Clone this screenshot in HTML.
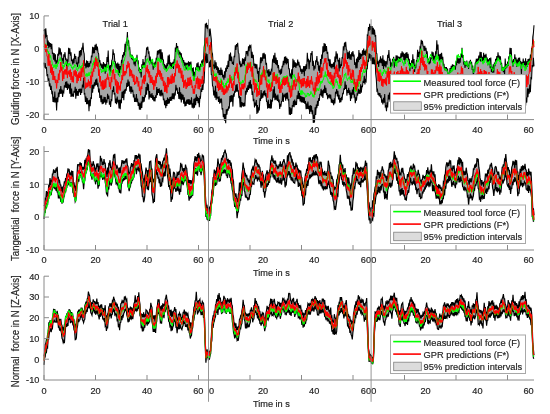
<!DOCTYPE html>
<html><head><meta charset="utf-8"><title>GPR force predictions</title>
<style>html,body{margin:0;padding:0;background:#fff;width:550px;height:414px;overflow:hidden} svg{display:block}</style>
</head><body>
<svg width="550" height="414" viewBox="0 0 550 414">
<style>.t{font-family:'Liberation Sans', Arial, sans-serif;font-size:9.2px;fill:#262626;stroke:#262626;stroke-width:0.18px} .t2{font-family:'Liberation Sans', Arial, sans-serif;font-size:9.2px;fill:#1a1a1a;stroke:#1a1a1a;stroke-width:0.18px} .yl{font-size:9.55px} .lg{font-size:9.3px}</style>
<rect width="550" height="414" fill="#fff"/>
<polygon points="44.0,29.9 44.6,30.6 45.2,31.3 45.8,31.9 46.4,34.0 47.0,37.8 47.6,41.7 48.2,44.2 48.8,43.9 49.4,44.0 50.0,44.2 50.6,44.7 51.2,46.0 51.8,49.0 52.4,51.9 53.0,54.9 53.6,56.1 54.2,56.7 54.8,57.5 55.4,58.1 56.0,61.5 56.6,63.1 57.2,60.2 57.8,57.2 58.4,54.1 59.0,52.5 59.6,52.2 60.2,51.8 60.8,52.3 61.4,55.3 62.0,58.6 62.6,61.8 63.2,61.9 63.8,58.3 64.4,54.4 65.0,54.3 65.6,57.5 66.2,60.9 66.8,63.6 67.4,61.5 68.0,57.8 68.6,53.6 69.2,52.6 69.8,52.1 70.4,53.1 71.0,55.2 71.6,58.4 72.2,61.8 72.8,63.0 73.4,61.9 74.0,59.6 74.6,57.0 75.2,56.5 75.8,59.6 76.4,63.0 77.0,66.7 77.6,64.0 78.2,60.5 78.8,56.8 79.4,53.4 80.0,53.7 80.6,54.0 81.2,54.0 81.8,50.9 82.4,48.1 83.0,45.5 83.6,49.5 84.2,56.3 84.8,62.7 85.4,67.3 86.0,65.3 86.6,64.1 87.2,63.4 87.8,63.6 88.4,64.4 89.0,64.8 89.6,64.9 90.2,64.8 90.8,62.2 91.4,59.2 92.0,55.4 92.6,52.8 93.2,51.5 93.8,50.5 94.4,49.5 95.0,47.8 95.6,46.3 96.2,46.7 96.8,47.3 97.4,48.1 98.0,51.1 98.6,55.2 99.2,58.7 99.8,61.3 100.4,63.4 101.0,65.7 101.6,66.3 102.2,66.5 102.8,66.3 103.4,65.8 104.0,65.2 104.6,65.0 105.2,65.1 105.8,65.7 106.4,64.6 107.0,60.9 107.6,59.6 108.2,59.2 108.8,63.9 109.4,67.7 110.0,69.8 110.6,68.1 111.2,65.8 111.8,61.7 112.4,57.2 113.0,52.3 113.6,52.1 114.2,55.3 114.8,59.2 115.4,63.7 116.0,66.2 116.6,66.6 117.2,66.2 117.8,66.3 118.4,67.6 119.0,68.9 119.6,69.9 120.2,69.0 120.8,65.9 121.4,62.8 122.0,59.9 122.6,57.3 123.2,55.8 123.8,54.8 124.4,53.1 125.0,51.1 125.6,48.5 126.2,43.8 126.8,38.6 127.4,35.5 128.0,38.4 128.6,42.2 129.2,47.2 129.8,52.0 130.4,55.3 131.0,56.0 131.6,56.2 132.2,56.6 132.8,57.7 133.4,59.9 134.0,62.2 134.6,64.5 135.2,64.5 135.8,61.8 136.4,59.0 137.0,58.5 137.6,61.3 138.2,64.3 138.8,67.6 139.4,70.3 140.0,71.1 140.6,71.3 141.2,70.0 141.8,67.3 142.4,65.1 143.0,65.0 143.6,64.3 144.2,63.8 144.8,63.4 145.4,59.2 146.0,54.4 146.6,49.5 147.2,47.0 147.8,49.2 148.4,51.6 149.0,54.3 149.6,57.9 150.2,60.0 150.8,61.2 151.4,61.8 152.0,62.2 152.6,63.8 153.2,66.2 153.8,66.1 154.4,65.8 155.0,64.3 155.6,62.1 156.2,59.9 156.8,57.1 157.4,54.1 158.0,53.0 158.6,52.2 159.2,51.8 159.8,51.5 160.4,52.2 161.0,52.6 161.6,53.2 162.2,54.5 162.8,58.1 163.4,61.5 164.0,63.7 164.6,65.5 165.2,66.8 165.8,67.4 166.4,66.6 166.9,65.6 167.5,64.0 168.1,63.3 168.7,62.8 169.3,62.6 169.9,62.6 170.5,63.8 171.1,65.2 171.7,66.4 172.3,64.1 172.9,63.4 173.5,62.9 174.1,62.2 174.7,59.1 175.3,54.7 175.9,49.6 176.5,47.2 177.1,46.2 177.7,49.0 178.3,51.6 178.9,53.7 179.5,54.1 180.1,54.5 180.7,55.3 181.3,56.4 181.9,57.4 182.5,59.0 183.1,60.6 183.7,62.3 184.3,64.1 184.9,66.1 185.5,66.3 186.1,66.3 186.7,66.5 187.3,65.1 187.9,64.6 188.5,64.0 189.1,63.4 189.7,63.7 190.3,63.8 190.9,64.1 191.5,67.5 192.1,70.5 192.7,73.0 193.3,75.5 193.9,76.9 194.5,75.1 195.1,72.4 195.7,69.6 196.3,66.8 196.9,66.2 197.5,66.3 198.1,66.7 198.7,67.2 199.3,68.3 199.9,67.4 200.5,65.6 201.1,63.4 201.7,62.1 202.3,62.3 202.9,62.4 203.5,60.5 204.1,54.7 204.7,42.5 205.3,26.1 205.9,24.0 206.5,24.6 207.1,25.9 207.7,27.7 208.3,30.1 208.9,32.5 209.5,32.3 210.1,31.5 210.7,30.5 211.3,40.7 211.9,49.5 212.5,55.8 213.1,62.6 213.7,67.7 214.3,67.6 214.9,67.0 215.5,66.7 216.1,66.3 216.7,67.4 217.3,68.4 217.9,69.4 218.5,70.9 219.1,72.7 219.7,72.9 220.3,72.3 220.9,71.4 221.5,71.0 222.1,73.2 222.7,75.9 223.3,77.8 223.9,78.3 224.5,76.7 225.1,74.3 225.7,71.4 226.3,69.4 226.9,67.4 227.5,65.7 228.1,64.5 228.7,63.4 229.3,61.1 229.9,58.7 230.5,57.1 231.1,57.9 231.7,59.6 232.3,62.8 232.9,64.5 233.5,61.1 234.1,57.7 234.7,53.4 235.3,48.8 235.9,47.2 236.5,45.7 237.1,44.0 237.7,46.6 238.3,51.2 238.9,56.0 239.5,61.1 240.1,65.6 240.7,65.8 241.3,65.8 241.9,62.8 242.5,61.7 243.1,61.9 243.7,62.2 244.3,61.7 244.9,61.2 245.5,56.9 246.1,53.7 246.7,52.6 247.3,53.6 247.9,54.7 248.5,52.4 249.1,49.8 249.7,47.9 250.3,45.7 250.9,47.9 251.5,50.1 252.1,53.4 252.7,56.5 253.3,59.8 253.9,63.5 254.5,67.0 255.1,66.7 255.7,66.0 256.3,65.2 256.9,67.6 257.5,69.9 258.1,72.4 258.7,73.2 259.3,69.7 259.9,65.5 260.5,61.4 261.1,60.7 261.7,59.9 262.3,58.7 262.9,57.2 263.5,56.1 264.1,55.9 264.7,56.2 265.3,57.4 265.9,61.7 266.5,66.0 267.1,70.3 267.7,72.7 268.3,72.2 268.9,71.7 269.5,73.7 270.1,74.4 270.7,73.5 271.3,71.2 271.9,67.2 272.5,63.5 273.1,59.9 273.7,58.5 274.3,59.0 274.9,61.3 275.5,61.5 276.1,61.1 276.7,61.8 277.3,62.7 277.9,64.3 278.5,67.9 279.1,70.0 279.7,72.5 280.3,73.4 280.9,72.6 281.5,70.0 282.1,67.1 282.7,64.1 283.3,62.8 283.9,61.5 284.5,60.7 285.1,60.8 285.7,61.4 286.3,60.8 286.9,59.8 287.5,59.6 288.1,63.0 288.7,67.0 289.3,71.1 289.9,73.2 290.5,75.4 291.1,75.7 291.7,74.5 292.3,70.7 292.9,66.7 293.5,63.8 294.1,63.2 294.7,63.7 295.3,64.3 295.9,64.7 296.5,64.8 297.1,63.8 297.7,62.7 298.3,61.9 298.9,63.6 299.5,65.2 300.1,67.1 300.7,70.4 301.3,70.8 301.9,71.5 302.5,71.5 303.1,70.2 303.7,69.2 304.3,68.1 304.9,67.3 305.5,67.4 306.1,66.3 306.7,63.9 307.3,61.4 307.9,59.4 308.5,60.7 309.1,61.5 309.7,62.1 310.3,59.1 310.9,56.0 311.5,53.4 312.1,54.5 312.7,59.4 313.3,64.0 313.9,67.2 314.5,69.2 315.1,66.5 315.7,63.6 316.3,60.8 316.9,59.5 317.5,62.1 318.1,64.8 318.7,67.4 319.3,69.1 319.9,65.1 320.5,61.1 321.1,58.2 321.7,57.2 322.3,55.6 322.9,54.0 323.5,50.3 324.1,45.9 324.7,45.2 325.3,45.3 325.9,47.2 326.5,48.8 327.1,52.2 327.7,55.9 328.3,59.0 328.9,61.6 329.5,62.5 330.1,62.9 330.7,64.1 331.3,65.7 331.9,65.8 332.5,65.8 333.1,65.8 333.7,64.6 334.3,62.4 334.9,59.4 335.5,56.2 336.1,53.8 336.7,55.2 337.3,57.5 337.9,60.1 338.5,63.1 339.1,64.4 339.7,65.1 340.3,65.6 340.9,65.9 341.5,63.9 342.1,59.6 342.7,55.5 343.3,51.2 343.9,47.8 344.5,45.8 345.1,43.5 345.7,43.7 346.3,47.7 346.9,53.1 347.5,55.3 348.1,56.3 348.7,55.0 349.3,54.1 349.9,55.1 350.5,56.1 351.1,57.4 351.7,56.0 352.3,54.5 352.9,52.6 353.5,53.8 354.1,57.5 354.7,61.3 355.3,65.3 355.9,65.2 356.5,63.8 357.1,62.1 357.7,60.1 358.3,59.2 358.9,57.9 359.5,56.8 360.1,55.6 360.7,55.9 361.3,56.2 361.9,55.0 362.5,53.5 363.1,52.3 363.7,51.4 364.3,52.7 364.9,54.3 365.5,54.0 366.1,51.8 366.7,49.1 367.3,37.3 367.9,33.2 368.5,30.8 369.1,28.3 369.7,27.5 370.3,28.3 370.9,29.4 371.5,31.1 372.1,32.6 372.7,32.1 373.3,31.5 373.9,31.6 374.5,32.1 375.1,32.3 375.7,39.8 376.3,50.4 376.9,58.4 377.5,62.7 378.1,63.5 378.7,63.2 379.3,62.5 379.9,60.7 380.5,59.9 381.1,60.7 381.7,61.7 382.3,62.0 382.9,62.0 383.5,61.8 384.1,61.8 384.7,62.5 385.3,63.3 385.9,64.2 386.5,63.7 387.1,61.0 387.7,57.9 388.3,55.9 388.9,56.1 389.5,57.9 390.1,61.7 390.7,64.3 391.3,65.0 391.9,64.1 392.5,61.5 393.1,59.0 393.7,58.7 394.3,59.7 394.9,60.7 395.5,61.2 396.1,59.0 396.7,57.6 397.3,57.5 397.9,57.5 398.5,58.6 399.1,59.5 399.7,58.8 400.3,58.2 400.9,56.7 401.5,54.8 402.1,54.2 402.7,54.2 403.3,55.7 403.9,56.4 404.5,56.2 405.1,56.4 405.7,56.8 406.3,55.2 406.9,55.3 407.5,55.0 408.1,55.8 408.7,58.7 409.3,61.2 409.9,64.0 410.5,64.6 411.1,64.4 411.6,62.8 412.2,61.2 412.8,59.6 413.4,61.0 414.0,63.8 414.6,66.9 415.2,67.2 415.8,66.4 416.4,62.7 417.0,58.8 417.6,55.9 418.2,55.3 418.8,55.1 419.4,54.4 420.0,50.3 420.6,46.2 421.2,43.2 421.8,41.9 422.4,42.9 423.0,44.2 423.6,47.7 424.2,48.0 424.8,48.4 425.4,48.9 426.0,50.0 426.6,51.7 427.2,55.5 427.8,59.4 428.4,61.7 429.0,62.5 429.6,62.0 430.2,61.1 430.8,58.6 431.4,56.5 432.0,55.3 432.6,56.0 433.2,57.5 433.8,58.6 434.4,58.5 435.0,55.8 435.6,53.2 436.2,51.0 436.8,49.0 437.4,48.2 438.0,49.3 438.6,52.8 439.2,56.0 439.8,57.7 440.4,57.0 441.0,56.1 441.6,55.0 442.2,56.9 442.8,59.8 443.4,63.0 444.0,66.1 444.6,67.3 445.2,68.2 445.8,69.0 446.4,68.9 447.0,68.8 447.6,71.1 448.2,73.0 448.8,74.1 449.4,73.0 450.0,71.6 450.6,70.0 451.2,68.9 451.8,67.6 452.4,66.7 453.0,66.6 453.6,66.7 454.2,67.0 454.8,67.5 455.4,66.2 456.0,64.3 456.6,61.9 457.2,59.5 457.8,59.9 458.4,60.4 459.0,61.5 459.6,62.8 460.2,60.9 460.8,57.6 461.4,54.1 462.0,51.1 462.6,54.8 463.2,58.7 463.8,62.4 464.4,64.6 465.0,64.4 465.6,64.2 466.2,63.2 466.8,62.7 467.4,65.2 468.0,67.7 468.6,66.9 469.2,64.7 469.8,62.7 470.4,61.3 471.0,62.3 471.6,64.3 472.2,66.7 472.8,69.3 473.4,71.8 474.0,72.7 474.6,68.7 475.2,64.7 475.8,61.1 476.4,60.7 477.0,60.5 477.6,59.8 478.2,59.4 478.8,59.2 479.4,57.1 480.0,55.5 480.6,54.5 481.2,55.4 481.8,58.0 482.4,59.7 483.0,60.2 483.6,58.8 484.2,57.6 484.8,56.6 485.4,55.8 486.0,55.2 486.6,58.3 487.2,61.2 487.8,62.3 488.4,61.3 489.0,60.6 489.6,60.3 490.2,62.8 490.8,65.0 491.4,67.0 492.0,68.7 492.6,70.4 493.2,70.2 493.8,69.1 494.4,65.9 495.0,62.6 495.6,61.4 496.2,59.9 496.8,58.3 497.4,57.1 498.0,55.7 498.6,56.6 499.2,57.6 499.8,58.4 500.4,59.1 501.0,62.0 501.6,64.8 502.2,67.2 502.8,68.9 503.4,70.1 504.0,69.2 504.6,68.1 505.2,66.8 505.8,65.6 506.4,65.5 507.0,65.0 507.6,64.0 508.2,62.2 508.8,58.4 509.4,54.7 510.0,51.2 510.6,51.3 511.2,53.8 511.8,58.2 512.4,62.7 513.0,62.8 513.6,61.8 514.2,60.2 514.8,57.9 515.4,59.7 516.0,61.5 516.6,62.9 517.2,63.6 517.8,62.2 518.4,61.6 519.0,61.0 519.6,61.0 520.2,63.1 520.8,65.4 521.4,66.7 522.0,65.7 522.6,63.6 523.2,61.7 523.8,62.3 524.4,62.7 525.0,63.4 525.6,65.6 526.2,65.7 526.8,65.0 527.4,63.6 528.0,62.3 528.6,61.0 529.2,60.0 529.8,59.0 530.4,58.0 531.0,56.0 531.6,51.0 532.2,45.9 532.8,38.3 533.4,29.9 534.0,27.6 534.0,59.6 533.4,59.4 532.8,63.4 532.2,68.7 531.6,75.8 531.0,83.0 530.4,86.0 529.8,88.0 529.2,89.9 528.6,91.9 528.0,94.4 527.4,96.6 526.8,99.1 526.2,100.9 525.6,102.1 525.0,101.1 524.4,99.6 523.8,98.2 523.2,96.7 522.6,97.6 522.0,98.8 521.4,99.7 520.8,98.4 520.2,96.1 519.6,93.9 519.0,93.8 518.4,94.5 517.8,95.0 517.2,96.4 516.6,95.7 516.0,94.3 515.4,92.5 514.8,90.6 514.2,93.0 513.6,94.8 513.0,96.3 512.4,96.6 511.8,92.6 511.2,88.6 510.6,86.5 510.0,86.9 509.4,89.9 508.8,93.2 508.2,96.5 507.6,97.9 507.0,98.4 506.4,98.5 505.8,98.3 505.2,99.4 504.6,100.7 504.0,101.9 503.4,102.8 502.8,101.6 502.2,99.8 501.6,97.7 501.0,95.4 500.4,92.9 499.8,92.7 499.2,92.3 498.6,91.8 498.0,91.4 497.4,92.3 496.8,93.1 496.2,94.2 495.6,95.3 495.0,96.0 494.4,98.8 493.8,101.7 493.2,102.9 492.6,103.0 492.0,101.3 491.4,99.5 490.8,97.5 490.2,95.4 489.6,93.1 489.0,93.8 488.4,95.0 487.8,96.4 487.2,95.7 486.6,93.2 486.0,90.6 485.4,91.1 484.8,92.0 484.2,93.0 483.6,94.2 483.0,95.6 482.4,95.0 481.8,93.4 481.2,90.8 480.6,89.9 480.0,90.9 479.4,92.6 478.8,94.7 478.2,94.9 477.6,94.9 477.0,94.9 476.4,94.5 475.8,94.3 475.2,97.3 474.6,100.6 474.0,104.0 473.4,103.2 472.8,101.0 472.2,98.7 471.6,96.5 471.0,94.7 470.4,94.0 469.8,95.5 469.2,97.6 468.6,99.8 468.0,100.6 467.4,98.1 466.8,95.6 466.2,96.1 465.6,97.3 465.0,98.0 464.4,98.7 463.8,97.0 463.2,93.7 462.6,90.3 462.0,87.0 461.4,89.4 460.8,92.2 460.2,94.9 459.6,96.1 459.0,94.2 458.4,92.5 457.8,91.5 457.2,91.1 456.6,93.6 456.0,96.0 455.4,97.9 454.8,99.2 454.2,98.7 453.6,98.4 453.0,98.4 452.4,98.5 451.8,99.4 451.2,100.6 450.6,101.7 450.0,103.2 449.4,104.6 448.8,105.7 448.2,104.5 447.6,102.7 447.0,100.3 446.4,100.4 445.8,100.6 445.2,100.4 444.6,100.1 444.0,99.6 443.4,97.1 442.8,94.6 442.2,92.3 441.6,90.7 441.0,92.0 440.4,93.2 439.8,94.1 439.2,92.6 438.6,89.6 438.0,86.4 437.4,85.1 436.8,85.7 436.2,87.5 435.6,89.5 435.0,92.0 434.4,94.5 433.8,94.0 433.2,91.2 432.6,88.0 432.0,85.7 431.4,85.2 430.8,85.8 430.2,86.6 429.6,88.2 429.0,89.7 428.4,89.8 427.8,88.5 427.2,85.8 426.6,83.1 426.0,82.7 425.4,82.8 424.8,83.0 424.2,83.4 423.6,83.8 423.0,81.0 422.4,79.3 421.8,77.7 421.2,78.5 420.6,80.9 420.0,84.7 419.4,88.3 418.8,88.6 418.2,88.5 417.6,87.5 417.0,88.5 416.4,90.5 415.8,92.3 415.2,93.6 414.6,94.5 414.0,92.8 413.4,91.2 412.8,89.8 412.2,90.9 411.6,91.9 411.1,93.0 410.5,93.4 409.9,93.3 409.3,90.9 408.7,88.9 408.1,87.1 407.5,87.7 406.9,89.4 406.3,90.7 405.7,91.9 405.1,90.7 404.5,89.5 403.9,88.8 403.3,88.4 402.7,88.1 402.1,89.4 401.5,91.1 400.9,92.6 400.3,92.2 399.7,91.0 399.1,89.8 398.5,88.8 397.9,89.0 397.3,90.1 396.7,91.4 396.1,93.0 395.5,94.6 394.9,93.5 394.3,91.9 393.7,90.3 393.1,90.0 392.5,91.9 391.9,93.8 391.3,95.8 390.7,97.7 390.1,97.5 389.5,96.2 388.9,96.4 388.3,97.8 387.7,101.4 387.1,106.1 386.5,109.0 385.9,107.8 385.3,105.1 384.7,102.5 384.1,100.8 383.5,100.8 382.9,101.1 382.3,101.2 381.7,100.2 381.1,97.6 380.5,95.2 379.9,94.5 379.3,95.0 378.7,94.5 378.1,93.6 377.5,91.6 376.9,87.3 376.3,81.2 375.7,70.8 375.1,63.1 374.5,62.2 373.9,61.0 373.3,60.4 372.7,60.6 372.1,60.7 371.5,58.9 370.9,57.0 370.3,56.1 369.7,55.7 369.1,56.8 368.5,59.5 367.9,62.0 367.3,65.8 366.7,75.3 366.1,78.5 365.5,81.6 364.9,82.6 364.3,81.5 363.7,80.7 363.1,82.2 362.5,84.6 361.9,87.7 361.3,90.5 360.7,91.8 360.1,91.7 359.5,91.9 358.9,92.0 358.3,92.3 357.7,93.1 357.1,95.9 356.5,98.3 355.9,100.5 355.3,101.3 354.7,98.0 354.1,94.9 353.5,92.0 352.9,91.6 352.3,94.2 351.7,96.6 351.1,98.7 350.5,97.3 349.9,94.4 349.3,91.6 348.7,90.6 348.1,91.4 347.5,92.2 346.9,91.8 346.3,88.2 345.7,85.2 345.1,85.1 344.5,87.3 343.9,89.4 343.3,92.1 342.7,94.6 342.1,96.9 341.5,99.4 340.9,100.4 340.3,100.1 339.7,99.6 339.1,98.9 338.5,97.8 337.9,95.7 337.3,94.0 336.7,92.6 336.1,91.9 335.5,94.4 334.9,97.6 334.3,100.5 333.7,102.5 333.1,102.7 332.5,101.8 331.9,100.8 331.3,100.0 330.7,98.3 330.1,97.1 329.5,96.6 328.9,96.1 328.3,96.1 327.7,95.7 327.1,94.7 326.5,93.4 325.9,91.6 325.3,89.7 324.7,89.5 324.1,89.7 323.5,92.3 322.9,94.2 322.3,93.9 321.7,93.7 321.1,92.7 320.5,93.6 319.9,95.7 319.3,97.9 318.7,100.6 318.1,102.5 317.5,104.2 316.9,105.9 316.3,108.0 315.7,111.5 315.1,115.2 314.5,118.7 313.9,118.5 313.3,117.2 312.7,114.3 312.1,111.4 311.5,108.5 310.9,109.4 310.3,110.8 309.7,112.1 309.1,110.0 308.5,107.6 307.9,104.8 307.3,105.3 306.7,105.5 306.1,105.4 305.5,103.9 304.9,101.3 304.3,100.4 303.7,99.9 303.1,99.3 302.5,99.0 301.9,99.7 301.3,100.0 300.7,100.7 300.1,98.4 299.5,96.8 298.9,95.4 298.3,93.9 297.7,95.8 297.1,98.7 296.5,101.6 295.9,103.4 295.3,103.0 294.7,102.4 294.1,102.0 293.5,102.3 292.9,104.3 292.3,107.3 291.7,110.2 291.1,111.1 290.5,110.9 289.9,108.7 289.3,106.7 288.7,102.6 288.1,98.6 287.5,95.1 286.9,95.4 286.3,96.4 285.7,97.2 285.1,96.6 284.5,95.8 283.9,95.7 283.3,96.1 282.7,96.7 282.1,99.8 281.5,102.7 280.9,105.3 280.3,106.1 279.7,105.2 279.1,102.7 278.5,100.6 277.9,97.9 277.3,97.1 276.7,97.1 276.1,96.9 275.5,97.4 274.9,97.3 274.3,95.0 273.7,94.5 273.1,95.8 272.5,99.4 271.9,102.9 271.3,106.0 270.7,107.4 270.1,107.3 269.5,106.1 268.9,104.2 268.3,104.6 267.7,105.1 267.1,103.3 266.5,99.8 265.9,96.3 265.3,92.9 264.7,92.6 264.1,93.2 263.5,94.3 262.9,95.2 262.3,95.6 261.7,95.9 261.1,95.6 260.5,97.2 259.9,102.1 259.3,107.3 258.7,111.3 258.1,110.5 257.5,108.0 256.9,105.6 256.3,103.2 255.7,103.9 255.1,104.5 254.5,104.6 253.9,101.2 253.3,97.5 252.7,94.2 252.1,91.1 251.5,87.7 250.9,85.5 250.3,83.2 249.7,84.6 249.1,85.6 248.5,87.2 247.9,88.9 247.3,89.6 246.7,90.4 246.1,93.3 245.5,97.6 244.9,102.8 244.3,104.1 243.7,105.4 243.1,104.3 242.5,103.2 241.9,103.4 241.3,105.8 240.7,105.7 240.1,105.5 239.5,100.8 238.9,96.4 238.3,92.4 237.7,88.8 237.1,86.9 236.5,87.8 235.9,88.6 235.3,89.4 234.7,92.3 234.1,94.9 233.5,96.4 232.9,98.0 232.3,98.2 231.7,97.8 231.1,98.9 230.5,101.0 229.9,103.2 229.3,105.6 228.7,108.1 228.1,109.3 227.5,110.6 226.9,112.4 226.3,114.5 225.7,116.7 225.1,117.8 224.5,117.7 223.9,116.9 223.3,114.1 222.7,110.3 222.1,106.0 221.5,102.2 220.9,101.0 220.3,101.4 219.7,102.3 219.1,102.3 218.5,100.6 217.9,98.8 217.3,97.2 216.7,95.6 216.1,93.9 215.5,93.9 214.9,93.8 214.3,94.0 213.7,93.7 213.1,89.1 212.5,83.4 211.9,78.1 211.3,70.9 210.7,62.5 210.1,63.5 209.5,64.3 208.9,64.5 208.3,62.1 207.7,59.6 207.1,57.6 206.5,56.1 205.9,55.2 205.3,57.1 204.7,70.3 204.1,80.1 203.5,84.4 202.9,86.5 202.3,87.8 201.7,89.2 201.1,91.8 200.5,95.5 199.9,98.7 199.3,101.2 198.7,101.1 198.1,100.4 197.5,100.0 196.9,99.6 196.3,99.7 195.7,101.5 195.1,103.2 194.5,104.9 193.9,106.8 193.3,107.0 192.7,106.1 192.1,105.3 191.5,103.6 190.9,101.0 190.3,101.4 189.7,102.1 189.1,102.2 188.5,102.2 187.9,102.2 187.3,102.1 186.7,103.2 186.1,103.4 185.5,103.8 184.9,103.9 184.3,102.2 183.7,100.4 183.1,98.6 182.5,97.0 181.9,95.6 181.3,95.4 180.7,95.2 180.1,95.3 179.5,95.6 178.9,95.7 178.3,94.1 177.7,91.9 177.1,89.4 176.5,88.5 175.9,89.0 175.3,92.4 174.7,95.4 174.1,97.0 173.5,96.5 172.9,96.2 172.3,96.0 171.7,97.5 171.1,98.0 170.5,98.4 169.9,99.1 169.3,99.9 168.7,100.1 168.1,100.6 167.5,101.3 166.9,102.9 166.4,103.9 165.8,104.6 165.2,104.0 164.6,102.7 164.0,100.9 163.4,98.9 162.8,96.4 162.2,93.8 161.6,93.4 161.0,93.0 160.4,92.6 159.8,91.9 159.2,91.9 158.6,91.4 158.0,91.3 157.4,91.4 156.8,93.6 156.2,95.5 155.6,96.8 155.0,98.2 154.4,98.8 153.8,98.3 153.2,97.8 152.6,96.3 152.0,95.6 151.4,96.2 150.8,96.4 150.2,96.1 149.6,94.9 149.0,92.2 148.4,90.5 147.8,89.0 147.2,87.7 146.6,88.7 146.0,91.8 145.4,94.8 144.8,97.9 144.2,98.3 143.6,98.8 143.0,99.5 142.4,99.6 141.8,101.8 141.2,104.5 140.6,106.3 140.0,107.0 139.4,107.1 138.8,105.3 138.2,102.9 137.6,100.7 137.0,98.7 136.4,98.1 135.8,99.0 135.2,99.9 134.6,98.7 134.0,96.3 133.4,93.9 132.8,91.7 132.2,90.5 131.6,90.1 131.0,89.8 130.4,90.0 129.8,88.5 129.2,85.5 128.6,82.4 128.0,82.6 127.4,83.9 126.8,86.4 126.2,89.2 125.6,91.7 125.0,92.4 124.4,92.5 123.8,92.4 123.2,92.7 122.6,94.2 122.0,96.9 121.4,99.8 120.8,103.0 120.2,106.1 119.6,107.1 119.0,105.5 118.4,103.3 117.8,101.2 117.2,100.4 116.6,100.9 116.0,100.6 115.4,98.2 114.8,94.5 114.2,91.6 113.6,89.3 113.0,89.7 112.4,93.7 111.8,97.4 111.2,100.7 110.6,103.0 110.0,104.7 109.4,102.5 108.8,99.3 108.2,95.5 107.6,96.9 107.0,98.7 106.4,101.1 105.8,100.9 105.2,100.2 104.6,100.0 104.0,100.3 103.4,100.8 102.8,101.4 102.2,101.7 101.6,101.5 101.0,100.0 100.4,96.7 99.8,93.8 99.2,91.3 98.6,88.6 98.0,85.5 97.4,83.3 96.8,82.3 96.2,81.7 95.6,81.3 95.0,82.8 94.4,84.4 93.8,85.3 93.2,86.7 92.6,88.8 92.0,92.3 91.4,97.0 90.8,100.1 90.2,102.7 89.6,102.8 89.0,102.7 88.4,102.3 87.8,101.5 87.2,101.3 86.6,100.2 86.0,99.5 85.4,99.8 84.8,95.9 84.2,91.3 83.6,86.2 83.0,83.8 82.4,86.5 81.8,89.3 81.2,92.5 80.6,91.8 80.0,90.7 79.4,89.6 78.8,91.6 78.2,92.5 77.6,93.3 77.0,93.4 76.4,91.6 75.8,90.0 75.2,88.8 74.6,90.1 74.0,92.8 73.4,95.1 72.8,96.3 72.2,95.2 71.6,91.8 71.0,88.6 70.4,86.5 69.8,85.5 69.2,85.9 68.6,86.2 68.0,86.6 67.4,86.5 66.8,84.8 66.2,84.4 65.6,84.4 65.0,84.7 64.4,87.0 63.8,90.7 63.2,94.2 62.6,93.9 62.0,92.3 61.4,90.6 60.8,89.2 60.2,90.2 59.6,92.2 59.0,93.9 58.4,96.3 57.8,98.4 57.2,100.4 56.6,102.6 56.0,101.6 55.4,99.4 54.8,100.0 54.2,100.0 53.6,99.4 53.0,98.2 52.4,95.3 51.8,91.8 51.2,88.2 50.6,86.2 50.0,84.5 49.4,82.7 48.8,80.9 48.2,79.5 47.6,76.9 47.0,72.9 46.4,69.0 45.8,66.7 45.2,65.9 44.6,64.8 44.0,63.9" fill="#a6a6a6"/>
<polyline points="44.0,31.2 44.6,29.1 45.2,38.5 45.8,28.3 46.4,36.2 47.0,35.8 47.6,45.6 48.2,40.6 48.8,47.9 49.4,42.3 50.0,46.8 50.6,43.2 51.2,49.2 51.8,43.8 52.4,53.3 53.0,53.2 53.6,59.8 54.2,53.0 54.8,61.4 55.4,54.4 56.0,64.2 56.6,60.4 57.2,63.0 57.8,53.9 58.4,55.8 59.0,47.2 59.6,54.5 60.2,48.4 60.8,53.7 61.4,52.3 62.0,60.0 62.6,59.1 63.2,63.8 63.8,54.4 64.4,55.9 65.0,52.2 65.6,59.2 66.2,59.0 66.8,70.4 67.4,60.1 68.0,60.7 68.6,47.8 69.2,53.9 69.8,48.3 70.4,55.7 71.0,52.3 71.6,61.1 72.2,59.6 72.8,64.5 73.4,58.5 74.0,63.3 74.6,53.8 75.2,59.0 75.8,56.1 76.4,64.3 77.0,62.7 77.6,66.8 78.2,56.7 78.8,63.5 79.4,50.8 80.0,57.2 80.6,50.0 81.2,55.4 81.8,47.6 82.4,49.5 83.0,42.8 83.6,51.7 84.2,53.8 84.8,66.0 85.4,64.6 86.0,68.3 86.6,60.4 87.2,67.1 87.8,61.0 88.4,67.4 89.0,63.1 89.6,66.6 90.2,60.8 90.8,63.5 91.4,55.5 92.0,57.3 92.6,46.9 93.2,53.4 93.8,47.3 94.4,53.2 95.0,44.9 95.6,50.0 96.2,43.7 96.8,50.5 97.4,46.6 98.0,52.4 98.6,53.7 99.2,62.3 99.8,60.0 100.4,64.8 101.0,64.2 101.6,67.7 102.2,64.4 102.8,69.2 103.4,62.0 104.0,68.9 104.6,63.6 105.2,73.7 105.8,64.1 106.4,67.8 107.0,57.1 107.6,61.9 108.2,50.5 108.8,66.0 109.4,66.0 110.0,73.4 110.6,65.1 111.2,67.8 111.8,60.3 112.4,59.2 113.0,49.4 113.6,54.9 114.2,53.3 114.8,61.5 115.4,61.6 116.0,67.6 116.6,63.6 117.2,68.9 117.8,62.6 118.4,75.2 119.0,63.8 119.6,73.3 120.2,66.1 120.8,69.7 121.4,61.0 122.0,62.0 122.6,54.8 123.2,57.4 123.8,52.0 124.4,55.4 125.0,43.9 125.6,52.0 126.2,42.3 126.8,42.6 127.4,32.1 128.0,45.7 128.6,40.3 129.2,49.1 129.8,48.3 130.4,56.6 131.0,54.5 131.6,59.1 132.2,54.8 132.8,60.3 133.4,57.2 134.0,64.5 134.6,61.1 135.2,66.3 135.8,58.5 136.4,61.4 137.0,54.8 137.6,63.0 138.2,60.3 138.8,69.7 139.4,68.5 140.0,73.2 140.6,69.1 141.2,77.5 141.8,64.2 142.4,68.5 143.0,59.0 143.6,66.3 144.2,62.2 144.8,67.2 145.4,56.3 146.0,56.2 146.6,47.5 147.2,49.8 147.8,46.7 148.4,52.9 149.0,52.2 149.6,60.7 150.2,56.6 150.8,62.9 151.4,60.0 152.0,64.5 152.6,61.7 153.2,69.7 153.8,63.4 154.4,67.6 155.0,61.7 155.6,64.7 156.2,57.9 156.8,60.0 157.4,50.7 158.0,54.8 158.6,50.2 159.2,53.5 159.8,49.4 160.4,59.7 161.0,49.3 161.6,61.5 162.2,52.2 162.8,59.5 163.4,59.8 164.0,66.3 164.6,64.0 165.2,70.0 165.8,65.3 166.4,69.2 166.9,63.3 167.5,66.3 168.1,55.5 168.7,64.1 169.3,54.5 169.9,65.8 170.5,62.2 171.1,67.0 171.7,62.8 172.3,68.0 172.9,61.8 173.5,68.9 174.1,59.4 174.7,63.0 175.3,47.6 175.9,52.0 176.5,43.1 177.1,50.3 177.7,46.0 178.3,54.4 178.9,50.2 179.5,57.5 180.1,51.7 180.7,56.6 181.3,53.2 181.9,59.7 182.5,57.6 183.1,62.7 183.7,60.0 184.3,65.6 184.9,62.2 185.5,68.7 186.1,62.9 186.7,69.4 187.3,62.8 187.9,67.3 188.5,61.4 189.1,65.6 189.7,62.2 190.3,67.3 190.9,61.5 191.5,70.1 192.1,68.0 192.7,75.4 193.3,67.2 193.9,80.7 194.5,71.9 195.1,75.3 195.7,67.4 196.3,69.9 196.9,63.4 197.5,69.8 198.1,62.3 198.7,70.8 199.3,66.2 199.9,69.9 200.5,63.7 201.1,66.7 201.7,60.5 202.3,65.7 202.9,59.3 203.5,62.3 204.1,47.4 204.7,43.9 205.3,23.7 205.9,27.5 206.5,22.7 207.1,28.8 207.7,25.1 208.3,31.3 208.9,30.2 209.5,36.3 210.1,28.6 210.7,34.2 211.3,39.4 211.9,52.2 212.5,53.9 213.1,63.9 213.7,66.3 214.3,69.1 214.9,60.2 215.5,68.2 216.1,62.4 216.7,70.0 217.3,66.3 217.9,73.1 218.5,67.5 219.1,74.9 219.7,70.1 220.3,75.2 220.9,67.6 221.5,74.9 222.1,69.9 222.7,77.5 223.3,74.9 223.9,79.7 224.5,71.4 225.1,77.6 225.7,67.9 226.3,71.6 226.9,65.4 227.5,68.9 228.1,60.8 228.7,66.9 229.3,54.2 229.9,61.0 230.5,52.5 231.1,61.2 231.7,56.6 232.3,64.0 232.9,61.9 233.5,65.0 234.1,55.7 234.7,57.3 235.3,45.3 235.9,50.0 236.5,44.0 237.1,46.6 237.7,42.8 238.3,52.4 238.9,53.9 239.5,63.3 240.1,62.2 240.7,67.2 241.3,63.9 241.9,66.5 242.5,58.4 243.1,63.9 243.7,58.8 244.3,65.5 244.9,57.2 245.5,60.8 246.1,51.0 246.7,54.1 247.3,50.9 247.9,56.3 248.5,46.4 249.1,51.2 249.7,44.7 250.3,47.1 250.9,46.0 251.5,58.0 252.1,51.9 252.7,58.3 253.3,54.9 253.9,65.7 254.5,63.5 255.1,68.2 255.7,63.7 256.3,68.7 256.9,64.2 257.5,73.7 258.1,71.1 258.7,81.9 259.3,67.4 259.9,69.2 260.5,57.4 261.1,63.1 261.7,57.3 262.3,61.2 262.9,53.3 263.5,58.7 264.1,52.8 264.7,58.6 265.3,54.2 265.9,64.8 266.5,62.8 267.1,73.1 267.7,70.2 268.3,76.8 268.9,69.0 269.5,76.4 270.1,71.5 270.7,74.8 271.3,69.7 271.9,70.5 272.5,60.2 273.1,61.4 273.7,55.2 274.3,62.9 274.9,52.9 275.5,64.2 276.1,57.5 276.7,65.2 277.3,60.1 277.9,68.1 278.5,65.1 279.1,71.8 279.7,71.0 280.3,74.6 280.9,68.9 281.5,73.8 282.1,65.7 282.7,67.2 283.3,60.8 283.9,65.1 284.5,56.7 285.1,63.2 285.7,56.4 286.3,64.5 286.9,57.8 287.5,63.3 288.1,59.1 288.7,68.8 289.3,68.8 289.9,76.5 290.5,73.6 291.1,78.8 291.7,69.2 292.3,79.3 292.9,58.8 293.5,67.6 294.1,60.4 294.7,67.0 295.3,62.4 295.9,67.9 296.5,63.3 297.1,65.8 297.7,59.6 298.3,65.5 298.9,61.9 299.5,67.2 300.1,65.6 300.7,71.7 301.3,68.9 301.9,74.0 302.5,70.2 303.1,71.8 303.7,66.0 304.3,76.1 304.9,66.0 305.5,70.7 306.1,64.3 306.7,69.1 307.3,52.8 307.9,61.6 308.5,58.9 309.1,69.2 309.7,60.3 310.3,62.1 310.9,53.1 311.5,55.1 312.1,51.1 312.7,66.0 313.3,60.8 313.9,70.5 314.5,67.0 315.1,68.6 315.7,60.3 316.3,62.1 316.9,56.1 317.5,65.0 318.1,61.6 318.7,70.8 319.3,65.5 319.9,73.0 320.5,59.1 321.1,64.2 321.7,54.6 322.3,58.8 322.9,46.3 323.5,52.5 324.1,43.1 324.7,51.6 325.3,43.7 325.9,50.9 326.5,46.1 327.1,53.8 327.7,51.8 328.3,60.2 328.9,59.6 329.5,66.1 330.1,59.4 330.7,67.4 331.3,63.8 331.9,68.5 332.5,63.9 333.1,67.0 333.7,62.3 334.3,69.2 334.9,56.6 335.5,62.3 336.1,51.4 336.7,58.6 337.3,53.6 337.9,61.5 338.5,59.8 339.1,71.4 339.7,57.7 340.3,68.1 340.9,64.3 341.5,66.0 342.1,57.1 342.7,58.5 343.3,46.3 343.9,50.5 344.5,42.5 345.1,46.6 345.7,41.8 346.3,49.5 346.9,50.3 347.5,58.9 348.1,52.4 348.7,58.4 349.3,50.9 349.9,59.4 350.5,54.2 351.1,60.0 351.7,52.2 352.3,56.5 352.9,51.1 353.5,55.9 354.1,55.4 354.7,65.0 355.3,62.3 355.9,68.5 356.5,58.5 357.1,68.2 357.7,56.8 358.3,62.1 358.9,50.1 359.5,60.0 360.1,52.7 360.7,59.0 361.3,54.0 361.9,56.4 362.5,50.3 363.1,55.5 363.7,48.5 364.3,54.8 364.9,50.9 365.5,55.8 366.1,49.5 366.7,53.5 367.3,35.0 367.9,35.2 368.5,27.0 369.1,30.9 369.7,23.9 370.3,29.8 370.9,26.0 371.5,34.5 372.1,26.0 372.7,34.5 373.3,27.8 373.9,34.8 374.5,29.6 375.1,36.0 375.7,35.8 376.3,53.4 376.9,53.6 377.5,64.2 378.1,61.4 378.7,67.0 379.3,59.7 379.9,62.8 380.5,56.4 381.1,63.1 381.7,58.5 382.3,66.0 382.9,55.2 383.5,68.9 384.1,59.8 384.7,66.1 385.3,61.1 385.9,67.4 386.5,62.3 387.1,63.4 387.7,54.7 388.3,57.8 388.9,50.1 389.5,60.8 390.1,58.6 390.7,67.1 391.3,62.5 391.9,66.2 392.5,58.8 393.1,60.5 393.7,56.8 394.3,67.8 394.9,59.2 395.5,63.7 396.1,55.3 396.7,61.0 397.3,55.5 397.9,62.8 398.5,56.5 399.1,61.4 399.7,56.7 400.3,61.9 400.9,53.2 401.5,57.5 402.1,51.4 402.7,56.7 403.3,52.6 403.9,59.9 404.5,53.8 405.1,63.8 405.7,52.9 406.3,58.3 406.9,52.0 407.5,58.2 408.1,53.9 408.7,60.8 409.3,58.9 409.9,71.3 410.5,63.0 411.1,66.3 411.6,60.3 412.2,69.0 412.8,54.2 413.4,64.4 414.0,59.1 414.6,72.0 415.2,64.7 415.8,68.1 416.4,60.6 417.0,61.0 417.6,49.7 418.2,56.9 418.8,51.8 419.4,57.7 420.0,47.2 420.6,48.2 421.2,39.7 421.8,44.1 422.4,40.8 423.0,45.9 423.6,46.4 424.2,51.0 424.8,45.9 425.4,50.7 426.0,47.8 426.6,54.1 427.2,51.3 427.8,61.3 428.4,58.5 429.0,64.3 429.6,60.7 430.2,63.3 430.8,57.0 431.4,59.1 432.0,51.5 432.6,58.6 433.2,52.3 433.8,62.3 434.4,55.7 435.0,58.5 435.6,51.2 436.2,54.6 436.8,40.2 437.4,49.7 438.0,44.6 438.6,60.7 439.2,54.3 439.8,61.0 440.4,53.8 441.0,59.1 441.6,52.9 442.2,60.0 442.8,56.9 443.4,66.2 444.0,63.8 444.6,70.2 445.2,67.0 445.8,70.4 446.4,67.2 447.0,70.2 447.6,68.6 448.2,76.1 448.8,72.9 449.4,75.8 450.0,68.1 450.6,72.6 451.2,65.7 451.8,71.2 452.4,64.4 453.0,68.0 453.6,64.9 454.2,68.3 454.8,65.5 455.4,69.8 456.0,61.3 456.6,65.3 457.2,56.0 457.8,62.9 458.4,58.4 459.0,63.9 459.6,58.2 460.2,62.6 460.8,54.4 461.4,57.5 462.0,47.8 462.6,57.8 463.2,55.0 463.8,64.7 464.4,61.0 465.0,67.9 465.6,61.6 466.2,66.3 466.8,60.5 467.4,66.5 468.0,64.9 468.6,69.0 469.2,61.4 469.8,63.9 470.4,59.8 471.0,64.2 471.6,61.9 472.2,70.0 472.8,65.5 473.4,77.2 474.0,69.2 474.6,71.7 475.2,63.1 475.8,62.7 476.4,58.7 477.0,64.2 477.6,58.6 478.2,60.6 478.8,55.6 479.4,60.4 480.0,51.9 480.6,61.5 481.2,52.0 481.8,61.2 482.4,56.9 483.0,62.4 483.6,52.9 484.2,59.7 484.8,54.8 485.4,59.5 486.0,53.7 486.6,60.5 487.2,57.6 487.8,65.1 488.4,59.3 489.0,64.3 489.6,58.0 490.2,68.2 490.8,57.5 491.4,72.1 492.0,66.8 492.6,72.8 493.2,64.2 493.8,72.8 494.4,62.6 495.0,66.3 495.6,58.8 496.2,62.4 496.8,56.0 497.4,60.8 498.0,52.2 498.6,58.1 499.2,55.6 499.8,60.2 500.4,56.3 501.0,64.9 501.6,62.8 502.2,70.9 502.8,67.1 503.4,72.3 504.0,66.9 504.6,75.5 505.2,58.6 505.8,68.6 506.4,64.2 507.0,67.5 507.6,61.5 508.2,65.9 508.8,56.3 509.4,57.9 510.0,47.8 510.6,53.9 511.2,48.1 511.8,59.8 512.4,61.3 513.0,66.7 513.6,59.0 514.2,62.2 514.8,54.4 515.4,61.1 516.0,57.6 516.6,66.6 517.2,59.6 517.8,64.2 518.4,57.9 519.0,62.3 519.6,57.5 520.2,64.4 520.8,61.0 521.4,74.0 522.0,62.1 522.6,65.2 523.2,58.6 523.8,65.0 524.4,61.4 525.0,65.4 525.6,58.4 526.2,68.4 526.8,61.2 527.4,67.0 528.0,59.0 528.6,64.4 529.2,58.5 529.8,63.8 530.4,54.5 531.0,58.0 531.6,48.5 532.2,48.9 532.8,36.8 533.4,33.0 534.0,25.3" fill="none" stroke="#000" stroke-width="1.05"/>
<polyline points="44.0,62.6 44.6,67.8 45.2,63.0 45.8,68.8 46.4,67.1 47.0,76.2 47.6,74.1 48.2,81.9 48.8,78.4 49.4,86.5 50.0,83.3 50.6,89.9 51.2,85.8 51.8,93.1 52.4,92.1 53.0,101.9 53.6,96.9 54.2,102.4 54.8,91.6 55.4,102.5 56.0,97.9 56.6,110.6 57.2,97.3 57.8,102.1 58.4,92.5 59.0,97.3 59.6,89.2 60.2,94.0 60.8,86.1 61.4,93.7 62.0,89.6 62.6,96.9 63.2,91.4 63.8,92.4 64.4,85.4 65.0,87.4 65.6,81.7 66.2,87.9 66.8,81.4 67.4,89.9 68.0,83.6 68.6,88.4 69.2,84.7 69.8,93.6 70.4,83.3 71.0,97.0 71.6,88.6 72.2,96.4 72.8,94.8 73.4,96.8 74.0,90.7 74.6,92.7 75.2,86.9 75.8,98.8 76.4,88.8 77.0,95.8 77.6,91.0 78.2,95.9 78.8,89.1 79.4,91.1 80.0,88.6 80.6,94.9 81.2,88.8 81.8,93.0 82.4,84.5 83.0,87.4 83.6,77.9 84.2,93.8 84.8,93.5 85.4,102.0 86.0,96.5 86.6,104.1 87.2,98.1 87.8,104.1 88.4,100.3 89.0,111.1 89.6,99.8 90.2,106.3 90.8,97.4 91.4,99.0 92.0,84.7 92.6,92.8 93.2,84.5 93.8,88.7 94.4,82.2 95.0,86.2 95.6,79.5 96.2,85.0 96.8,78.6 97.4,85.4 98.0,84.2 98.6,92.5 99.2,88.5 99.8,97.9 100.4,95.4 101.0,102.2 101.6,95.4 102.2,104.3 102.8,99.3 103.4,103.7 104.0,96.9 104.6,102.4 105.2,97.0 105.8,104.7 106.4,99.6 107.0,102.6 107.6,93.9 108.2,98.8 108.8,95.6 109.4,104.6 110.0,101.2 110.6,106.9 111.2,99.1 111.8,101.2 112.4,90.1 113.0,91.8 113.6,86.4 114.2,94.5 114.8,92.9 115.4,103.1 116.0,98.5 116.6,104.3 117.2,96.6 117.8,102.5 118.4,99.8 119.0,108.4 119.6,99.9 120.2,109.3 120.8,99.6 121.4,103.1 122.0,91.7 122.6,98.0 123.2,90.7 123.8,100.3 124.4,89.6 125.0,93.8 125.6,88.9 126.2,90.8 126.8,82.9 127.4,86.9 128.0,79.5 128.6,86.1 129.2,81.6 129.8,91.8 130.4,86.3 131.0,93.7 131.6,86.5 132.2,92.0 132.8,89.8 133.4,97.4 134.0,94.3 134.6,101.9 135.2,97.7 135.8,101.9 136.4,94.1 137.0,102.1 137.6,98.5 138.2,105.9 138.8,102.2 139.4,109.7 140.0,103.2 140.6,109.7 141.2,101.6 141.8,108.0 142.4,96.5 143.0,102.4 143.6,97.0 144.2,101.8 144.8,95.8 145.4,96.5 146.0,87.0 146.6,94.8 147.2,82.7 147.8,90.4 148.4,84.3 149.0,99.4 149.6,91.1 150.2,97.4 150.8,94.3 151.4,97.9 152.0,93.1 152.6,99.8 153.2,95.4 153.8,101.3 154.4,97.0 155.0,101.5 155.6,95.4 156.2,98.0 156.8,87.1 157.4,95.2 158.0,89.1 158.6,92.8 159.2,88.4 159.8,95.6 160.4,90.2 161.0,96.4 161.6,89.7 162.2,95.4 162.8,92.8 163.4,100.1 164.0,98.6 164.6,105.1 165.2,100.6 165.8,108.3 166.4,100.0 166.9,105.9 167.5,97.5 168.1,104.0 168.7,98.7 169.3,103.5 169.9,97.0 170.5,101.0 171.1,96.6 171.7,100.7 172.3,93.2 172.9,99.0 173.5,93.4 174.1,99.5 174.7,93.6 175.3,94.5 175.9,84.7 176.5,90.3 177.1,87.8 177.7,93.9 178.3,92.0 178.9,98.9 179.5,87.4 180.1,99.4 180.7,92.4 181.3,102.5 181.9,93.7 182.5,99.6 183.1,94.9 183.7,103.6 184.3,97.2 184.9,106.4 185.5,101.5 186.1,105.9 186.7,99.7 187.3,103.8 187.9,99.4 188.5,104.5 189.1,99.1 189.7,104.9 190.3,100.2 190.9,104.4 191.5,97.4 192.1,107.6 192.7,103.2 193.3,108.4 193.9,98.9 194.5,107.8 195.1,97.9 195.7,105.2 196.3,94.3 196.9,100.9 197.5,96.9 198.1,103.1 198.7,98.1 199.3,107.1 199.9,97.0 200.5,97.8 201.1,88.5 201.7,91.9 202.3,84.8 202.9,90.0 203.5,81.0 204.1,82.1 204.7,68.2 205.3,59.2 205.9,52.9 206.5,63.2 207.1,54.0 207.7,63.0 208.3,60.1 208.9,67.6 209.5,61.6 210.1,66.9 210.7,59.7 211.3,74.6 211.9,74.8 212.5,85.8 213.1,86.6 213.7,95.4 214.3,90.6 214.9,97.6 215.5,85.7 216.1,100.1 216.7,91.9 217.3,98.5 217.9,96.7 218.5,102.0 219.1,96.4 219.7,103.7 220.3,98.7 220.9,102.6 221.5,98.5 222.1,109.5 222.7,108.0 223.3,117.1 223.9,113.9 224.5,120.6 225.1,114.1 225.7,123.3 226.3,109.2 226.9,114.7 227.5,108.9 228.1,110.6 228.7,106.2 229.3,108.5 229.9,96.0 230.5,102.2 231.1,95.0 231.7,101.6 232.3,95.2 232.9,106.6 233.5,93.5 234.1,96.8 234.7,90.9 235.3,92.6 235.9,84.9 236.5,91.7 237.1,84.0 237.7,91.2 238.3,90.9 238.9,98.1 239.5,95.9 240.1,107.3 240.7,97.1 241.3,107.5 241.9,102.1 242.5,104.9 243.1,103.0 243.7,106.7 244.3,102.6 244.9,106.2 245.5,90.7 246.1,94.7 246.7,87.7 247.3,92.3 247.9,85.3 248.5,89.9 249.1,81.7 249.7,88.4 250.3,80.1 250.9,88.7 251.5,84.3 252.1,95.0 252.7,91.4 253.3,101.2 253.9,98.9 254.5,107.5 255.1,102.5 255.7,105.7 256.3,99.9 256.9,114.0 257.5,105.0 258.1,112.7 258.7,107.4 259.3,110.4 259.9,98.2 260.5,101.0 261.1,90.1 261.7,98.7 262.3,93.3 262.9,97.8 263.5,91.4 264.1,95.3 264.7,90.2 265.3,96.4 265.9,93.1 266.5,101.5 267.1,101.8 267.7,108.6 268.3,99.8 268.9,108.0 269.5,104.0 270.1,108.8 270.7,99.2 271.3,108.4 271.9,100.0 272.5,101.5 273.1,89.3 273.7,97.7 274.3,86.3 274.9,100.2 275.5,93.5 276.1,99.7 276.7,95.5 277.3,101.0 277.9,94.5 278.5,102.3 279.1,99.6 279.7,108.9 280.3,103.8 280.9,106.6 281.5,101.4 282.1,101.1 282.7,92.8 283.3,102.0 283.9,94.5 284.5,97.1 285.1,93.6 285.7,100.6 286.3,92.8 286.9,98.8 287.5,92.6 288.1,100.5 288.7,98.9 289.3,114.8 289.9,107.1 290.5,114.9 291.1,108.4 291.7,113.9 292.3,105.8 292.9,106.2 293.5,100.7 294.1,107.1 294.7,99.5 295.3,105.2 295.9,101.4 296.5,105.0 297.1,95.4 297.7,98.9 298.3,90.9 298.9,99.3 299.5,93.0 300.1,101.4 300.7,95.9 301.3,102.5 301.9,96.6 302.5,102.5 303.1,97.0 303.7,103.0 304.3,97.2 304.9,103.9 305.5,101.0 306.1,109.2 306.7,103.6 307.3,109.0 307.9,101.5 308.5,109.2 309.1,105.8 309.7,114.0 310.3,105.0 310.9,111.6 311.5,105.8 312.1,114.1 312.7,110.4 313.3,122.9 313.9,114.8 314.5,122.6 315.1,107.3 315.7,115.0 316.3,104.6 316.9,108.2 317.5,100.9 318.1,106.0 318.7,98.1 319.3,101.0 319.9,93.8 320.5,95.2 321.1,88.8 321.7,96.5 322.3,90.4 322.9,98.0 323.5,89.2 324.1,93.1 324.7,85.3 325.3,92.9 325.9,87.9 326.5,95.2 327.1,93.1 327.7,99.1 328.3,94.9 328.9,97.7 329.5,94.4 330.1,98.8 330.7,94.5 331.3,102.7 331.9,98.9 332.5,103.1 333.1,100.0 333.7,105.2 334.3,98.3 334.9,103.4 335.5,91.7 336.1,93.7 336.7,89.0 337.3,96.5 337.9,90.8 338.5,99.5 339.1,94.8 339.7,102.6 340.3,98.0 340.9,102.1 341.5,96.8 342.1,100.2 342.7,92.8 343.3,94.3 343.9,88.2 344.5,89.9 345.1,81.4 345.7,89.0 346.3,84.8 346.9,95.7 347.5,90.0 348.1,92.8 348.7,87.9 349.3,94.6 349.9,90.4 350.5,101.0 351.1,92.6 351.7,98.5 352.3,89.6 352.9,94.7 353.5,87.0 354.1,96.6 354.7,95.5 355.3,103.1 355.9,97.4 356.5,100.7 357.1,93.9 357.7,94.7 358.3,88.9 358.9,93.6 359.5,89.7 360.1,94.0 360.7,84.4 361.3,92.6 361.9,86.4 362.5,86.6 363.1,80.8 363.7,82.9 364.3,75.8 364.9,84.5 365.5,80.1 366.1,81.3 366.7,67.7 367.3,69.2 367.9,59.7 368.5,62.0 369.1,53.3 369.7,58.5 370.3,54.1 370.9,60.6 371.5,55.0 372.1,64.2 372.7,57.6 373.3,64.1 373.9,57.3 374.5,64.5 375.1,59.4 375.7,73.9 376.3,79.1 376.9,90.7 377.5,89.7 378.1,95.0 378.7,92.8 379.3,96.3 379.9,93.2 380.5,96.9 381.1,96.1 381.7,102.7 382.3,99.6 382.9,104.4 383.5,97.8 384.1,102.7 384.7,94.1 385.3,106.6 385.9,105.9 386.5,111.3 387.1,102.4 387.7,107.5 388.3,94.7 388.9,99.5 389.5,92.6 390.1,101.8 390.7,94.3 391.3,97.2 391.9,89.8 392.5,94.2 393.1,87.9 393.7,91.7 394.3,88.1 394.9,96.7 395.5,89.3 396.1,95.0 396.7,90.0 397.3,93.6 397.9,87.0 398.5,92.6 399.1,87.9 399.7,94.9 400.3,88.7 400.9,95.7 401.5,87.2 402.1,95.0 402.7,85.9 403.3,89.9 403.9,85.2 404.5,91.1 405.1,89.2 405.7,98.1 406.3,89.3 406.9,92.9 407.5,83.2 408.1,89.1 408.7,87.4 409.3,93.5 409.9,88.4 410.5,95.8 411.1,89.9 411.6,93.8 412.2,87.3 412.8,91.3 413.4,86.2 414.0,95.9 414.6,91.6 415.2,96.8 415.8,88.4 416.4,92.8 417.0,86.1 417.6,91.4 418.2,86.6 418.8,90.1 419.4,85.2 420.0,92.5 420.6,79.0 421.2,79.9 421.8,74.6 422.4,82.9 423.0,77.4 423.6,85.3 424.2,81.1 424.8,85.7 425.4,81.3 426.0,84.7 426.6,80.9 427.2,87.7 427.8,85.9 428.4,92.5 429.0,86.8 429.6,91.8 430.2,84.6 430.8,88.5 431.4,83.6 432.0,88.5 432.6,86.4 433.2,94.3 433.8,92.2 434.4,97.0 435.0,88.2 435.6,93.4 436.2,86.0 436.8,89.0 437.4,82.3 438.0,90.0 438.6,88.0 439.2,96.5 439.8,91.1 440.4,97.0 441.0,88.2 441.6,94.3 442.2,89.3 442.8,97.3 443.4,93.4 444.0,103.3 444.6,96.3 445.2,104.2 445.8,98.2 446.4,103.2 447.0,96.6 447.6,104.3 448.2,103.2 448.8,107.4 449.4,99.0 450.0,105.1 450.6,99.0 451.2,105.0 451.8,97.5 452.4,100.4 453.0,96.6 453.6,102.4 454.2,93.8 454.8,103.8 455.4,96.6 456.0,101.3 456.6,90.3 457.2,92.9 457.8,87.6 458.4,95.7 459.0,90.8 459.6,99.0 460.2,87.1 460.8,93.9 461.4,86.8 462.0,88.3 462.6,87.5 463.2,95.8 463.8,90.9 464.4,102.3 465.0,95.7 465.6,100.1 466.2,92.2 466.8,98.5 467.4,94.6 468.0,103.7 468.6,98.0 469.2,101.3 469.8,93.3 470.4,97.6 471.0,92.3 471.6,98.4 472.2,95.7 472.8,102.8 473.4,100.0 474.0,106.8 474.6,94.2 475.2,100.5 475.8,92.5 476.4,95.9 477.0,92.0 477.6,98.8 478.2,91.1 478.8,96.5 479.4,88.6 480.0,92.6 480.6,87.3 481.2,92.5 481.8,90.0 482.4,98.8 483.0,93.4 483.6,98.0 484.2,89.9 484.8,95.3 485.4,87.8 486.0,94.4 486.6,86.5 487.2,98.8 487.8,92.1 488.4,98.8 489.0,90.5 489.6,96.9 490.2,92.4 490.8,101.6 491.4,96.5 492.0,107.4 492.6,101.3 493.2,107.4 493.8,97.7 494.4,102.8 495.0,93.3 495.6,97.5 496.2,91.0 496.8,94.4 497.4,88.5 498.0,93.8 498.6,90.4 499.2,94.7 499.8,89.3 500.4,94.2 501.0,91.7 501.6,100.0 502.2,97.3 502.8,103.7 503.4,96.5 504.0,106.7 504.6,98.6 505.2,102.1 505.8,95.9 506.4,102.2 507.0,96.2 507.6,99.5 508.2,93.4 508.8,96.5 509.4,86.1 510.0,89.2 510.6,84.1 511.2,95.7 511.8,90.2 512.4,100.6 513.0,93.7 513.6,96.5 514.2,89.6 514.8,92.1 515.4,90.3 516.0,96.0 516.6,88.3 517.2,99.9 517.8,91.7 518.4,96.9 519.0,90.5 519.6,97.7 520.2,93.9 520.8,100.5 521.4,96.1 522.0,102.3 522.6,95.5 523.2,99.6 523.8,95.3 524.4,100.8 525.0,98.2 525.6,105.8 526.2,97.5 526.8,102.6 527.4,88.4 528.0,97.3 528.6,88.5 529.2,93.8 529.8,84.5 530.4,92.2 531.0,78.0 531.6,78.6 532.2,65.1 532.8,67.2 533.4,57.9 534.0,66.4" fill="none" stroke="#000" stroke-width="1.05"/>
<polyline points="44.0,47.1 44.6,44.9 45.2,48.0 45.8,43.7 46.4,47.9 47.0,46.9 47.6,51.6 48.2,51.0 48.8,54.2 49.4,53.0 50.0,57.7 50.6,55.5 51.2,59.5 51.8,60.2 52.4,64.8 53.0,64.8 53.6,67.8 54.2,64.6 54.8,67.3 55.4,64.6 56.0,69.0 56.6,64.7 57.2,66.9 57.8,62.5 58.4,63.7 59.0,59.6 59.6,60.6 60.2,57.5 60.8,60.8 61.4,60.3 62.0,65.3 62.6,65.1 63.2,69.3 63.8,65.2 64.4,66.9 65.0,62.8 65.6,64.3 66.2,61.3 66.8,64.6 67.4,64.1 68.0,66.6 68.6,63.3 69.2,65.1 69.8,63.2 70.4,65.9 71.0,64.8 71.6,68.1 72.2,67.1 72.8,69.5 73.4,66.5 74.0,67.7 74.6,64.6 75.2,65.6 75.8,64.8 76.4,69.5 77.0,69.7 77.6,71.1 78.2,67.2 78.8,68.8 79.4,64.7 80.0,67.7 80.6,66.4 81.2,69.4 81.8,65.4 82.4,66.3 83.0,62.9 83.6,67.0 84.2,67.9 84.8,74.2 85.4,74.5 86.0,76.5 86.6,73.5 87.2,76.5 87.8,73.5 88.4,75.9 89.0,72.3 89.6,75.6 90.2,72.5 90.8,73.0 91.4,68.5 92.0,67.7 92.6,63.5 93.2,65.1 93.8,60.7 94.4,62.1 95.0,58.5 95.6,59.1 96.2,56.4 96.8,59.4 97.4,58.6 98.0,62.6 98.6,62.1 99.2,66.6 99.8,65.6 100.4,70.0 101.0,69.0 101.6,72.8 102.2,70.6 102.8,71.9 103.4,69.1 104.0,71.8 104.6,66.8 105.2,70.8 105.8,67.4 106.4,72.0 107.0,65.5 107.6,68.0 108.2,64.5 108.8,70.7 109.4,70.5 110.0,75.7 110.6,71.9 111.2,72.6 111.8,66.9 112.4,66.3 113.0,60.9 113.6,64.1 114.2,62.8 114.8,67.6 115.4,68.7 116.0,72.9 116.6,69.9 117.2,71.6 117.8,70.1 118.4,73.8 119.0,73.8 119.6,77.0 120.2,73.6 120.8,72.9 121.4,67.4 122.0,66.7 122.6,63.3 123.2,64.3 123.8,60.2 124.4,60.7 125.0,56.8 125.6,56.4 126.2,48.4 126.8,44.3 127.4,37.7 128.0,43.0 128.6,45.2 129.2,51.2 129.8,52.6 130.4,57.3 131.0,54.8 131.6,57.9 132.2,55.8 132.8,58.7 133.4,56.6 134.0,61.7 134.6,58.5 135.2,61.3 135.8,57.8 136.4,59.5 137.0,57.7 137.6,63.3 138.2,64.2 138.8,69.6 139.4,69.5 140.0,72.3 140.6,70.0 141.2,71.9 141.8,67.3 142.4,67.0 143.0,65.2 143.6,67.5 144.2,65.2 144.8,68.1 145.4,63.7 146.0,63.5 146.6,59.3 147.2,60.2 147.8,58.4 148.4,62.3 149.0,61.1 149.6,64.6 150.2,62.7 150.8,63.7 151.4,59.6 152.0,61.9 152.6,58.9 153.2,65.9 153.8,63.9 154.4,67.9 155.0,65.3 155.6,67.0 156.2,63.2 156.8,63.8 157.4,58.3 158.0,61.0 158.6,57.8 159.2,61.6 159.8,58.8 160.4,62.8 161.0,59.3 161.6,62.2 162.2,61.1 162.8,65.4 163.4,65.1 164.0,69.0 164.6,68.0 165.2,70.2 165.8,68.7 166.4,72.0 166.9,68.9 167.5,70.5 168.1,67.3 168.7,68.6 169.3,65.4 169.9,67.3 170.5,66.5 171.1,69.0 171.7,67.5 172.3,67.4 172.9,64.2 173.5,66.1 174.1,63.4 174.7,64.7 175.3,59.5 175.9,56.6 176.5,49.7 177.1,48.3 177.7,48.9 178.3,53.3 178.9,53.9 179.5,56.5 180.1,55.3 180.7,59.2 181.3,57.9 181.9,62.4 182.5,61.7 183.1,66.6 183.7,66.3 184.3,70.4 184.9,69.0 185.5,70.3 186.1,65.5 186.7,67.2 187.3,64.8 187.9,70.6 188.5,67.5 189.1,69.8 189.7,67.4 190.3,70.2 190.9,64.6 191.5,71.0 192.1,71.7 192.7,76.0 193.3,76.0 193.9,80.8 194.5,77.0 195.1,76.4 195.7,70.4 196.3,69.5 196.9,67.0 197.5,70.8 198.1,67.5 198.7,71.4 199.3,70.0 199.9,71.4 200.5,67.2 201.1,66.6 201.7,62.9 202.3,66.6 202.9,64.8 203.5,66.1 204.1,61.1 204.7,54.7 205.3,40.8 205.9,42.3 206.5,39.9 207.1,43.4 207.7,42.9 208.3,47.8 208.9,46.7 209.5,49.4 210.1,46.0 210.7,47.4 211.3,51.7 211.9,60.0 212.5,63.0 213.1,73.9 213.7,71.4 214.3,76.0 214.9,74.1 215.5,77.3 216.1,73.3 216.7,78.5 217.3,77.2 217.9,81.0 218.5,80.6 219.1,84.1 219.7,81.1 220.3,82.9 220.9,78.7 221.5,80.5 222.1,80.6 222.7,84.7 223.3,82.7 223.9,88.1 224.5,85.2 225.1,86.8 225.7,83.0 226.3,84.8 226.9,81.3 227.5,82.9 228.1,78.5 228.7,82.3 229.3,78.8 229.9,79.6 230.5,77.0 231.1,78.1 231.7,76.5 232.3,80.4 232.9,78.8 233.5,79.6 234.1,74.7 234.7,72.9 235.3,67.7 235.9,69.7 236.5,65.8 237.1,66.6 237.7,67.2 238.3,72.2 238.9,73.8 239.5,80.9 240.1,81.6 240.7,84.3 241.3,82.7 241.9,83.0 242.5,80.2 243.1,82.9 243.7,80.5 244.3,80.4 244.9,76.1 245.5,73.6 246.1,64.6 246.7,67.0 247.3,64.2 247.9,66.8 248.5,62.8 249.1,64.6 249.7,62.8 250.3,63.6 250.9,62.3 251.5,68.0 252.1,68.4 252.7,72.4 253.3,73.9 253.9,78.9 254.5,79.7 255.1,81.8 255.7,79.6 256.3,81.7 256.9,81.4 257.5,85.7 258.1,85.7 258.7,89.6 259.3,84.1 259.9,81.1 260.5,74.7 261.1,78.2 261.7,72.7 262.3,74.6 262.9,70.3 263.5,71.8 264.1,68.9 264.7,71.8 265.3,70.4 265.9,75.2 266.5,75.6 267.1,81.0 267.7,80.8 268.3,82.5 268.9,79.5 269.5,83.7 270.1,83.0 270.7,87.5 271.3,82.1 271.9,81.4 272.5,76.5 273.1,75.5 273.7,72.5 274.3,75.1 274.9,74.3 275.5,78.0 276.1,75.5 276.7,77.6 277.3,73.9 277.9,79.7 278.5,78.3 279.1,82.5 279.7,82.6 280.3,85.3 280.9,81.9 281.5,82.1 282.1,78.8 282.7,79.0 283.3,76.6 283.9,78.1 284.5,76.3 285.1,78.3 285.7,76.0 286.3,78.7 286.9,75.4 287.5,77.7 288.1,77.3 288.7,82.6 289.3,82.9 289.9,86.8 290.5,86.6 291.1,88.8 291.7,84.9 292.3,79.8 292.9,75.1 293.5,76.3 294.1,74.4 294.7,77.7 295.3,77.3 295.9,82.0 296.5,79.4 297.1,82.0 297.7,79.9 298.3,82.9 298.9,82.5 299.5,90.1 300.1,90.7 300.7,94.9 301.3,90.4 301.9,94.8 302.5,90.7 303.1,93.4 303.7,92.6 304.3,94.4 304.9,93.5 305.5,97.4 306.1,95.2 306.7,96.9 307.3,92.9 307.9,94.3 308.5,93.0 309.1,96.2 309.7,94.0 310.3,94.7 310.9,91.4 311.5,93.6 312.1,93.3 312.7,96.6 313.3,94.8 313.9,97.4 314.5,93.6 315.1,94.8 315.7,89.8 316.3,91.4 316.9,87.9 317.5,90.3 318.1,88.6 318.7,90.9 319.3,88.0 319.9,87.7 320.5,81.3 321.1,83.6 321.7,81.0 322.3,82.6 322.9,79.6 323.5,79.7 324.1,75.4 324.7,76.9 325.3,71.6 325.9,77.0 326.5,74.6 327.1,78.6 327.7,78.8 328.3,82.5 328.9,82.1 329.5,83.9 330.1,81.4 330.7,84.5 331.3,82.8 331.9,85.5 332.5,85.1 333.1,88.9 333.7,86.6 334.3,87.4 334.9,83.6 335.5,82.7 336.1,78.9 336.7,82.7 337.3,81.3 337.9,85.5 338.5,85.3 339.1,88.8 339.7,84.4 340.3,88.2 340.9,84.9 341.5,86.0 342.1,82.2 342.7,82.6 343.3,79.0 343.9,78.9 344.5,74.0 345.1,75.5 345.7,72.8 346.3,78.0 346.9,78.5 347.5,80.5 348.1,78.1 348.7,78.4 349.3,76.7 349.9,79.7 350.5,79.7 351.1,82.9 351.7,81.1 352.3,82.9 352.9,78.9 353.5,83.5 354.1,83.4 354.7,90.9 355.3,89.7 355.9,92.0 356.5,86.1 357.1,89.8 357.7,85.3 358.3,86.8 358.9,82.4 359.5,83.6 360.1,80.2 360.7,80.7 361.3,77.5 361.9,77.0 362.5,73.0 363.1,72.7 363.7,69.7 364.3,73.0 364.9,71.3 365.5,72.2 366.1,66.4 366.7,63.5 367.3,48.2 367.9,47.0 368.5,42.5 369.1,44.4 369.7,41.1 370.3,44.4 370.9,42.0 371.5,46.7 372.1,45.5 372.7,47.8 373.3,45.1 373.9,47.4 374.5,47.5 375.1,51.1 375.7,54.2 376.3,63.9 376.9,65.9 377.5,71.1 378.1,70.4 378.7,71.9 379.3,69.7 379.9,71.7 380.5,69.7 381.1,73.0 381.7,73.6 382.3,75.9 382.9,71.9 383.5,73.5 384.1,69.2 384.7,71.6 385.3,70.7 385.9,73.9 386.5,71.1 387.1,72.0 387.7,67.3 388.3,68.3 388.9,66.8 389.5,69.2 390.1,67.6 390.7,70.7 391.3,67.0 391.9,66.4 392.5,61.4 393.1,61.4 393.7,58.4 394.3,61.4 394.9,61.1 395.5,65.8 396.1,61.3 396.7,66.5 397.3,60.3 397.9,62.0 398.5,58.3 399.1,60.6 399.7,59.0 400.3,61.8 400.9,58.3 401.5,60.1 402.1,59.6 402.7,63.0 403.3,62.7 403.9,65.6 404.5,61.8 405.1,63.4 405.7,60.0 406.3,59.9 406.9,58.6 407.5,61.8 408.1,60.6 408.7,65.5 409.3,64.3 409.9,68.5 410.5,65.8 411.1,67.1 411.6,62.9 412.2,66.5 412.8,63.4 413.4,66.6 414.0,66.1 414.6,69.1 415.2,66.0 415.8,66.1 416.4,62.8 417.0,62.9 417.6,59.2 418.2,62.1 418.8,59.3 419.4,59.8 420.0,54.2 420.6,52.8 421.2,48.6 421.8,51.9 422.4,51.7 423.0,56.0 423.6,55.6 424.2,58.0 424.8,55.6 425.4,57.2 426.0,54.0 426.6,57.8 427.2,58.1 427.8,62.9 428.4,59.7 429.0,61.5 429.6,56.7 430.2,56.2 430.8,54.2 431.4,57.4 432.0,56.2 432.6,61.0 433.2,59.9 433.8,63.1 434.4,60.9 435.0,63.9 435.6,57.1 436.2,60.0 436.8,54.5 437.4,59.2 438.0,56.1 438.6,61.0 439.2,60.5 439.8,64.8 440.4,60.7 441.0,62.1 441.6,59.2 442.2,63.0 442.8,63.0 443.4,67.0 444.0,67.8 444.6,69.7 445.2,68.4 445.8,70.7 446.4,69.1 447.0,71.3 447.6,71.2 448.2,75.0 448.8,73.4 449.4,74.0 450.0,71.6 450.6,72.5 451.2,68.9 451.8,71.7 452.4,67.3 453.0,70.4 453.6,66.2 454.2,69.9 454.8,66.3 455.4,65.7 456.0,60.7 456.6,60.1 457.2,54.9 457.8,57.6 458.4,54.3 459.0,57.4 459.6,56.1 460.2,57.5 460.8,53.5 461.4,53.3 462.0,48.8 462.6,54.5 463.2,55.3 463.8,61.5 464.4,61.7 465.0,64.7 465.6,62.3 466.2,65.4 466.8,61.5 467.4,66.0 468.0,66.0 468.6,67.6 469.2,63.7 469.8,64.3 470.4,61.4 471.0,63.6 471.6,64.2 472.2,68.5 472.8,68.2 473.4,72.7 474.0,72.0 474.6,71.2 475.2,65.5 475.8,64.6 476.4,62.3 477.0,64.1 477.6,61.5 478.2,63.1 478.8,60.7 479.4,60.8 480.0,58.0 480.6,58.6 481.2,57.9 481.8,61.9 482.4,61.1 483.0,64.2 483.6,60.5 484.2,62.8 484.8,57.9 485.4,60.3 486.0,57.7 486.6,62.7 487.2,61.8 487.8,65.3 488.4,61.7 489.0,63.9 489.6,60.7 490.2,66.0 490.8,64.8 491.4,69.0 492.0,67.5 492.6,71.4 493.2,69.4 493.8,70.2 494.4,63.9 495.0,65.0 495.6,61.7 496.2,63.8 496.8,60.2 497.4,61.2 498.0,57.6 498.6,60.5 499.2,59.6 499.8,62.1 500.4,59.9 501.0,64.7 501.6,64.5 502.2,70.9 502.8,67.7 503.4,70.8 504.0,67.1 504.6,69.4 505.2,66.5 505.8,68.0 506.4,65.2 507.0,66.8 507.6,63.9 508.2,65.3 508.8,59.2 509.4,59.8 510.0,54.1 510.6,57.0 511.2,55.6 511.8,62.3 512.4,63.5 513.0,65.5 513.6,62.2 514.2,63.7 514.8,59.3 515.4,62.7 516.0,62.4 516.6,65.8 517.2,63.6 517.8,66.8 518.4,62.6 519.0,66.2 519.6,61.4 520.2,65.0 520.8,64.3 521.4,68.8 522.0,64.7 522.6,65.9 523.2,63.0 523.8,67.3 524.4,65.9 525.0,71.0 525.6,68.2 526.2,69.4 526.8,65.1 527.4,66.4 528.0,62.1 528.6,63.5 529.2,60.9 529.8,62.9 530.4,59.7 531.0,60.7 531.6,53.3 532.2,51.9 532.8,44.8 533.4,45.5 534.0,41.2" fill="none" stroke="#0f0" stroke-width="1.0"/>
<polyline points="44.0,34.6 44.6,49.6 45.2,44.1 45.8,52.1 46.4,44.9 47.0,56.4 47.6,56.3 48.2,65.7 48.8,54.1 49.4,65.5 50.0,60.6 50.6,72.8 51.2,64.4 51.8,74.7 52.4,67.4 53.0,80.0 53.6,71.2 54.2,80.1 54.8,76.0 55.4,82.9 56.0,79.6 56.6,88.4 57.2,80.0 57.8,82.9 58.4,73.7 59.0,80.1 59.6,70.1 60.2,72.4 60.8,62.1 61.4,70.6 62.0,66.9 62.6,80.8 63.2,71.2 63.8,78.9 64.4,69.7 65.0,74.3 65.6,69.4 66.2,74.6 66.8,65.9 67.4,78.1 68.0,71.3 68.6,74.3 69.2,70.3 69.8,76.7 70.4,69.6 71.0,79.9 71.6,72.2 72.2,82.1 72.8,76.3 73.4,82.4 74.0,70.7 74.6,75.5 75.2,69.8 75.8,76.7 76.4,71.5 77.0,83.2 77.6,74.6 78.2,81.0 78.8,72.7 79.4,78.0 80.0,71.5 80.6,80.7 81.2,68.4 81.8,77.0 82.4,67.3 83.0,72.3 83.6,60.3 84.2,80.5 84.8,77.1 85.4,88.7 86.0,82.8 86.6,87.5 87.2,82.6 87.8,87.1 88.4,79.6 89.0,86.0 89.6,81.5 90.2,88.1 90.8,75.6 91.4,84.4 92.0,71.6 92.6,76.6 93.2,68.4 93.8,71.7 94.4,62.1 95.0,68.7 95.6,57.6 96.2,66.0 96.8,58.7 97.4,66.8 98.0,62.0 98.6,75.7 99.2,69.4 99.8,82.3 100.4,76.2 101.0,86.3 101.6,81.6 102.2,89.5 102.8,80.3 103.4,89.6 104.0,80.6 104.6,88.9 105.2,79.2 105.8,87.6 106.4,77.9 107.0,79.3 107.6,73.7 108.2,79.8 108.8,77.3 109.4,86.8 110.0,82.2 110.6,89.3 111.2,77.1 111.8,82.2 112.4,70.1 113.0,73.4 113.6,69.0 114.2,79.4 114.8,74.0 115.4,85.4 116.0,79.4 116.6,92.7 117.2,80.9 117.8,93.8 118.4,82.4 119.0,89.6 119.6,85.8 120.2,90.6 120.8,81.5 121.4,83.4 122.0,75.0 122.6,80.1 123.2,63.9 123.8,76.2 124.4,71.2 125.0,75.3 125.6,71.1 126.2,73.3 126.8,64.9 127.4,68.4 128.0,61.4 128.6,67.3 129.2,63.4 129.8,76.3 130.4,68.9 131.0,76.0 131.6,70.4 132.2,77.7 132.8,73.9 133.4,81.8 134.0,74.9 134.6,84.9 135.2,81.7 135.8,83.9 136.4,76.4 137.0,82.3 137.6,77.4 138.2,86.5 138.8,81.3 139.4,90.9 140.0,87.4 140.6,95.2 141.2,86.2 141.8,89.1 142.4,79.6 143.0,82.8 143.6,75.8 144.2,84.1 144.8,74.9 145.4,81.3 146.0,67.4 146.6,71.9 147.2,65.2 147.8,73.4 148.4,69.0 149.0,77.3 149.6,71.4 150.2,83.1 150.8,75.0 151.4,83.0 152.0,76.8 152.6,84.5 153.2,79.9 153.8,89.7 154.4,80.5 155.0,86.2 155.6,75.8 156.2,83.2 156.8,73.3 157.4,76.8 158.0,61.8 158.6,74.6 159.2,69.9 159.8,76.7 160.4,70.8 161.0,79.4 161.6,73.4 162.2,80.9 162.8,77.1 163.4,85.8 164.0,80.8 164.6,92.0 165.2,82.6 165.8,91.6 166.4,85.1 166.9,93.2 167.5,77.3 168.1,87.2 168.7,77.2 169.3,84.4 169.9,78.7 170.5,83.5 171.1,75.6 171.7,83.8 172.3,73.8 172.9,82.9 173.5,76.5 174.1,82.4 174.7,73.0 175.3,76.2 175.9,63.8 176.5,68.2 177.1,60.5 177.7,68.2 178.3,63.7 178.9,72.7 179.5,65.4 180.1,73.3 180.7,68.2 181.3,78.2 181.9,70.6 182.5,81.7 183.1,74.8 183.7,87.8 184.3,80.4 184.9,86.3 185.5,79.7 186.1,88.9 186.7,82.4 187.3,87.2 187.9,77.8 188.5,86.0 189.1,77.8 189.7,85.7 190.3,76.9 190.9,85.0 191.5,79.8 192.1,87.8 192.7,85.8 193.3,93.7 193.9,88.9 194.5,93.6 195.1,85.0 195.7,88.1 196.3,78.2 196.9,84.0 197.5,76.6 198.1,88.9 198.7,78.4 199.3,89.3 199.9,78.9 200.5,87.0 201.1,79.6 201.7,83.9 202.3,76.2 202.9,83.5 203.5,67.6 204.1,71.4 204.7,52.7 205.3,51.4 205.9,38.0 206.5,43.3 207.1,37.4 207.7,46.4 208.3,42.4 208.9,54.1 209.5,45.0 210.1,50.3 210.7,42.2 211.3,57.8 211.9,57.2 212.5,71.2 213.1,70.6 213.7,80.6 214.3,77.0 214.9,81.1 215.5,76.7 216.1,82.3 216.7,76.5 217.3,87.8 217.9,80.6 218.5,91.0 219.1,82.5 219.7,90.0 220.3,83.9 220.9,89.5 221.5,80.5 222.1,92.1 222.7,86.5 223.3,94.7 223.9,88.3 224.5,94.8 225.1,89.2 225.7,93.5 226.3,85.3 226.9,92.5 227.5,86.6 228.1,90.4 228.7,84.4 229.3,87.6 229.9,74.8 230.5,83.3 231.1,78.5 231.7,88.0 232.3,83.5 232.9,90.9 233.5,81.3 234.1,85.2 234.7,72.0 235.3,75.6 235.9,67.4 236.5,73.3 237.1,63.5 237.7,78.3 238.3,72.1 238.9,83.1 239.5,82.5 240.1,95.4 240.7,87.6 241.3,95.5 241.9,83.9 242.5,89.1 243.1,83.8 243.7,89.3 244.3,83.4 244.9,87.5 245.5,74.8 246.1,74.3 246.7,66.1 247.3,73.1 247.9,62.6 248.5,69.5 249.1,63.8 249.7,68.0 250.3,61.9 250.9,71.3 251.5,67.6 252.1,76.8 252.7,66.4 253.3,84.8 253.9,78.9 254.5,92.4 255.1,82.7 255.7,89.6 256.3,83.6 256.9,96.8 257.5,88.2 258.1,95.6 258.7,90.9 259.3,94.9 259.9,79.6 260.5,84.9 261.1,75.0 261.7,84.4 262.3,74.4 262.9,76.7 263.5,66.2 264.1,77.3 264.7,69.9 265.3,80.2 265.9,76.5 266.5,87.3 267.1,83.2 267.7,97.7 268.3,84.5 268.9,89.6 269.5,83.8 270.1,91.9 270.7,87.5 271.3,90.9 271.9,82.2 272.5,86.7 273.1,72.7 273.7,80.8 274.3,72.1 274.9,81.0 275.5,76.7 276.1,84.1 276.7,75.8 277.3,82.8 277.9,78.6 278.5,88.8 279.1,77.1 279.7,93.1 280.3,85.4 280.9,92.7 281.5,83.8 282.1,88.8 282.7,79.5 283.3,84.9 283.9,77.4 284.5,85.5 285.1,78.0 285.7,84.9 286.3,77.1 286.9,83.7 287.5,76.5 288.1,87.1 288.7,82.3 289.3,92.2 289.9,85.8 290.5,97.7 291.1,88.8 291.7,96.6 292.3,85.4 292.9,90.1 293.5,80.4 294.1,86.4 294.7,79.6 295.3,89.6 295.9,83.8 296.5,86.2 297.1,79.2 297.7,80.6 298.3,72.7 298.9,82.3 299.5,76.5 300.1,84.1 300.7,79.6 301.3,87.7 301.9,78.9 302.5,86.3 303.1,78.1 303.7,86.3 304.3,77.9 304.9,84.1 305.5,81.4 306.1,88.1 306.7,78.8 307.3,86.9 307.9,76.0 308.5,86.2 309.1,80.4 309.7,87.8 310.3,79.9 310.9,84.1 311.5,76.3 312.1,84.6 312.7,81.7 313.3,90.5 313.9,87.9 314.5,94.4 315.1,82.3 315.7,91.3 316.3,77.2 316.9,86.1 317.5,71.9 318.1,84.2 318.7,75.6 319.3,82.6 319.9,74.3 320.5,78.1 321.1,67.2 321.7,77.4 322.3,67.7 322.9,70.8 323.5,63.4 324.1,64.0 324.7,58.5 325.3,62.4 325.9,58.0 326.5,69.4 327.1,62.7 327.7,75.8 328.3,70.3 328.9,77.1 329.5,72.5 330.1,78.9 330.7,72.0 331.3,82.4 331.9,74.7 332.5,84.4 333.1,75.7 333.7,85.7 334.3,72.8 334.9,78.2 335.5,66.7 336.1,74.0 336.7,64.8 337.3,77.0 337.9,68.5 338.5,78.1 339.1,74.7 339.7,83.5 340.3,75.2 340.9,85.5 341.5,77.8 342.1,77.1 342.7,67.1 343.3,68.4 343.9,58.3 344.5,66.4 345.1,53.3 345.7,63.6 346.3,60.4 346.9,68.7 347.5,62.4 348.1,75.4 348.7,65.2 349.3,71.5 349.9,68.8 350.5,78.6 351.1,73.3 351.7,80.1 352.3,69.7 352.9,77.1 353.5,70.4 354.1,84.3 354.7,78.9 355.3,89.3 355.9,82.0 356.5,90.6 357.1,79.3 357.7,86.4 358.3,75.3 358.9,80.9 359.5,70.0 360.1,81.1 360.7,67.1 361.3,71.9 361.9,64.2 362.5,68.7 363.1,56.7 363.7,65.4 364.3,59.9 364.9,69.2 365.5,61.8 366.1,66.0 366.7,56.9 367.3,51.5 367.9,40.6 368.5,47.3 369.1,35.7 369.7,45.7 370.3,36.8 370.9,44.7 371.5,41.6 372.1,50.7 372.7,40.9 373.3,47.2 373.9,42.6 374.5,51.9 375.1,42.0 375.7,59.4 376.3,61.9 376.9,72.6 377.5,68.6 378.1,81.0 378.7,71.4 379.3,81.7 379.9,72.6 380.5,80.4 381.1,75.9 381.7,85.7 382.3,78.8 382.9,86.7 383.5,79.0 384.1,83.1 384.7,79.1 385.3,84.3 385.9,77.7 386.5,85.5 387.1,71.6 387.7,77.5 388.3,67.8 388.9,84.1 389.5,71.3 390.1,84.0 390.7,70.6 391.3,86.2 391.9,78.9 392.5,82.7 393.1,73.7 393.7,85.9 394.3,71.6 394.9,80.0 395.5,75.2 396.1,80.2 396.7,72.0 397.3,79.3 397.9,70.9 398.5,79.7 399.1,73.1 399.7,85.4 400.3,70.5 400.9,78.5 401.5,66.3 402.1,74.2 402.7,68.6 403.3,77.8 403.9,71.3 404.5,76.3 405.1,71.7 405.7,77.9 406.3,66.9 406.9,76.0 407.5,70.2 408.1,78.8 408.7,71.5 409.3,80.5 409.9,77.4 410.5,84.6 411.1,79.6 411.6,84.5 412.2,75.5 412.8,79.0 413.4,69.6 414.0,87.5 414.6,81.0 415.2,86.3 415.8,78.0 416.4,83.6 417.0,72.5 417.6,76.8 418.2,68.9 418.8,81.5 419.4,66.4 420.0,70.1 420.6,57.9 421.2,63.0 421.8,50.7 422.4,65.2 423.0,56.9 423.6,66.6 424.2,61.0 424.8,70.4 425.4,64.0 426.0,69.4 426.6,65.4 427.2,75.7 427.8,71.0 428.4,80.7 429.0,77.2 429.6,83.0 430.2,76.0 430.8,83.7 431.4,69.4 432.0,76.1 432.6,69.7 433.2,77.9 433.8,72.5 434.4,78.8 435.0,70.1 435.6,73.4 436.2,66.3 436.8,70.6 437.4,62.2 438.0,71.1 438.6,67.0 439.2,78.3 439.8,64.7 440.4,76.0 441.0,66.6 441.6,78.9 442.2,71.9 442.8,79.8 443.4,76.7 444.0,84.9 444.6,81.0 445.2,87.3 445.8,82.8 446.4,88.3 447.0,83.8 447.6,90.0 448.2,86.3 448.8,92.8 449.4,86.8 450.0,90.5 450.6,82.7 451.2,90.0 451.8,82.4 452.4,86.8 453.0,74.7 453.6,85.8 454.2,79.2 454.8,88.7 455.4,77.9 456.0,85.3 456.6,77.1 457.2,79.7 457.8,72.6 458.4,80.9 459.0,75.4 459.6,82.4 460.2,73.6 460.8,76.8 461.4,66.5 462.0,73.5 462.6,68.0 463.2,80.9 463.8,75.5 464.4,86.6 465.0,77.4 465.6,84.8 466.2,76.0 466.8,82.0 467.4,77.9 468.0,88.9 468.6,80.5 469.2,86.4 469.8,78.0 470.4,83.5 471.0,77.3 471.6,90.6 472.2,81.4 472.8,88.0 473.4,84.8 474.0,93.5 474.6,81.2 475.2,86.7 475.8,74.7 476.4,81.3 477.0,73.5 477.6,79.8 478.2,66.9 478.8,80.8 479.4,71.9 480.0,76.8 480.6,69.0 481.2,75.2 481.8,71.2 482.4,80.0 483.0,73.3 483.6,78.4 484.2,70.0 484.8,75.7 485.4,71.1 486.0,74.6 486.6,71.7 487.2,83.1 487.8,76.3 488.4,80.3 489.0,72.1 489.6,81.5 490.2,77.1 490.8,84.5 491.4,81.7 492.0,87.8 492.6,83.0 493.2,89.3 493.8,81.8 494.4,86.1 495.0,75.5 495.6,81.5 496.2,74.8 496.8,77.0 497.4,69.2 498.0,77.6 498.6,71.5 499.2,77.3 499.8,72.0 500.4,81.3 501.0,75.9 501.6,85.6 502.2,82.5 502.8,87.8 503.4,82.6 504.0,89.8 504.6,83.2 505.2,88.2 505.8,80.1 506.4,87.7 507.0,76.5 507.6,86.3 508.2,76.8 508.8,79.3 509.4,66.6 510.0,72.3 510.6,66.4 511.2,73.4 511.8,71.0 512.4,82.8 513.0,77.5 513.6,82.6 514.2,72.3 514.8,79.1 515.4,74.1 516.0,80.9 516.6,77.9 517.2,83.3 517.8,75.3 518.4,88.9 519.0,75.3 519.6,82.6 520.2,74.8 520.8,85.5 521.4,79.1 522.0,88.2 522.6,78.1 523.2,82.5 523.8,74.2 524.4,82.8 525.0,78.3 525.6,87.0 526.2,74.8 526.8,87.1 527.4,76.4 528.0,84.5 528.6,74.3 529.2,73.5 529.8,62.5 530.4,71.6 531.0,58.7 531.6,59.6 532.2,46.6 532.8,47.8 533.4,39.7 534.0,47.1" fill="none" stroke="#f00" stroke-width="1.0"/>
<polygon points="44.0,207.5 44.6,203.9 45.2,199.4 45.8,197.3 46.4,196.0 47.0,195.0 47.6,194.1 48.2,189.4 48.8,185.2 49.4,183.1 50.0,183.5 50.6,183.3 51.2,182.5 51.8,178.8 52.4,175.1 53.0,173.1 53.6,171.1 54.2,171.7 54.8,172.6 55.4,172.2 56.0,169.9 56.6,168.2 57.2,171.7 57.8,175.2 58.4,178.7 59.0,180.2 59.6,181.9 60.2,183.6 60.8,186.3 61.4,190.4 62.0,191.5 62.6,191.0 63.2,188.0 63.8,184.9 64.4,182.1 65.0,180.9 65.6,178.9 66.2,177.9 66.8,175.0 67.4,172.4 68.0,170.2 68.6,169.6 69.2,171.6 69.8,173.6 70.4,174.4 71.0,173.0 71.6,171.8 72.2,172.5 72.8,175.7 73.4,179.6 74.0,183.4 74.6,186.4 75.2,188.6 75.8,189.3 76.4,182.2 77.0,173.1 77.6,166.5 78.2,163.4 78.8,165.7 79.4,165.3 80.0,163.1 80.6,161.6 81.2,163.7 81.8,166.1 82.4,168.5 83.0,168.4 83.6,168.3 84.2,167.9 84.8,165.2 85.4,163.3 86.0,161.3 86.6,159.6 87.2,157.3 87.8,153.4 88.4,149.9 89.0,150.4 89.6,153.5 90.2,158.9 90.8,163.7 91.4,165.5 92.0,164.9 92.6,164.2 93.2,163.1 93.8,163.5 94.4,166.4 95.0,167.8 95.6,169.1 96.2,167.0 96.8,166.0 97.4,166.5 98.0,167.8 98.6,170.3 99.2,169.1 99.8,165.4 100.4,161.2 101.0,159.8 101.6,162.1 102.2,164.2 102.8,164.8 103.4,163.9 104.0,163.1 104.6,162.3 105.2,164.7 105.8,169.1 106.4,173.3 107.0,175.9 107.6,172.7 108.2,169.0 108.8,165.7 109.4,163.3 110.0,164.5 110.6,166.8 111.2,168.8 111.8,168.4 112.4,164.1 113.0,159.7 113.6,155.7 114.2,155.2 114.8,159.0 115.4,163.1 116.0,165.8 116.6,166.8 117.2,167.1 117.8,167.1 118.4,169.7 119.0,171.8 119.6,173.0 120.2,172.4 120.8,168.5 121.4,164.9 122.0,161.8 122.6,161.5 123.2,162.0 123.8,162.4 124.4,162.4 125.0,162.1 125.6,161.0 126.2,160.0 126.8,160.3 127.4,164.4 128.0,168.8 128.6,173.3 129.2,173.8 129.8,171.3 130.4,168.6 131.0,165.6 131.6,164.8 132.2,165.0 132.8,165.1 133.4,165.3 134.0,162.5 134.6,159.6 135.2,156.9 135.8,157.5 136.4,157.9 137.0,158.6 137.6,157.6 138.2,156.3 138.8,155.7 139.4,157.1 140.0,159.3 140.6,164.2 141.2,166.8 141.8,169.2 142.4,173.7 143.0,177.4 143.6,181.0 144.2,182.7 144.8,177.5 145.4,172.8 146.0,168.3 146.6,169.8 147.2,172.0 147.8,173.7 148.4,173.1 149.0,168.1 149.6,163.6 150.2,160.0 150.8,162.5 151.4,168.2 152.0,173.9 152.6,178.9 153.2,180.6 153.8,180.9 154.4,179.9 155.0,169.4 155.6,160.8 156.2,155.0 156.8,156.8 157.4,161.1 158.0,161.7 158.6,162.0 159.2,162.7 159.8,163.0 160.4,166.5 161.0,167.2 161.6,168.3 162.2,166.0 162.8,162.6 163.4,158.8 164.0,158.6 164.6,158.5 165.2,157.4 165.8,153.9 166.4,150.4 166.9,153.0 167.5,158.9 168.1,164.7 168.7,169.3 169.3,169.8 169.9,170.5 170.5,174.8 171.1,179.7 171.7,183.2 172.3,181.9 172.9,178.1 173.5,174.0 174.1,171.6 174.7,174.9 175.3,178.3 175.9,177.5 176.5,175.6 177.1,174.0 177.7,172.7 178.3,173.0 178.9,173.1 179.5,172.3 180.1,168.8 180.7,166.5 181.3,164.8 181.9,165.9 182.5,168.5 183.1,170.9 183.7,171.6 184.3,169.1 184.9,167.5 185.5,166.4 186.1,166.2 186.7,169.8 187.3,173.8 187.9,178.2 188.5,181.4 189.1,181.6 189.7,181.4 190.3,181.0 190.9,181.2 191.5,181.8 192.1,182.8 192.7,181.7 193.3,173.9 193.9,165.9 194.5,158.4 195.1,158.1 195.7,158.8 196.3,159.1 196.9,159.7 197.5,159.0 198.1,156.6 198.7,154.1 199.3,155.6 199.9,158.1 200.5,160.1 201.1,161.8 201.7,159.4 202.3,157.0 202.9,154.8 203.5,158.0 204.1,162.7 204.7,173.5 205.3,192.5 205.9,207.0 206.5,205.6 207.1,207.1 207.7,208.9 208.3,210.7 208.9,211.9 209.5,210.2 210.1,208.5 210.7,204.6 211.3,197.8 211.9,192.3 212.5,186.6 213.1,181.7 213.7,175.9 214.3,170.6 214.9,171.3 215.5,172.8 216.1,172.4 216.7,169.6 217.3,166.5 217.9,163.1 218.5,162.8 219.1,165.7 219.7,168.2 220.3,166.3 220.9,161.9 221.5,159.5 222.1,158.6 222.7,157.2 223.3,155.6 223.9,153.6 224.5,150.4 225.1,150.9 225.7,151.2 226.3,155.0 226.9,158.8 227.5,162.4 228.1,162.2 228.7,161.1 229.3,160.6 229.9,161.0 230.5,161.4 231.1,164.5 231.7,167.3 232.3,170.4 232.9,175.6 233.5,182.7 234.1,189.2 234.7,194.9 235.3,194.4 235.9,194.2 236.5,197.4 237.1,200.8 237.7,200.2 238.3,196.0 238.9,191.7 239.5,188.0 240.1,186.1 240.7,184.4 241.3,182.2 241.9,175.8 242.5,169.5 243.1,163.5 243.7,166.2 244.3,169.9 244.9,173.7 245.5,175.5 246.1,175.8 246.7,176.1 247.3,178.4 247.9,179.4 248.5,180.5 249.1,181.7 249.7,180.9 250.3,178.4 250.9,175.3 251.5,171.2 252.1,167.9 252.7,168.4 253.3,169.7 253.9,167.4 254.5,163.9 255.1,160.7 255.7,160.4 256.3,160.6 256.9,163.2 257.5,165.4 258.1,166.1 258.7,166.2 259.3,165.6 259.9,168.1 260.5,172.0 261.1,174.6 261.7,173.7 262.3,172.3 262.9,173.6 263.5,177.0 264.1,180.7 264.7,183.0 265.3,179.7 265.9,175.8 266.5,172.2 267.1,171.6 267.7,172.7 268.3,173.8 268.9,174.8 269.5,172.1 270.1,167.6 270.7,163.1 271.3,159.0 271.9,157.3 272.5,159.0 273.1,160.8 273.7,162.3 274.3,162.5 274.9,162.1 275.5,162.0 276.1,165.5 276.7,166.2 277.3,166.9 277.9,167.7 278.5,166.7 279.1,165.5 279.7,164.2 280.3,163.9 280.9,165.0 281.5,166.5 282.1,165.1 282.7,162.7 283.3,160.0 283.9,160.0 284.5,161.4 285.1,165.2 285.7,167.8 286.3,167.8 286.9,162.9 287.5,158.7 288.1,157.1 288.7,155.3 289.3,152.9 289.9,153.6 290.5,155.6 291.1,158.0 291.7,159.6 292.3,161.5 292.9,163.2 293.5,164.6 294.1,168.1 294.7,167.4 295.3,166.1 295.9,164.1 296.5,164.5 297.1,166.6 297.7,169.0 298.3,171.9 298.9,172.0 299.5,170.9 300.1,170.2 300.7,171.9 301.3,175.4 301.9,179.3 302.5,183.7 303.1,186.8 303.7,186.9 304.3,184.0 304.9,178.0 305.5,174.8 306.1,172.2 306.7,170.2 307.3,168.9 307.9,166.6 308.5,163.0 309.1,159.9 309.7,159.3 310.3,158.6 310.9,160.6 311.5,162.1 312.1,161.7 312.7,159.7 313.3,157.2 313.9,156.4 314.5,156.9 315.1,156.4 315.7,155.7 316.3,155.0 316.9,156.6 317.5,158.2 318.1,163.3 318.7,166.8 319.3,167.0 319.9,165.6 320.5,162.8 321.1,163.1 321.7,166.3 322.3,170.8 322.9,174.6 323.5,174.2 324.1,173.2 324.7,174.8 325.3,174.2 325.9,174.3 326.5,174.7 327.1,172.7 327.7,169.2 328.3,165.7 328.9,163.4 329.5,167.9 330.1,172.9 330.7,177.0 331.3,177.0 331.9,176.7 332.5,177.8 333.1,181.5 333.7,185.2 334.3,188.4 334.9,188.5 335.5,188.4 336.1,186.4 336.7,180.8 337.3,178.3 337.9,176.2 338.5,172.5 339.1,167.5 339.7,162.5 340.3,160.1 340.9,161.3 341.5,164.6 342.1,167.7 342.7,170.1 343.3,172.3 343.9,171.2 344.5,170.0 345.1,169.7 345.7,172.6 346.3,176.0 346.9,180.6 347.5,182.1 348.1,181.4 348.7,180.2 349.3,181.3 349.9,184.6 350.5,187.1 351.1,186.5 351.7,182.5 352.3,177.6 352.9,173.9 353.5,173.1 354.1,172.7 354.7,173.0 355.3,170.0 355.9,167.3 356.5,164.4 357.1,165.2 357.7,167.2 358.3,168.9 358.9,170.4 359.5,169.4 360.1,168.5 360.7,168.1 361.3,167.9 361.9,169.0 362.5,170.0 363.1,170.1 363.7,169.8 364.3,167.0 364.9,164.3 365.5,162.4 366.1,163.4 366.7,164.6 367.3,174.8 367.9,184.5 368.5,201.1 369.1,208.0 369.7,208.7 370.3,209.4 370.9,210.2 371.5,208.4 372.1,207.1 372.7,205.9 373.3,204.3 373.9,197.6 374.5,190.8 375.1,187.9 375.7,185.2 376.3,179.5 376.9,177.4 377.5,175.4 378.1,173.7 378.7,173.9 379.3,174.1 379.9,174.3 380.5,174.7 381.1,172.3 381.7,169.7 382.3,167.2 382.9,169.1 383.5,172.2 384.1,174.8 384.7,175.3 385.3,175.8 385.9,176.3 386.5,179.4 387.1,178.6 387.7,176.1 388.3,171.3 388.9,167.4 389.5,164.5 390.1,163.1 390.7,162.6 391.3,164.5 391.9,166.3 392.5,166.5 393.1,162.3 393.7,157.5 394.3,156.0 394.9,156.4 395.5,157.1 396.1,158.0 396.7,159.3 397.3,161.1 397.9,163.8 398.5,166.7 399.1,170.5 399.7,174.2 400.3,175.3 400.9,172.9 401.5,170.5 402.1,168.0 402.7,169.0 403.3,172.1 403.9,175.2 404.5,177.9 405.1,180.3 405.7,181.3 406.3,181.1 406.9,178.0 407.5,175.5 408.1,175.4 408.7,176.0 409.3,173.7 409.9,169.4 410.5,165.5 411.1,166.8 411.6,168.9 412.2,169.1 412.8,167.0 413.4,165.6 414.0,166.0 414.6,167.5 415.2,170.7 415.8,173.1 416.4,175.3 417.0,176.4 417.6,173.8 418.2,171.4 418.8,173.1 419.4,175.7 420.0,178.5 420.6,181.7 421.2,181.8 421.8,180.5 422.4,178.4 423.0,176.4 423.6,177.3 424.2,177.5 424.8,178.0 425.4,178.3 426.0,176.1 426.6,173.8 427.2,171.7 427.8,172.4 428.4,173.1 429.0,173.6 429.6,172.9 430.2,171.3 430.8,169.5 431.4,169.1 432.0,171.0 432.6,173.5 433.2,174.0 433.8,174.4 434.4,176.0 435.0,178.1 435.6,182.3 436.2,186.3 436.8,186.8 437.4,186.8 438.0,187.2 438.6,185.2 439.2,185.9 439.8,186.6 440.4,187.6 441.0,188.5 441.6,189.3 442.2,190.3 442.8,186.9 443.4,183.0 444.0,179.2 444.6,176.8 445.2,173.4 445.8,168.6 446.4,163.6 447.0,163.4 447.6,164.0 448.2,165.0 448.8,164.6 449.4,163.1 450.0,161.5 450.6,162.4 451.2,166.5 451.8,170.0 452.4,169.1 453.0,167.5 453.6,166.1 454.2,167.7 454.8,170.7 455.4,172.6 456.0,171.7 456.6,170.2 457.2,166.8 457.8,162.8 458.4,161.7 459.0,161.4 459.6,162.0 460.2,161.8 460.8,159.8 461.4,161.1 462.0,163.4 462.6,166.9 463.2,169.9 463.8,172.6 464.4,174.5 465.0,173.5 465.6,170.9 466.2,169.5 466.8,171.3 467.4,175.1 468.0,179.5 468.6,181.6 469.2,181.1 469.8,180.0 470.4,178.9 471.0,180.2 471.6,179.4 472.2,178.4 472.8,174.5 473.4,170.3 474.0,167.7 474.6,166.8 475.2,165.9 475.8,165.0 476.4,163.3 477.0,159.7 477.6,160.9 478.2,163.6 478.8,166.3 479.4,171.9 480.0,177.2 480.6,181.4 481.2,183.4 481.8,181.6 482.4,182.4 483.0,184.1 483.6,185.3 484.2,183.2 484.8,179.3 485.4,175.8 486.0,173.7 486.6,174.2 487.2,174.4 487.8,174.0 488.4,173.0 489.0,170.4 489.6,167.9 490.2,165.9 490.8,164.1 491.4,163.9 492.0,166.7 492.6,170.3 493.2,173.7 493.8,175.7 494.4,172.2 495.0,168.2 495.6,165.6 496.2,167.7 496.8,170.7 497.4,174.1 498.0,174.1 498.6,172.9 499.2,174.8 499.8,180.5 500.4,178.3 501.0,176.8 501.6,172.3 502.2,168.4 502.8,165.7 503.4,165.4 504.0,165.6 504.6,162.9 505.2,158.9 505.8,155.7 506.4,159.8 507.0,165.9 507.6,171.2 508.2,170.2 508.8,169.1 509.4,171.3 510.0,175.6 510.6,176.8 511.2,173.0 511.8,168.9 512.4,164.8 513.0,162.3 513.6,161.5 514.2,162.2 514.8,164.0 515.4,162.4 516.0,161.8 516.6,165.0 517.2,170.9 517.8,176.9 518.4,179.4 519.0,176.9 519.6,173.8 520.2,170.3 520.8,168.8 521.4,168.3 522.0,168.0 522.6,169.8 523.2,169.0 523.8,167.7 524.4,166.3 525.0,165.4 525.6,167.9 526.2,170.8 526.8,174.7 527.4,175.2 528.0,175.2 528.6,173.8 529.2,172.0 529.8,173.1 530.4,174.2 531.0,173.2 531.6,181.1 532.2,197.3 532.8,208.2 533.4,209.0 534.0,212.3 534.0,222.7 533.4,219.4 532.8,218.6 532.2,211.4 531.6,199.2 531.0,192.1 530.4,190.6 529.8,188.6 529.2,186.9 528.6,188.1 528.0,189.5 527.4,190.1 526.8,190.3 526.2,187.1 525.6,184.2 525.0,181.5 524.4,182.4 523.8,183.8 523.2,185.1 522.6,185.8 522.0,184.0 521.4,183.5 520.8,183.2 520.2,183.9 519.6,187.6 519.0,191.5 518.4,194.9 517.8,193.1 517.2,187.8 516.6,182.6 516.0,180.1 515.4,180.9 514.8,182.4 514.2,180.7 513.6,180.0 513.0,180.8 512.4,183.3 511.8,187.5 511.2,190.0 510.6,192.3 510.0,189.5 509.4,185.1 508.8,183.7 508.2,185.7 507.6,187.3 507.0,182.0 506.4,176.0 505.8,171.9 505.2,175.0 504.6,179.1 504.0,181.7 503.4,181.3 502.8,180.7 502.2,182.7 501.6,185.8 501.0,190.2 500.4,191.7 499.8,193.9 499.2,189.7 498.6,189.1 498.0,190.8 497.4,191.3 496.8,188.4 496.2,185.9 495.6,184.3 495.0,186.8 494.4,190.8 493.8,194.3 493.2,191.2 492.6,186.1 492.0,181.0 491.4,177.4 490.8,178.3 490.2,181.0 489.6,183.8 489.0,186.5 488.4,189.0 487.8,189.9 487.2,190.3 486.6,190.1 486.0,189.5 485.4,191.6 484.8,194.3 484.2,197.4 483.6,198.7 483.0,197.5 482.4,196.5 481.8,196.4 481.2,199.2 480.6,200.3 480.0,199.3 479.4,197.2 478.8,191.0 478.2,186.6 477.6,182.3 477.0,180.0 476.4,183.5 475.8,185.2 475.2,186.1 474.6,188.5 474.0,191.0 473.4,195.1 472.8,198.7 472.2,199.4 471.6,197.2 471.0,195.4 470.4,194.8 469.8,196.8 469.2,198.7 468.6,200.0 468.0,198.8 467.4,195.3 466.8,191.7 466.2,188.3 465.6,188.2 465.0,189.3 464.4,190.6 463.8,189.5 463.2,187.7 462.6,185.1 462.0,181.7 461.4,179.5 460.8,178.2 460.2,179.5 459.6,179.0 459.0,177.7 458.4,177.2 457.8,177.5 457.2,180.8 456.6,183.5 456.0,185.8 455.4,187.5 454.8,186.3 454.2,183.7 453.6,182.1 453.0,183.4 452.4,185.0 451.8,186.0 451.2,182.5 450.6,178.5 450.0,177.5 449.4,179.1 448.8,180.6 448.2,181.5 447.6,181.3 447.0,181.5 446.4,182.5 445.8,186.8 445.2,190.8 444.6,193.5 444.0,194.5 443.4,196.7 442.8,198.9 442.2,201.0 441.6,201.9 441.0,202.9 440.4,203.8 439.8,201.6 439.2,198.7 438.6,195.8 438.0,196.4 437.4,196.9 436.8,197.6 436.2,197.9 435.6,194.4 435.0,190.6 434.4,188.8 433.8,187.6 433.2,186.8 432.6,186.0 432.0,183.1 431.4,181.0 430.8,181.3 430.2,183.0 429.6,184.6 429.0,185.3 428.4,184.8 427.8,184.2 427.2,183.1 426.6,184.2 426.0,185.7 425.4,187.7 424.8,188.8 424.2,189.8 423.6,191.1 423.0,191.0 422.4,193.8 421.8,196.7 421.2,198.3 420.6,198.2 420.0,194.9 419.4,192.1 418.8,189.4 418.2,187.7 417.6,190.1 417.0,192.2 416.4,190.3 415.8,187.3 415.2,184.2 414.6,181.9 414.0,181.2 413.4,181.6 412.8,182.8 412.2,184.3 411.6,183.5 411.1,180.9 410.5,179.0 409.9,183.1 409.3,188.2 408.7,191.3 408.1,191.5 407.5,192.2 406.9,195.5 406.3,199.3 405.7,199.6 405.1,198.6 404.5,196.2 403.9,193.6 403.3,191.3 402.7,189.0 402.1,188.9 401.5,190.7 400.9,192.3 400.3,194.0 399.7,192.4 399.1,188.7 398.5,184.9 397.9,181.9 397.3,179.0 396.7,176.8 396.1,175.1 395.5,172.7 394.9,169.7 394.3,169.7 393.7,171.9 393.1,177.4 392.5,183.1 391.9,185.2 391.3,186.0 390.7,186.1 390.1,184.3 389.5,183.5 388.9,184.1 388.3,187.1 387.7,191.9 387.1,194.4 386.5,195.4 385.9,193.1 385.3,193.4 384.7,193.7 384.1,192.8 383.5,189.5 382.9,185.6 382.3,183.3 381.7,185.8 381.1,188.5 380.5,190.8 379.9,189.8 379.3,189.0 378.7,188.2 378.1,187.7 377.5,189.4 376.9,191.4 376.3,193.5 375.7,199.0 375.1,201.6 374.5,204.3 373.9,210.5 373.3,216.6 372.7,218.0 372.1,219.0 371.5,220.0 370.9,221.5 370.3,220.5 369.7,219.5 369.1,218.5 368.5,213.5 367.9,201.9 367.3,192.5 366.7,182.5 366.1,179.6 365.5,176.7 364.9,176.7 364.3,178.7 363.7,181.3 363.1,181.5 362.5,181.4 361.9,181.2 361.3,180.8 360.7,181.9 360.1,182.3 359.5,183.1 358.9,184.0 358.3,182.4 357.7,180.6 357.1,178.5 356.5,177.7 355.9,181.3 355.3,184.7 354.7,188.4 354.1,191.0 353.5,196.2 352.9,201.8 352.3,208.5 351.7,209.5 351.1,209.7 350.5,206.4 349.9,202.3 349.3,198.2 348.7,196.4 348.1,196.9 347.5,196.9 346.9,194.8 346.3,189.5 345.7,186.0 345.1,183.1 344.5,183.4 343.9,184.7 343.3,185.8 342.7,183.5 342.1,181.1 341.5,178.0 340.9,174.7 340.3,173.5 339.7,176.4 339.1,182.1 338.5,187.8 337.9,192.5 337.3,196.0 336.7,200.1 336.1,207.1 335.5,209.0 334.9,208.2 334.3,207.3 333.7,203.3 333.1,199.2 332.5,195.0 331.9,193.4 331.3,193.2 330.7,192.9 330.1,189.6 329.5,185.5 328.9,181.8 328.3,183.2 327.7,185.1 327.1,187.0 326.5,188.0 325.9,187.7 325.3,187.7 324.7,188.2 324.1,187.3 323.5,189.1 322.9,190.4 322.3,187.3 321.7,183.5 321.1,181.0 320.5,181.4 319.9,182.5 319.3,182.4 318.7,180.7 318.1,177.7 317.5,174.3 316.9,174.2 316.3,174.2 315.7,174.9 315.1,174.2 314.5,173.2 313.9,171.9 313.3,172.0 312.7,173.7 312.1,175.3 311.5,176.2 310.9,175.1 310.3,173.4 309.7,175.2 309.1,177.0 308.5,181.1 307.9,184.5 307.3,185.2 306.7,185.0 306.1,186.0 305.5,190.0 304.9,194.6 304.3,202.0 303.7,205.1 303.1,203.9 302.5,199.7 301.9,194.2 301.3,189.9 300.7,186.1 300.1,184.0 299.5,184.5 298.9,185.5 298.3,185.4 297.7,182.5 297.1,180.1 296.5,178.0 295.9,177.6 295.3,180.0 294.7,181.9 294.1,183.5 293.5,180.7 292.9,180.7 292.3,180.5 291.7,180.1 291.1,178.8 290.5,176.1 289.9,173.8 289.3,172.5 288.7,172.4 288.1,173.0 287.5,174.5 286.9,178.7 286.3,183.5 285.7,184.1 285.1,181.9 284.5,178.6 283.9,177.1 283.3,176.7 282.7,179.0 282.1,181.2 281.5,183.5 280.9,182.7 280.3,182.3 279.7,181.6 279.1,181.5 278.5,181.3 277.9,181.6 277.3,181.6 276.7,181.7 276.1,181.8 275.5,178.0 274.9,177.9 274.3,178.0 273.7,177.4 273.1,175.6 272.5,173.5 271.9,171.4 271.3,172.0 270.7,175.0 270.1,178.5 269.5,182.0 268.9,183.7 268.3,184.2 267.7,184.7 267.1,185.2 266.5,186.3 265.9,189.6 265.3,193.1 264.7,196.0 264.1,193.3 263.5,189.1 262.9,185.3 262.3,183.9 261.7,185.2 261.1,186.0 260.5,183.3 259.9,179.5 259.3,176.9 258.7,177.6 258.1,178.8 257.5,179.7 256.9,179.0 256.3,177.2 255.7,176.9 255.1,177.1 254.5,180.2 253.9,183.1 253.3,184.9 252.7,183.0 252.1,182.0 251.5,184.7 250.9,189.3 250.3,193.2 249.7,196.5 249.1,198.3 248.5,198.5 247.9,198.9 247.3,199.4 246.7,197.1 246.1,196.8 245.5,196.6 244.9,194.3 244.3,189.8 243.7,185.4 243.1,181.8 242.5,186.2 241.9,190.9 241.3,195.7 240.7,198.3 240.1,200.8 239.5,203.6 238.9,207.7 238.3,211.1 237.7,214.4 237.1,214.2 236.5,210.1 235.9,206.3 235.3,206.0 234.7,205.9 234.1,202.3 233.5,198.1 232.9,193.3 232.3,189.1 231.7,185.6 231.1,182.4 230.5,178.7 229.9,176.5 229.3,174.1 228.7,172.7 228.1,174.6 227.5,177.2 226.9,176.0 226.3,174.1 225.7,170.6 225.1,170.7 224.5,170.6 223.9,172.2 223.3,172.3 222.7,172.0 222.1,172.4 221.5,173.3 220.9,175.8 220.3,180.2 219.7,182.2 219.1,179.8 218.5,177.0 217.9,177.0 217.3,179.6 216.7,182.0 216.1,184.2 215.5,184.7 214.9,183.2 214.3,182.5 213.7,187.7 213.1,193.3 212.5,198.1 211.9,202.0 211.3,206.5 210.7,213.8 210.1,217.8 209.5,219.4 208.9,220.9 208.3,219.6 207.7,217.7 207.1,215.8 206.5,214.1 205.9,215.4 205.3,204.4 204.7,187.7 204.1,176.6 203.5,171.5 202.9,167.9 202.3,169.8 201.7,172.1 201.1,174.2 200.5,172.3 199.9,170.1 199.3,167.6 198.7,166.4 198.1,169.1 197.5,171.7 196.9,172.6 196.3,172.3 195.7,172.4 195.1,172.1 194.5,172.7 193.9,179.3 193.3,186.4 192.7,193.4 192.1,195.5 191.5,195.9 190.9,196.7 190.3,197.5 189.7,197.3 189.1,197.1 188.5,196.3 187.9,192.6 187.3,187.6 186.7,183.1 186.1,178.9 185.5,178.6 184.9,179.1 184.3,180.3 183.7,183.5 183.1,183.5 182.5,181.8 181.9,181.0 181.3,182.3 180.7,186.5 180.1,190.1 179.5,192.0 178.9,191.3 178.3,189.7 177.7,187.7 177.1,187.6 176.5,189.0 175.9,190.6 175.3,191.1 174.7,187.5 174.1,183.9 173.5,187.4 172.9,192.7 172.3,197.7 171.7,199.8 171.1,196.7 170.5,192.3 169.9,187.7 169.3,186.4 168.7,185.4 168.1,180.4 167.5,174.2 166.9,168.0 166.4,165.3 165.8,169.2 165.2,173.0 164.6,174.6 164.0,174.7 163.4,174.8 162.8,178.6 162.2,182.1 161.6,184.8 161.0,184.0 160.4,183.6 159.8,179.7 159.2,179.1 158.6,178.0 158.0,177.5 157.4,176.9 156.8,172.6 156.2,171.2 155.6,178.5 155.0,188.7 154.4,200.8 153.8,201.2 153.2,200.1 152.6,197.7 152.0,192.2 151.4,186.4 150.8,180.8 150.2,178.1 149.6,181.0 149.0,184.8 148.4,189.0 147.8,189.4 147.2,187.8 146.6,185.6 146.0,184.4 145.4,189.6 144.8,195.2 144.2,201.1 143.6,200.3 143.0,197.5 142.4,194.7 141.8,189.4 141.2,184.1 140.6,178.5 140.0,170.6 139.4,168.1 138.8,166.8 138.2,167.4 137.6,168.7 137.0,169.8 136.4,169.2 135.8,168.8 135.2,168.8 134.6,171.9 134.0,175.3 133.4,178.6 132.8,178.9 132.2,179.5 131.6,180.1 131.0,181.7 130.4,185.0 129.8,187.6 129.2,190.0 128.6,189.5 128.0,184.9 127.4,180.4 126.8,176.2 126.2,175.7 125.6,176.3 125.0,177.0 124.4,177.4 123.8,178.6 123.2,179.5 122.6,180.2 122.0,181.8 121.4,186.0 120.8,188.8 120.2,191.8 119.6,191.7 119.0,189.8 118.4,187.1 117.8,184.1 117.2,183.5 116.6,182.7 116.0,181.5 115.4,178.9 114.8,174.8 114.2,171.1 113.6,171.6 113.0,175.6 112.4,179.9 111.8,184.2 111.2,184.6 110.6,183.4 110.0,181.9 109.4,181.4 108.8,184.3 108.2,188.2 107.6,192.3 107.0,195.9 106.4,192.0 105.8,186.0 105.2,179.7 104.6,175.8 104.0,176.7 103.4,177.6 102.8,178.6 102.2,178.1 101.6,175.9 101.0,173.8 100.4,175.5 99.8,180.3 99.2,184.8 98.6,186.7 98.0,183.3 97.4,181.0 96.8,179.5 96.2,180.0 95.6,182.1 95.0,180.8 94.4,179.4 93.8,175.7 93.2,174.6 92.6,174.8 92.0,175.3 91.4,175.9 90.8,174.1 90.2,169.6 89.6,164.9 89.0,162.7 88.4,163.0 87.8,165.7 87.2,168.3 86.6,169.5 86.0,171.3 85.4,175.6 84.8,179.8 84.2,184.7 83.6,184.1 83.0,182.5 82.4,180.9 81.8,177.6 81.2,174.9 80.6,172.4 80.0,173.6 79.4,177.8 78.8,180.1 78.2,179.8 77.6,182.5 77.0,187.6 76.4,195.2 75.8,201.1 75.2,200.4 74.6,198.2 74.0,195.2 73.4,191.1 72.8,186.9 72.2,183.3 71.6,182.4 71.0,183.6 70.4,185.0 69.8,184.2 69.2,182.2 68.6,180.3 68.0,181.1 67.4,183.6 66.8,186.4 66.2,189.5 65.6,190.7 65.0,193.1 64.4,194.6 63.8,197.7 63.2,200.3 62.6,202.5 62.0,202.2 61.4,200.7 60.8,197.2 60.2,196.0 59.6,196.6 59.0,197.2 58.4,197.6 57.8,194.6 57.2,191.5 56.6,188.5 56.0,188.9 55.4,189.3 54.8,187.8 54.2,185.7 53.6,185.1 53.0,187.1 52.4,189.1 51.8,191.7 51.2,194.2 50.6,193.7 50.0,193.3 49.4,193.0 48.8,195.1 48.2,199.3 47.6,204.0 47.0,204.9 46.4,205.9 45.8,207.2 45.2,209.3 44.6,213.8 44.0,217.4" fill="#a6a6a6"/>
<polyline points="44.0,206.1 44.6,205.1 45.2,198.7 45.8,199.3 46.4,191.1 47.0,196.9 47.6,192.3 48.2,192.3 48.8,184.6 49.4,186.9 50.0,178.1 50.6,185.2 51.2,179.7 51.8,182.1 52.4,174.0 53.0,173.9 53.6,169.3 54.2,172.8 54.8,170.3 55.4,172.9 56.0,168.3 56.6,170.0 57.2,166.9 57.8,177.9 58.4,177.5 59.0,182.1 59.6,180.9 60.2,185.0 60.8,185.1 61.4,191.2 62.0,186.7 62.6,192.7 63.2,186.6 63.8,185.6 64.4,181.4 65.0,183.2 65.6,178.0 66.2,179.6 66.8,174.0 67.4,173.9 68.0,168.3 68.6,170.6 69.2,169.9 69.8,175.2 70.4,173.4 71.0,174.5 71.6,170.6 72.2,176.9 72.8,171.1 73.4,184.8 74.0,182.2 74.6,187.4 75.2,186.7 75.8,190.9 76.4,181.2 77.0,175.0 77.6,164.8 78.2,164.6 78.8,164.7 79.4,166.5 80.0,162.4 80.6,166.9 81.2,163.0 81.8,167.3 82.4,167.4 83.0,170.0 83.6,166.8 84.2,169.2 84.8,159.7 85.4,164.4 86.0,159.6 86.6,160.8 87.2,156.5 87.8,155.0 88.4,149.2 89.0,151.1 89.6,149.8 90.2,160.8 90.8,161.9 91.4,167.4 92.0,163.9 92.6,166.1 93.2,161.2 93.8,164.7 94.4,165.0 95.0,171.8 95.6,168.4 96.2,168.8 96.8,163.5 97.4,167.2 98.0,163.4 98.6,171.7 99.2,167.9 99.8,169.5 100.4,155.9 101.0,161.4 101.6,158.4 102.2,165.0 102.8,163.1 103.4,164.7 104.0,159.0 104.6,163.3 105.2,163.2 105.8,170.1 106.4,171.7 107.0,176.9 107.6,167.6 108.2,174.2 108.8,163.8 109.4,164.4 110.0,160.2 110.6,167.4 111.2,167.4 111.8,170.2 112.4,163.1 113.0,160.9 113.6,154.6 114.2,156.5 114.8,153.8 115.4,164.8 116.0,165.2 116.6,167.8 117.2,166.2 117.8,168.1 118.4,169.0 119.0,173.2 119.6,167.6 120.2,173.2 120.8,167.3 121.4,165.5 122.0,160.1 122.6,163.4 123.2,160.7 123.8,163.9 124.4,160.8 125.0,163.2 125.6,160.2 126.2,161.3 126.8,158.4 127.4,165.8 128.0,166.1 128.6,174.6 129.2,172.7 129.8,173.1 130.4,167.4 131.0,166.2 131.6,163.1 132.2,166.7 132.8,163.9 133.4,169.3 134.0,160.7 134.6,160.9 135.2,155.0 135.8,158.7 136.4,155.1 137.0,159.5 137.6,155.9 138.2,157.6 138.8,153.6 139.4,158.6 140.0,154.6 140.6,165.7 141.2,164.8 141.8,170.0 142.4,171.8 143.0,178.2 143.6,179.2 144.2,184.3 144.8,175.7 145.4,174.2 146.0,167.6 146.6,170.6 147.2,170.6 147.8,178.5 148.4,170.9 149.0,169.7 149.6,161.8 150.2,161.5 150.8,161.2 151.4,170.1 152.0,168.5 152.6,181.4 153.2,178.9 153.8,182.5 154.4,178.7 155.0,173.3 155.6,159.1 156.2,156.1 156.8,154.2 157.4,163.0 158.0,160.8 158.6,163.8 159.2,161.0 159.8,165.0 160.4,161.6 161.0,169.1 161.6,164.3 162.2,167.6 162.8,161.2 163.4,160.6 164.0,157.5 164.6,160.4 165.2,155.1 165.8,154.8 166.4,148.4 166.9,154.9 167.5,157.4 168.1,169.1 168.7,164.5 169.3,174.1 169.9,168.5 170.5,175.6 171.1,178.8 171.7,185.6 172.3,180.4 172.9,179.4 173.5,172.4 174.1,172.6 174.7,174.0 175.3,180.1 175.9,176.8 176.5,179.7 177.1,173.3 177.7,174.6 178.3,171.5 178.9,174.8 179.5,171.5 180.1,170.7 180.7,162.8 181.3,166.1 181.9,165.2 182.5,169.9 183.1,169.2 183.7,172.5 184.3,168.2 184.9,171.2 185.5,164.6 186.1,167.6 186.7,168.2 187.3,175.3 187.9,177.4 188.5,183.2 189.1,179.9 189.7,182.3 190.3,180.2 190.9,184.1 191.5,180.3 192.1,183.4 192.7,180.4 193.3,175.0 193.9,163.9 194.5,160.9 195.1,156.2 195.7,160.7 196.3,157.1 196.9,161.3 197.5,154.0 198.1,158.3 198.7,152.9 199.3,157.5 199.9,156.5 200.5,161.2 201.1,160.5 201.7,160.3 202.3,155.4 202.9,156.4 203.5,156.1 204.1,164.3 204.7,172.7 205.3,194.4 205.9,202.3 206.5,207.1 207.1,206.0 207.7,209.9 208.3,208.8 208.9,213.5 209.5,206.6 210.1,209.2 210.7,203.4 211.3,199.6 211.9,190.8 212.5,188.4 213.1,177.6 213.7,177.2 214.3,169.5 214.9,176.5 215.5,172.2 216.1,173.7 216.7,167.8 217.3,167.3 217.9,158.6 218.5,163.4 219.1,164.5 219.7,170.1 220.3,164.4 220.9,163.6 221.5,157.9 222.1,160.1 222.7,155.3 223.3,157.5 223.9,152.7 224.5,152.4 225.1,149.5 225.7,153.1 226.3,154.0 226.9,159.7 227.5,159.6 228.1,163.6 228.7,160.3 229.3,161.9 229.9,160.3 230.5,165.8 231.1,162.6 231.7,168.6 232.3,169.8 232.9,179.3 233.5,181.2 234.1,191.2 234.7,194.3 235.3,195.5 235.9,193.3 236.5,198.4 237.1,199.0 237.7,202.1 238.3,194.3 238.9,193.0 239.5,182.5 240.1,191.2 240.7,182.4 241.3,183.7 241.9,174.4 242.5,170.5 243.1,162.5 243.7,167.8 244.3,168.8 244.9,175.2 245.5,174.1 246.1,177.3 246.7,174.9 247.3,180.2 247.9,178.3 248.5,182.4 249.1,179.8 249.7,184.9 250.3,176.7 250.9,177.3 251.5,170.3 252.1,169.0 252.7,167.4 253.3,170.6 253.9,166.2 254.5,164.9 255.1,159.9 255.7,161.3 256.3,159.7 256.9,164.0 257.5,163.6 258.1,167.5 258.7,164.3 259.3,166.7 259.9,167.5 260.5,173.9 261.1,173.9 261.7,175.6 262.3,170.9 262.9,175.0 263.5,175.0 264.1,183.2 264.7,181.4 265.3,180.6 265.9,174.5 266.5,173.4 267.1,170.4 267.7,174.0 268.3,172.4 268.9,176.7 269.5,170.9 270.1,169.0 270.7,160.9 271.3,160.2 271.9,155.4 272.5,161.4 273.1,159.8 273.7,163.2 274.3,160.7 274.9,164.0 275.5,160.5 276.1,166.4 276.7,164.5 277.3,168.0 277.9,166.9 278.5,168.5 279.1,164.3 279.7,166.2 280.3,161.3 280.9,166.8 281.5,165.1 282.1,166.2 282.7,162.0 283.3,161.5 283.9,159.1 284.5,162.1 285.1,163.9 285.7,169.5 286.3,166.6 286.9,164.7 287.5,155.2 288.1,161.8 288.7,154.0 289.3,153.9 289.9,152.1 290.5,156.8 291.1,156.4 291.7,161.4 292.3,160.2 292.9,164.5 293.5,163.6 294.1,169.6 294.7,166.1 295.3,169.2 295.9,162.5 296.5,166.3 297.1,165.7 297.7,169.7 298.3,169.3 298.9,173.4 299.5,169.8 300.1,173.0 300.7,170.5 301.3,177.2 301.9,177.6 302.5,184.4 303.1,185.6 303.7,187.8 304.3,181.8 304.9,179.0 305.5,174.1 306.1,173.5 306.7,168.9 307.3,170.9 307.9,164.7 308.5,164.6 309.1,157.6 309.7,160.8 310.3,157.3 310.9,162.2 311.5,160.2 312.1,163.3 312.7,157.7 313.3,158.1 313.9,155.4 314.5,162.1 315.1,154.6 315.7,156.6 316.3,154.2 316.9,158.0 317.5,157.4 318.1,164.0 318.7,166.1 319.3,169.0 319.9,161.7 320.5,164.3 321.1,161.9 321.7,167.9 322.3,169.9 322.9,175.7 323.5,173.1 324.1,174.1 324.7,170.9 325.3,175.3 325.9,172.9 326.5,175.8 327.1,171.6 327.7,170.9 328.3,160.7 328.9,164.2 329.5,166.0 330.1,173.9 330.7,172.2 331.3,178.8 331.9,175.8 332.5,178.8 333.1,179.8 333.7,189.5 334.3,187.3 334.9,189.2 335.5,187.7 336.1,187.1 336.7,179.8 337.3,179.3 337.9,174.9 338.5,173.9 339.1,165.0 339.7,163.7 340.3,154.8 340.9,163.6 341.5,163.2 342.1,168.6 342.7,164.5 343.3,173.3 343.9,170.4 344.5,171.4 345.1,168.0 345.7,177.9 346.3,174.5 346.9,183.5 347.5,177.2 348.1,184.7 348.7,177.5 349.3,182.7 349.9,183.2 350.5,191.1 351.1,185.7 351.7,183.8 352.3,175.8 352.9,174.8 353.5,167.8 354.1,173.9 354.7,169.6 355.3,171.9 355.9,161.9 356.5,166.3 357.1,163.4 357.7,168.2 358.3,167.8 358.9,171.9 359.5,167.9 360.1,173.5 360.7,166.9 361.3,168.7 361.9,168.3 362.5,171.8 363.1,168.9 363.7,170.7 364.3,166.3 364.9,166.0 365.5,160.6 366.1,165.8 366.7,162.8 367.3,176.5 367.9,183.6 368.5,201.7 369.1,203.0 369.7,210.3 370.3,207.7 370.9,211.9 371.5,207.0 372.1,209.0 372.7,200.4 373.3,206.9 373.9,194.1 374.5,191.9 375.1,187.1 375.7,186.5 376.3,176.2 376.9,179.0 377.5,169.9 378.1,175.0 378.7,171.9 379.3,178.4 379.9,172.4 380.5,176.6 381.1,170.9 381.7,170.5 382.3,166.3 382.9,169.7 383.5,170.2 384.1,175.9 384.7,174.1 385.3,177.5 385.9,175.5 386.5,181.2 387.1,177.4 387.7,178.6 388.3,170.5 388.9,169.3 389.5,162.9 390.1,168.2 390.7,161.8 391.3,165.8 391.9,164.7 392.5,167.6 393.1,160.3 393.7,158.7 394.3,151.4 394.9,157.7 395.5,156.4 396.1,159.8 396.7,157.7 397.3,162.7 397.9,162.1 398.5,167.4 399.1,169.9 399.7,175.5 400.3,173.6 400.9,174.4 401.5,169.5 402.1,170.9 402.7,167.8 403.3,172.7 403.9,174.2 404.5,178.7 405.1,179.0 405.7,182.9 406.3,179.6 406.9,179.7 407.5,174.1 408.1,177.2 408.7,173.5 409.3,175.0 409.9,168.1 410.5,167.4 411.1,165.6 411.6,170.8 412.2,168.4 412.8,168.8 413.4,163.7 414.0,167.2 414.6,166.5 415.2,171.4 415.8,171.6 416.4,177.1 417.0,175.4 417.6,174.9 418.2,169.8 418.8,174.0 419.4,174.2 420.0,179.6 420.6,180.8 421.2,182.6 421.8,179.6 422.4,179.4 423.0,174.8 423.6,178.1 424.2,176.2 424.8,179.2 425.4,176.7 426.0,178.4 426.6,170.1 427.2,173.3 427.8,167.4 428.4,174.4 429.0,172.6 429.6,173.7 430.2,169.9 430.8,172.3 431.4,164.2 432.0,172.9 432.6,172.3 433.2,175.4 433.8,171.3 434.4,177.5 435.0,174.4 435.6,183.2 436.2,184.7 436.8,190.3 437.4,185.6 438.0,190.2 438.6,184.2 439.2,188.1 439.8,184.9 440.4,188.9 441.0,186.8 441.6,190.9 442.2,188.5 442.8,191.7 443.4,182.0 444.0,182.9 444.6,175.2 445.2,175.2 445.8,167.4 446.4,164.2 447.0,162.3 447.6,165.6 448.2,163.9 448.8,166.0 449.4,161.2 450.0,162.5 450.6,160.3 451.2,169.8 451.8,168.9 452.4,170.2 453.0,165.5 453.6,167.9 454.2,166.8 454.8,175.9 455.4,171.6 456.0,173.4 456.6,168.9 457.2,168.0 457.8,161.5 458.4,162.7 459.0,157.0 459.6,164.8 460.2,158.2 460.8,161.4 461.4,159.6 462.0,166.7 462.6,161.7 463.2,175.5 463.8,170.8 464.4,175.1 465.0,172.7 465.6,174.8 466.2,167.7 466.8,172.2 467.4,174.5 468.0,180.6 468.6,180.8 469.2,184.8 469.8,178.3 470.4,182.0 471.0,179.5 471.6,181.0 472.2,176.6 472.8,175.8 473.4,169.1 474.0,169.3 474.6,166.1 475.2,167.9 475.8,163.6 476.4,166.8 477.0,158.1 477.6,161.5 478.2,158.9 478.8,167.2 479.4,170.7 480.0,177.9 480.6,180.1 481.2,185.7 481.8,180.1 482.4,183.5 483.0,183.0 483.6,186.6 484.2,181.6 484.8,181.2 485.4,174.5 486.0,175.4 486.6,173.6 487.2,177.7 487.8,169.8 488.4,173.7 489.0,169.1 489.6,169.0 490.2,164.6 490.8,166.4 491.4,162.8 492.0,167.3 492.6,168.8 493.2,176.0 493.8,174.2 494.4,173.7 495.0,167.3 495.6,166.5 496.2,167.0 496.8,171.4 497.4,172.1 498.0,175.0 498.6,171.5 499.2,176.3 499.8,179.0 500.4,179.2 501.0,176.2 501.6,174.1 502.2,167.4 502.8,167.4 503.4,164.3 504.0,166.3 504.6,159.4 505.2,160.3 505.8,154.1 506.4,161.6 507.0,164.8 507.6,172.5 508.2,167.1 508.8,170.0 509.4,170.4 510.0,177.5 510.6,175.0 511.2,174.0 511.8,167.1 512.4,165.6 513.0,160.8 513.6,163.3 514.2,161.5 514.8,168.4 515.4,159.9 516.0,164.9 516.6,160.2 517.2,172.8 517.8,171.5 518.4,180.3 519.0,176.2 519.6,174.9 520.2,168.8 520.8,172.9 521.4,166.4 522.0,170.8 522.6,165.3 523.2,170.1 523.8,167.0 524.4,167.9 525.0,163.9 525.6,169.5 526.2,170.1 526.8,176.5 527.4,172.0 528.0,176.2 528.6,168.6 529.2,173.4 529.8,172.4 530.4,175.4 531.0,171.8 531.6,182.7 532.2,195.4 532.8,209.7 533.4,208.3 534.0,215.3" fill="none" stroke="#000" stroke-width="1.2"/>
<polyline points="44.0,219.0 44.6,211.6 45.2,212.1 45.8,205.5 46.4,207.0 47.0,203.1 47.6,205.0 48.2,194.9 48.8,199.0 49.4,191.3 50.0,194.0 50.6,192.1 51.2,195.2 51.8,190.0 52.4,190.0 53.0,185.6 53.6,186.8 54.2,184.6 54.8,189.2 55.4,184.7 56.0,190.8 56.6,186.6 57.2,192.4 57.8,189.8 58.4,198.4 59.0,195.5 59.6,197.3 60.2,194.6 60.8,201.9 61.4,199.9 62.0,203.7 62.6,201.6 63.2,201.9 63.8,197.0 64.4,196.3 65.0,188.6 65.6,192.5 66.2,188.2 66.8,187.7 67.4,181.9 68.0,185.4 68.6,179.2 69.2,183.8 69.8,183.4 70.4,186.5 71.0,182.0 71.6,184.9 72.2,182.4 72.8,191.4 73.4,190.2 74.0,196.3 74.6,196.2 75.2,201.7 75.8,200.3 76.4,196.9 77.0,185.6 77.6,183.5 78.2,178.5 78.8,181.6 79.4,176.4 80.0,174.4 80.6,171.7 81.2,178.2 81.8,176.2 82.4,181.7 83.0,181.6 83.6,189.2 84.2,181.8 84.8,180.9 85.4,173.7 86.0,173.1 86.6,167.8 87.2,170.1 87.8,161.9 88.4,164.2 89.0,159.2 89.6,165.8 90.2,168.0 90.8,175.4 91.4,175.1 92.0,179.6 92.6,173.9 93.2,175.5 93.8,174.2 94.4,180.3 95.0,179.8 95.6,184.3 96.2,178.7 96.8,180.5 97.4,179.5 98.0,188.6 98.6,184.8 99.2,186.2 99.8,175.0 100.4,177.2 101.0,172.2 101.6,176.6 102.2,177.1 102.8,179.9 103.4,176.0 104.0,177.6 104.6,174.8 105.2,182.2 105.8,185.0 106.4,193.1 107.0,194.5 107.6,195.5 108.2,186.8 108.8,189.5 109.4,180.6 110.0,183.5 110.6,182.6 111.2,185.7 111.8,182.7 112.4,181.2 113.0,174.8 113.6,172.3 114.2,170.1 114.8,176.5 115.4,177.8 116.0,182.9 116.6,181.5 117.2,185.3 117.8,182.4 118.4,188.4 119.0,188.6 119.6,192.6 120.2,190.4 120.8,193.5 121.4,184.0 122.0,183.3 122.6,179.3 123.2,181.2 123.8,178.0 124.4,180.1 125.0,175.3 125.6,179.4 126.2,174.5 126.8,178.4 127.4,178.5 128.0,186.7 128.6,187.9 129.2,191.1 129.8,187.0 130.4,186.9 131.0,180.6 131.6,182.0 132.2,177.9 132.8,179.5 133.4,178.0 134.0,177.0 134.6,170.1 135.2,169.6 135.8,167.6 136.4,174.3 137.0,169.2 137.6,169.4 138.2,166.7 138.8,171.5 139.4,166.6 140.0,172.6 140.6,177.8 141.2,185.7 141.8,187.9 142.4,196.6 143.0,196.8 143.6,202.2 144.2,200.4 144.8,196.2 145.4,185.9 146.0,185.5 146.6,180.7 147.2,189.3 147.8,187.4 148.4,190.1 149.0,183.9 149.6,182.3 150.2,176.6 150.8,181.4 151.4,181.4 152.0,194.2 152.6,196.9 153.2,203.2 153.8,200.3 154.4,201.9 155.0,187.8 155.6,180.5 156.2,169.2 156.8,174.5 157.4,172.3 158.0,178.7 158.6,176.7 159.2,183.3 159.8,178.7 160.4,186.8 161.0,182.5 161.6,186.3 162.2,179.3 162.8,180.6 163.4,174.2 164.0,175.4 164.6,171.6 165.2,176.1 165.8,164.6 166.4,166.7 166.9,166.2 167.5,175.8 168.1,179.4 168.7,187.0 169.3,185.0 169.9,189.3 170.5,189.5 171.1,202.0 171.7,196.7 172.3,199.4 172.9,191.8 173.5,188.5 174.1,183.2 174.7,188.2 175.3,188.9 175.9,192.0 176.5,188.3 177.1,190.7 177.7,182.8 178.3,191.3 178.9,189.9 179.5,194.8 180.1,188.8 180.7,191.9 181.3,181.6 181.9,182.5 182.5,178.5 183.1,185.2 183.7,182.7 184.3,180.9 184.9,177.9 185.5,179.6 186.1,176.9 186.7,184.4 187.3,185.7 187.9,194.4 188.5,194.7 189.1,200.7 189.7,196.5 190.3,198.7 190.9,195.5 191.5,197.5 192.1,192.4 192.7,195.8 193.3,184.9 193.9,181.3 194.5,171.4 195.1,173.9 195.7,168.1 196.3,174.3 196.9,170.7 197.5,175.7 198.1,167.4 198.7,167.3 199.3,165.7 199.9,171.3 200.5,171.3 201.1,175.2 201.7,168.7 202.3,170.4 202.9,166.0 203.5,172.8 204.1,175.3 204.7,189.4 205.3,202.8 205.9,216.9 206.5,213.0 207.1,219.8 207.7,215.7 208.3,221.2 208.9,215.4 209.5,220.9 210.1,214.7 210.7,215.0 211.3,203.3 211.9,203.0 212.5,197.1 213.1,195.2 213.7,187.0 214.3,183.9 214.9,182.5 215.5,185.8 216.1,182.8 216.7,183.7 217.3,178.9 217.9,177.9 218.5,173.9 219.1,181.8 219.7,176.7 220.3,181.3 220.9,175.0 221.5,175.1 222.1,167.7 222.7,173.4 223.3,171.3 223.9,173.4 224.5,169.5 225.1,171.8 225.7,169.9 226.3,175.2 226.9,175.3 227.5,178.0 228.1,173.4 228.7,173.6 229.3,172.3 229.9,177.4 230.5,177.9 231.1,183.3 231.7,183.9 232.3,189.9 232.9,192.0 233.5,199.9 234.1,200.5 234.7,206.9 235.3,205.4 235.9,207.9 236.5,208.8 237.1,218.1 237.7,212.9 238.3,211.9 238.9,206.6 239.5,205.0 240.1,199.6 240.7,200.0 241.3,194.4 241.9,196.0 242.5,185.3 243.1,182.5 243.7,182.7 244.3,190.7 244.9,191.9 245.5,197.5 246.1,195.8 246.7,197.7 247.3,197.7 247.9,200.3 248.5,197.6 249.1,199.7 249.7,194.6 250.3,194.5 250.9,187.1 251.5,186.6 252.1,181.3 252.7,184.0 253.3,183.8 253.9,184.2 254.5,179.4 255.1,178.9 255.7,175.2 256.3,178.0 256.9,177.5 257.5,181.4 258.1,177.5 258.7,179.5 259.3,176.3 259.9,181.3 260.5,181.8 261.1,187.7 261.7,180.8 262.3,185.4 262.9,181.7 263.5,191.6 264.1,191.8 264.7,197.7 265.3,192.3 265.9,190.4 266.5,183.3 267.1,187.0 267.7,183.3 268.3,185.1 268.9,179.1 269.5,182.8 270.1,177.0 270.7,177.0 271.3,171.3 271.9,173.0 272.5,172.1 273.1,177.4 273.7,175.8 274.3,179.3 274.9,175.1 275.5,180.0 276.1,180.5 276.7,182.5 277.3,177.8 277.9,182.4 278.5,177.4 279.1,183.4 279.7,180.3 280.3,183.5 280.9,177.7 281.5,184.6 282.1,180.2 282.7,180.1 283.3,174.7 283.9,179.1 284.5,177.7 285.1,187.3 285.7,183.1 286.3,184.2 286.9,177.2 287.5,175.4 288.1,171.2 288.7,173.6 289.3,171.4 289.9,176.3 290.5,174.9 291.1,180.3 291.7,177.1 292.3,181.2 292.9,179.5 293.5,182.3 294.1,182.7 294.7,183.1 295.3,178.6 295.9,178.8 296.5,173.3 297.1,181.3 297.7,177.1 298.3,186.9 298.9,184.2 299.5,186.2 300.1,182.5 300.7,189.1 301.3,188.1 301.9,196.1 302.5,194.3 303.1,205.5 303.7,203.9 304.3,203.5 304.9,193.0 305.5,195.4 306.1,185.1 306.7,186.2 307.3,180.6 307.9,186.0 308.5,180.1 309.1,178.8 309.7,174.5 310.3,178.5 310.9,174.3 311.5,177.2 312.1,174.1 312.7,175.0 313.3,170.4 313.9,175.4 314.5,172.4 315.1,175.4 315.7,170.9 316.3,175.1 316.9,173.5 317.5,175.2 318.1,175.7 318.7,182.5 319.3,181.3 319.9,184.2 320.5,180.4 321.1,186.3 321.7,181.6 322.3,188.5 322.9,185.9 323.5,190.3 324.1,186.6 324.7,189.2 325.3,186.2 325.9,188.6 326.5,187.1 327.1,189.1 327.7,183.5 328.3,184.1 328.9,180.6 329.5,187.3 330.1,188.5 330.7,194.8 331.3,191.8 331.9,195.3 332.5,194.0 333.1,200.3 333.7,202.0 334.3,208.6 334.9,207.4 335.5,209.8 336.1,205.4 336.7,201.3 337.3,194.6 337.9,195.6 338.5,185.2 339.1,182.8 339.7,175.7 340.3,175.4 340.9,173.0 341.5,179.2 342.1,179.4 342.7,184.8 343.3,181.6 343.9,186.3 344.5,182.3 345.1,184.1 345.7,184.7 346.3,190.4 346.9,193.2 347.5,198.6 348.1,195.6 348.7,198.0 349.3,197.1 349.9,205.4 350.5,201.5 351.1,210.7 351.7,207.7 352.3,210.3 352.9,200.8 353.5,197.1 354.1,186.4 354.7,189.2 355.3,183.5 355.9,182.1 356.5,175.9 357.1,179.9 357.7,179.7 358.3,183.3 358.9,182.8 359.5,184.7 360.1,181.3 360.7,187.2 361.3,178.1 361.9,182.7 362.5,179.9 363.1,182.4 363.7,179.6 364.3,180.0 364.9,173.0 365.5,180.0 366.1,177.9 366.7,184.0 367.3,191.2 367.9,202.8 368.5,212.7 369.1,220.3 369.7,217.9 370.3,223.6 370.9,220.1 371.5,221.4 372.1,218.3 372.7,219.7 373.3,214.0 373.9,215.1 374.5,203.6 375.1,203.6 375.7,197.6 376.3,194.8 376.9,190.2 377.5,194.3 378.1,186.4 378.7,192.5 379.3,187.0 379.9,193.3 380.5,185.8 381.1,190.4 381.7,184.9 382.3,184.2 382.9,184.1 383.5,191.7 384.1,191.4 384.7,199.2 385.3,191.6 385.9,198.2 386.5,194.0 387.1,199.6 387.7,190.2 388.3,188.2 388.9,183.1 389.5,185.1 390.1,182.6 390.7,187.6 391.3,184.5 391.9,186.2 392.5,181.2 393.1,178.6 393.7,170.0 394.3,173.5 394.9,168.0 395.5,173.5 396.1,173.5 396.7,180.6 397.3,176.6 397.9,183.9 398.5,180.7 399.1,190.7 399.7,190.6 400.3,195.8 400.9,188.7 401.5,194.8 402.1,188.1 402.7,194.3 403.3,190.0 403.9,195.5 404.5,195.2 405.1,199.8 405.7,197.7 406.3,200.7 406.9,194.8 407.5,194.1 408.1,190.0 408.7,192.8 409.3,186.7 409.9,184.6 410.5,177.7 411.1,181.9 411.6,182.7 412.2,185.1 412.8,182.1 413.4,182.9 414.0,178.0 414.6,183.7 415.2,182.4 415.8,189.1 416.4,188.4 417.0,194.1 417.6,189.2 418.2,189.1 418.8,188.8 419.4,197.0 420.0,193.2 420.6,199.1 421.2,197.3 421.8,197.6 422.4,192.2 423.0,192.8 423.6,190.3 424.2,190.8 424.8,187.6 425.4,188.5 426.0,184.6 426.6,185.9 427.2,182.3 427.8,185.6 428.4,179.3 429.0,187.1 429.6,183.7 430.2,184.9 430.8,180.4 431.4,181.8 432.0,182.5 432.6,191.3 433.2,185.1 433.8,191.3 434.4,185.8 435.0,191.3 435.6,193.6 436.2,198.7 436.8,195.0 437.4,198.3 438.0,195.1 438.6,197.8 439.2,196.7 439.8,203.6 440.4,202.3 441.0,204.7 441.6,200.1 442.2,203.3 442.8,198.2 443.4,198.4 444.0,189.2 444.6,195.4 445.2,185.8 445.8,188.8 446.4,181.4 447.0,182.5 447.6,179.0 448.2,182.6 448.8,175.6 449.4,181.1 450.0,175.7 450.6,179.3 451.2,180.5 451.8,186.8 452.4,183.4 453.0,184.2 453.6,181.1 454.2,184.6 454.8,185.3 455.4,188.2 456.0,180.3 456.6,184.5 457.2,180.1 457.8,179.5 458.4,175.8 459.0,182.5 459.6,177.6 460.2,182.3 460.8,176.3 461.4,180.3 462.0,180.7 462.6,186.5 463.2,187.0 463.8,190.4 464.4,187.9 465.0,189.9 465.6,187.5 466.2,190.0 466.8,190.5 467.4,196.5 468.0,195.8 468.6,205.3 469.2,197.9 469.8,197.9 470.4,193.6 471.0,197.1 471.6,195.6 472.2,200.4 472.8,197.8 473.4,196.0 474.0,189.0 474.6,189.9 475.2,184.3 475.8,186.1 476.4,182.8 477.0,180.7 477.6,177.2 478.2,188.3 478.8,189.5 479.4,198.7 480.0,197.8 480.6,201.8 481.2,196.5 481.8,197.7 482.4,194.7 483.0,198.3 483.6,197.1 484.2,198.9 484.8,192.8 485.4,192.3 486.0,188.6 486.6,194.0 487.2,189.5 487.8,190.6 488.4,187.7 489.0,189.2 489.6,180.7 490.2,182.9 490.8,174.6 491.4,178.6 492.0,180.4 492.6,187.8 493.2,190.2 493.8,196.0 494.4,190.0 495.0,188.4 495.6,182.5 496.2,191.2 496.8,187.1 497.4,192.3 498.0,189.0 498.6,190.1 499.2,188.7 499.8,194.6 500.4,190.7 501.0,191.5 501.6,184.5 502.2,183.4 502.8,179.4 503.4,182.0 504.0,180.1 504.6,179.8 505.2,170.5 505.8,177.3 506.4,175.3 507.0,183.9 507.6,185.8 508.2,186.7 508.8,183.0 509.4,189.9 510.0,185.5 510.6,193.9 511.2,188.1 511.8,188.3 512.4,181.6 513.0,185.2 513.6,179.2 514.2,182.2 514.8,177.1 515.4,181.5 516.0,178.3 516.6,183.9 517.2,186.2 517.8,196.1 518.4,192.9 519.0,193.1 519.6,186.6 520.2,185.7 520.8,179.9 521.4,185.4 522.0,182.9 522.6,187.1 523.2,183.1 523.8,185.6 524.4,181.7 525.0,182.9 525.6,183.0 526.2,189.0 526.8,188.9 527.4,190.9 528.0,184.6 528.6,193.0 529.2,185.9 529.8,189.8 530.4,189.4 531.0,193.4 531.6,197.3 532.2,216.7 532.8,217.1 533.4,221.2 534.0,220.9" fill="none" stroke="#000" stroke-width="1.2"/>
<polyline points="44.0,216.7 44.6,215.9 45.2,209.2 45.8,209.0 46.4,205.5 47.0,206.3 47.6,203.0 48.2,201.0 48.8,194.9 49.4,195.9 50.0,192.9 50.6,194.6 51.2,191.8 51.8,190.8 52.4,185.7 53.0,186.4 53.6,183.0 54.2,185.7 54.8,184.4 55.4,187.3 56.0,183.5 56.6,185.6 57.2,185.9 57.8,190.8 58.4,191.8 59.0,195.1 59.6,193.3 60.2,196.5 60.8,196.3 61.4,201.6 62.0,200.8 62.6,202.7 63.2,198.6 63.8,197.8 64.4,192.3 65.0,192.7 65.6,189.0 66.2,189.5 66.8,185.5 67.4,184.7 68.0,180.7 68.6,181.9 69.2,181.9 69.8,185.0 70.4,183.6 71.0,185.3 71.6,182.6 72.2,186.6 72.8,185.6 73.4,191.9 74.0,192.4 74.6,198.8 75.2,199.0 75.8,201.5 76.4,193.5 77.0,187.3 77.6,179.2 78.2,178.0 78.8,177.2 79.4,178.3 80.0,173.3 80.6,174.0 81.2,174.4 81.8,178.7 82.4,179.6 83.0,181.8 83.6,180.5 84.2,183.7 84.8,177.8 85.4,176.3 86.0,170.5 86.6,170.9 87.2,166.9 87.8,166.1 88.4,161.7 89.0,163.8 89.6,164.2 90.2,171.1 90.8,172.4 91.4,176.4 92.0,173.8 92.6,176.3 93.2,174.2 93.8,177.5 94.4,177.0 95.0,180.5 95.6,179.4 96.2,179.2 96.8,176.4 97.4,179.5 98.0,180.4 98.6,184.9 99.2,181.1 99.8,178.6 100.4,171.1 101.0,173.3 101.6,173.7 102.2,177.6 102.8,175.8 103.4,176.6 104.0,174.4 104.6,175.9 105.2,176.0 105.8,184.3 106.4,186.3 107.0,192.3 107.6,186.3 108.2,185.4 108.8,179.3 109.4,178.9 110.0,178.3 110.6,181.9 111.2,180.6 111.8,181.8 112.4,176.2 113.0,175.8 113.6,167.9 114.2,170.1 114.8,171.6 115.4,177.7 116.0,177.6 116.6,181.1 117.2,180.3 117.8,182.4 118.4,183.0 119.0,187.5 119.6,186.2 120.2,188.9 120.8,183.4 121.4,181.7 122.0,176.4 122.6,177.2 123.2,175.5 123.8,176.6 124.4,173.3 125.0,175.9 125.6,173.1 126.2,175.6 126.8,173.3 127.4,179.4 128.0,181.1 128.6,188.5 129.2,186.0 129.8,186.6 130.4,179.9 131.0,180.7 131.6,177.2 132.2,179.7 132.8,177.1 133.4,178.6 134.0,172.3 134.6,172.6 135.2,163.0 135.8,165.2 136.4,162.4 137.0,165.9 137.6,162.3 138.2,162.3 138.8,159.7 139.4,165.0 140.0,163.3 140.6,171.5 141.2,173.6 141.8,180.7 142.4,182.3 143.0,187.3 143.6,187.6 144.2,192.2 144.8,184.9 145.4,181.6 146.0,175.2 146.6,177.5 147.2,178.0 147.8,181.2 148.4,178.0 149.0,176.5 149.6,170.3 150.2,169.0 150.8,170.3 151.4,177.2 152.0,180.3 152.6,186.8 153.2,186.9 153.8,189.8 154.4,188.2 155.0,178.6 155.6,168.0 156.2,163.0 156.8,161.7 157.4,167.5 158.0,166.5 158.6,169.2 159.2,168.7 159.8,172.1 160.4,172.7 161.0,175.1 161.6,173.0 162.2,174.0 162.8,168.9 163.4,166.5 164.0,164.9 164.6,166.4 165.2,162.8 165.8,161.3 166.4,156.7 166.9,161.7 167.5,165.1 168.1,173.2 168.7,175.5 169.3,179.0 169.9,177.1 170.5,185.3 171.1,186.7 171.7,192.7 172.3,188.7 172.9,187.1 173.5,180.4 174.1,180.1 174.7,181.4 175.3,186.9 175.9,184.2 176.5,185.6 177.1,182.9 177.7,184.9 178.3,182.8 178.9,186.3 179.5,184.0 180.1,185.4 180.7,179.4 181.3,179.5 181.9,176.8 182.5,180.1 183.1,179.7 183.7,182.2 184.3,176.0 184.9,179.7 185.5,177.0 186.1,178.9 186.7,180.3 187.3,186.8 187.9,189.3 188.5,194.3 189.1,193.1 189.7,194.9 190.3,193.5 190.9,195.6 191.5,191.3 192.1,194.8 192.7,190.6 193.3,185.8 193.9,176.5 194.5,171.9 195.1,168.9 195.7,171.7 196.3,168.7 196.9,171.1 197.5,168.0 198.1,169.0 198.7,164.2 199.3,167.7 199.9,167.1 200.5,170.8 201.1,170.1 201.7,170.8 202.3,166.2 202.9,166.7 203.5,167.8 204.1,174.2 204.7,182.3 205.3,203.9 205.9,213.7 206.5,215.4 207.1,213.8 207.7,218.2 208.3,216.9 208.9,220.2 209.5,216.5 210.1,217.4 210.7,211.6 211.3,206.9 211.9,199.5 212.5,196.3 213.1,189.6 213.7,187.0 214.3,180.0 214.9,181.6 215.5,180.4 216.1,181.8 216.7,177.8 217.3,176.2 217.9,170.5 218.5,173.8 219.1,174.1 219.7,178.6 220.3,174.7 220.9,172.8 221.5,168.9 222.1,172.0 222.7,167.4 223.3,168.0 223.9,164.4 224.5,166.1 225.1,162.9 225.7,165.5 226.3,167.3 226.9,172.2 227.5,171.3 228.1,172.3 228.7,169.5 229.3,172.7 229.9,170.9 230.5,174.9 231.1,175.8 231.7,180.9 232.3,182.1 232.9,189.0 233.5,192.0 234.1,199.9 234.7,201.9 235.3,204.0 235.9,202.8 236.5,210.1 237.1,209.4 237.7,211.0 238.3,205.8 238.9,204.3 239.5,198.6 240.1,197.5 240.7,193.3 241.3,191.9 241.9,185.0 242.5,181.4 243.1,174.2 243.7,180.9 244.3,180.7 244.9,187.0 245.5,185.1 246.1,189.3 246.7,187.5 247.3,191.3 247.9,189.1 248.5,191.5 249.1,189.0 249.7,190.0 250.3,184.7 250.9,183.8 251.5,178.0 252.1,177.2 252.7,175.4 253.3,178.5 253.9,174.0 254.5,173.5 255.1,167.7 255.7,169.6 256.3,167.0 256.9,170.8 257.5,170.3 258.1,173.0 258.7,171.0 259.3,172.8 259.9,172.8 260.5,178.9 261.1,178.7 261.7,180.2 262.3,177.1 262.9,181.2 263.5,182.1 264.1,187.6 264.7,187.9 265.3,187.9 265.9,181.8 266.5,181.8 267.1,177.8 267.7,180.7 268.3,178.7 268.9,180.1 269.5,175.8 270.1,175.3 270.7,169.4 271.3,168.4 271.9,164.3 272.5,168.1 273.1,166.8 273.7,171.3 274.3,169.1 274.9,172.1 275.5,169.9 276.1,175.9 276.7,174.0 277.3,175.3 277.9,173.9 278.5,175.5 279.1,173.3 279.7,175.1 280.3,174.3 280.9,175.8 281.5,175.0 282.1,175.2 282.7,169.6 283.3,170.8 283.9,168.8 284.5,171.1 285.1,173.2 285.7,176.6 286.3,174.7 286.9,173.0 287.5,166.0 288.1,167.6 288.7,164.0 289.3,164.1 289.9,162.0 290.5,168.0 291.1,168.8 291.7,172.7 292.3,171.2 292.9,172.9 293.5,171.2 294.1,176.7 294.7,172.5 295.3,174.7 295.9,170.8 296.5,172.9 297.1,172.5 297.7,176.6 298.3,177.1 298.9,180.0 299.5,177.2 300.1,179.1 300.7,178.4 301.3,183.6 301.9,185.2 302.5,191.6 303.1,193.3 303.7,197.2 304.3,191.6 304.9,187.0 305.5,180.7 306.1,181.4 306.7,175.8 307.3,176.7 307.9,173.5 308.5,172.4 309.1,166.7 309.7,167.4 310.3,163.8 310.9,167.7 311.5,166.2 312.1,168.7 312.7,165.0 313.3,165.6 313.9,162.2 314.5,164.5 315.1,163.0 315.7,164.6 316.3,162.4 316.9,166.7 317.5,165.1 318.1,170.6 318.7,171.4 319.3,175.1 319.9,171.7 320.5,172.0 321.1,170.6 321.7,175.4 322.3,176.5 322.9,182.3 323.5,179.3 324.1,180.7 324.7,179.9 325.3,182.9 325.9,178.8 326.5,181.2 327.1,176.8 327.7,178.7 328.3,172.5 328.9,173.3 329.5,174.8 330.1,181.2 330.7,181.8 331.3,184.1 331.9,182.0 332.5,186.0 333.1,186.8 333.7,193.6 334.3,194.1 334.9,197.0 335.5,195.4 336.1,195.0 336.7,187.8 337.3,187.3 337.9,181.1 338.5,177.9 339.1,171.7 339.7,168.5 340.3,163.5 340.9,166.8 341.5,167.9 342.1,172.1 342.7,172.9 343.3,176.9 343.9,173.9 344.5,175.1 345.1,172.4 345.7,177.6 346.3,178.6 346.9,185.0 347.5,184.4 348.1,187.6 348.7,185.1 349.3,188.2 349.9,190.1 350.5,195.4 351.1,193.6 351.7,194.1 352.3,190.5 352.9,187.6 353.5,182.1 354.1,180.6 354.7,176.7 355.3,176.5 355.9,171.2 356.5,171.1 357.1,169.5 357.7,173.6 358.3,172.7 358.9,176.6 359.5,173.7 360.1,175.2 360.7,173.1 361.3,174.1 361.9,173.7 362.5,176.4 363.1,173.1 363.7,175.8 364.3,170.8 364.9,171.6 365.5,167.9 366.1,172.4 366.7,171.2 367.3,184.5 367.9,191.6 368.5,208.1 369.1,211.8 369.7,214.6 370.3,213.4 370.9,216.2 371.5,213.0 372.1,213.9 372.7,211.0 373.3,212.5 373.9,203.2 374.5,198.4 375.1,193.2 375.7,192.8 376.3,184.6 376.9,185.6 377.5,181.5 378.1,181.7 378.7,179.5 379.3,183.8 379.9,180.7 380.5,183.6 381.1,178.8 381.7,179.6 382.3,173.3 382.9,178.6 383.5,180.0 384.1,185.3 384.7,183.9 385.3,186.0 385.9,185.0 386.5,191.3 387.1,186.1 387.7,186.5 388.3,179.2 388.9,178.5 389.5,173.3 390.1,176.5 390.7,174.2 391.3,176.7 391.9,175.1 392.5,176.3 393.1,170.2 393.7,169.3 394.3,163.5 394.9,167.6 395.5,165.0 396.1,168.1 396.7,167.8 397.3,173.1 397.9,173.8 398.5,178.1 399.1,179.4 399.7,184.7 400.3,183.6 400.9,182.8 401.5,179.4 402.1,179.7 402.7,178.3 403.3,182.1 403.9,181.5 404.5,187.5 405.1,187.5 405.7,190.1 406.3,186.3 406.9,186.3 407.5,182.0 408.1,182.4 408.7,180.3 409.3,179.9 409.9,172.5 410.5,171.7 411.1,169.2 411.6,175.0 412.2,173.2 412.8,173.4 413.4,170.0 414.0,173.6 414.6,171.0 415.2,175.6 415.8,175.8 416.4,180.4 417.0,179.6 417.6,180.0 418.2,176.3 418.8,180.1 419.4,180.2 420.0,185.3 420.6,185.7 421.2,189.1 421.8,185.4 422.4,185.5 423.0,181.5 423.6,185.5 424.2,180.9 424.8,182.6 425.4,180.2 426.0,179.7 426.6,175.0 427.2,177.1 427.8,175.8 428.4,179.2 429.0,176.2 429.6,178.6 430.2,175.3 430.8,176.5 431.4,173.6 432.0,178.5 432.6,179.0 433.2,181.8 433.8,180.5 434.4,184.6 435.0,184.5 435.6,190.2 436.2,191.6 436.8,193.8 437.4,191.7 438.0,196.2 438.6,191.7 439.2,194.2 439.8,193.7 440.4,197.6 441.0,195.0 441.6,197.6 442.2,195.6 442.8,195.2 443.4,188.3 444.0,188.7 444.6,185.3 445.2,183.6 445.8,177.7 446.4,177.2 447.0,172.7 447.6,175.0 448.2,173.4 448.8,173.9 449.4,171.3 450.0,171.3 450.6,170.8 451.2,176.4 451.8,176.9 452.4,178.6 453.0,176.2 453.6,177.9 454.2,176.1 454.8,181.4 455.4,179.7 456.0,181.1 456.6,177.3 457.2,176.5 457.8,170.6 458.4,172.3 459.0,169.2 459.6,172.3 460.2,169.6 460.8,170.4 461.4,169.7 462.0,175.2 462.6,174.8 463.2,180.8 463.8,180.1 464.4,184.3 465.0,182.3 465.6,182.1 466.2,180.1 466.8,184.4 467.4,185.1 468.0,191.2 468.6,190.2 469.2,192.3 469.8,189.6 470.4,190.5 471.0,189.1 471.6,192.3 472.2,189.5 472.8,190.7 473.4,184.9 474.0,184.5 474.6,179.8 475.2,180.8 475.8,175.1 476.4,176.2 477.0,171.5 477.6,175.0 478.2,177.5 478.8,183.0 479.4,186.5 480.0,191.5 480.6,192.4 481.2,194.4 481.8,190.6 482.4,193.2 483.0,191.6 483.6,194.6 484.2,190.3 484.8,189.1 485.4,185.2 486.0,184.2 486.6,183.1 487.2,184.8 487.8,181.8 488.4,183.4 489.0,178.4 489.6,178.3 490.2,172.2 490.8,174.2 491.4,171.2 492.0,175.4 492.6,176.9 493.2,182.8 493.8,183.4 494.4,182.4 495.0,176.7 495.6,176.2 496.2,175.7 496.8,179.7 497.4,180.9 498.0,182.5 498.6,178.9 499.2,182.9 499.8,186.6 500.4,187.1 501.0,181.8 501.6,179.5 502.2,173.6 502.8,175.7 503.4,171.6 504.0,173.5 504.6,169.2 505.2,167.1 505.8,162.7 506.4,168.5 507.0,171.6 507.6,178.7 508.2,176.2 508.8,177.7 509.4,177.5 510.0,182.4 510.6,181.5 511.2,180.8 511.8,174.7 512.4,174.4 513.0,169.8 513.6,171.6 514.2,169.1 514.8,174.8 515.4,170.5 516.0,171.7 516.6,172.3 517.2,179.9 517.8,183.2 518.4,187.8 519.0,181.4 519.6,181.8 520.2,175.6 520.8,177.4 521.4,174.1 522.0,177.7 522.6,176.4 523.2,177.3 523.8,174.6 524.4,176.4 525.0,173.5 525.6,178.0 526.2,178.3 526.8,183.4 527.4,181.8 528.0,184.2 528.6,181.2 529.2,181.6 529.8,180.7 530.4,184.3 531.0,182.5 531.6,192.8 532.2,205.1 532.8,216.7 533.4,215.9 534.0,220.6" fill="none" stroke="#0f0" stroke-width="1.2"/>
<polyline points="44.0,209.3 44.6,209.8 45.2,201.4 45.8,204.5 46.4,199.5 47.0,201.3 47.6,196.6 48.2,196.5 48.8,187.8 49.4,190.0 50.0,186.5 50.6,189.9 51.2,185.5 51.8,187.2 52.4,180.4 53.0,180.7 53.6,176.3 54.2,179.6 54.8,178.1 55.4,182.3 56.0,177.8 56.6,179.4 57.2,179.7 57.8,186.6 58.4,185.5 59.0,190.8 59.6,186.2 60.2,190.8 60.8,188.9 61.4,196.7 62.0,194.5 62.6,198.5 63.2,191.9 63.8,193.5 64.4,186.8 65.0,189.3 65.6,182.4 66.2,185.5 66.8,178.0 67.4,179.2 68.0,173.1 68.6,177.2 69.2,174.8 69.8,181.4 70.4,176.5 71.0,179.1 71.6,175.7 72.2,178.7 72.8,179.7 73.4,187.7 74.0,187.5 74.6,197.1 75.2,192.9 75.8,196.7 76.4,187.2 77.0,181.3 77.6,172.5 78.2,172.9 78.8,170.0 79.4,173.9 80.0,165.1 80.6,168.2 81.2,166.4 81.8,173.7 82.4,171.2 83.0,176.6 83.6,173.3 84.2,177.6 84.8,169.0 85.4,170.9 86.0,163.3 86.6,165.2 87.2,156.7 87.8,161.5 88.4,154.8 89.0,158.6 89.6,157.5 90.2,166.0 90.8,165.5 91.4,172.1 92.0,167.5 92.6,171.6 93.2,167.2 93.8,170.2 94.4,171.1 95.0,176.8 95.6,172.4 96.2,175.6 96.8,170.1 97.4,178.2 98.0,173.1 98.6,180.7 99.2,173.8 99.8,173.6 100.4,166.0 101.0,168.5 101.6,165.8 102.2,172.0 102.8,168.4 103.4,173.0 104.0,168.0 104.6,170.9 105.2,168.8 105.8,179.9 106.4,179.4 107.0,186.6 107.6,179.1 108.2,179.9 108.8,173.3 109.4,172.9 110.0,170.3 110.6,178.6 111.2,174.2 111.8,177.3 112.4,167.0 113.0,169.6 113.6,161.2 114.2,163.8 114.8,165.3 115.4,172.7 116.0,171.9 116.6,175.2 117.2,169.5 117.8,176.0 118.4,176.1 119.0,182.8 119.6,180.5 120.2,182.8 120.8,176.6 121.4,176.5 122.0,170.2 122.6,174.5 123.2,167.3 123.8,172.8 124.4,167.0 125.0,170.6 125.6,165.4 126.2,168.4 126.8,165.8 127.4,174.3 128.0,173.7 128.6,183.8 129.2,179.2 129.8,181.1 130.4,173.8 131.0,178.8 131.6,170.7 132.2,174.4 132.8,168.9 133.4,173.4 134.0,165.6 134.6,168.0 135.2,161.2 135.8,165.6 136.4,161.1 137.0,164.8 137.6,159.3 138.2,164.3 138.8,159.1 139.4,168.0 140.0,162.5 140.6,172.4 141.2,172.3 141.8,180.3 142.4,181.3 143.0,188.0 143.6,188.8 144.2,193.5 144.8,184.3 145.4,181.6 146.0,174.1 146.6,179.5 147.2,176.9 147.8,186.4 148.4,179.5 149.0,178.5 149.6,169.9 150.2,171.0 150.8,169.5 151.4,178.5 152.0,179.8 152.6,192.3 153.2,187.7 153.8,193.1 154.4,188.2 155.0,181.3 155.6,166.8 156.2,165.2 156.8,158.4 157.4,170.8 158.0,166.7 158.6,172.1 159.2,168.2 159.8,173.6 160.4,172.7 161.0,176.6 161.6,174.5 162.2,176.4 162.8,168.6 163.4,167.5 164.0,164.4 164.6,168.2 165.2,162.2 165.8,162.1 166.4,153.6 166.9,162.6 167.5,164.2 168.1,173.5 168.7,174.0 169.3,180.9 169.9,177.4 170.5,185.0 171.1,185.5 171.7,193.4 172.3,187.0 172.9,187.3 173.5,178.4 174.1,179.6 174.7,178.2 175.3,186.8 175.9,181.1 176.5,183.2 177.1,178.0 177.7,182.3 178.3,177.9 178.9,184.5 179.5,180.7 180.1,181.9 180.7,174.2 181.3,175.1 181.9,171.8 182.5,176.3 183.1,175.5 183.7,178.8 184.3,172.8 184.9,174.1 185.5,170.3 186.1,174.8 186.7,174.0 187.3,181.7 187.9,183.8 188.5,189.9 189.1,183.0 189.7,194.6 190.3,186.0 190.9,191.1 191.5,185.7 192.1,189.5 192.7,181.5 193.3,182.4 193.9,170.8 194.5,167.9 195.1,162.3 195.7,166.4 196.3,162.5 196.9,166.7 197.5,162.6 198.1,165.9 198.7,157.7 199.3,163.9 199.9,161.6 200.5,168.2 201.1,166.3 201.7,168.2 202.3,161.1 202.9,162.0 203.5,162.9 204.1,172.0 204.7,179.2 205.3,200.8 205.9,208.1 206.5,210.9 207.1,208.2 207.7,213.9 208.3,212.2 208.9,217.4 209.5,211.9 210.1,213.7 210.7,206.2 211.3,203.7 211.9,193.9 212.5,193.9 213.1,184.4 213.7,183.0 214.3,173.4 214.9,179.6 215.5,177.2 216.1,180.1 216.7,173.8 217.3,175.3 217.9,166.7 218.5,171.7 219.1,170.7 219.7,177.3 220.3,170.3 220.9,169.6 221.5,162.7 222.1,166.1 222.7,162.2 223.3,164.9 223.9,160.8 224.5,161.8 225.1,157.8 225.7,163.0 226.3,162.6 226.9,168.2 227.5,167.1 228.1,170.1 228.7,164.6 229.3,169.5 229.9,166.8 230.5,172.4 231.1,168.8 231.7,180.9 232.3,177.8 232.9,186.0 233.5,187.6 234.1,197.0 234.7,198.0 235.3,202.2 235.9,197.9 236.5,205.8 237.1,205.5 237.7,208.8 238.3,199.6 238.9,200.5 239.5,193.2 240.1,194.9 240.7,188.6 241.3,190.5 241.9,179.8 242.5,178.7 243.1,170.2 243.7,177.3 244.3,178.0 244.9,185.3 245.5,184.6 246.1,186.9 246.7,185.0 247.3,189.7 247.9,186.4 248.5,191.4 249.1,187.0 249.7,190.1 250.3,183.0 250.9,186.1 251.5,176.2 252.1,175.9 252.7,172.4 253.3,177.8 253.9,173.7 254.5,173.7 255.1,166.5 255.7,170.4 256.3,166.6 256.9,173.0 257.5,170.4 258.1,173.9 258.7,169.1 259.3,173.5 259.9,172.0 260.5,180.7 261.1,178.0 261.7,181.0 262.3,172.0 262.9,181.4 263.5,180.9 264.1,188.0 264.7,187.7 265.3,187.7 265.9,180.7 266.5,180.7 267.1,175.9 267.7,180.3 268.3,173.3 268.9,181.2 269.5,175.4 270.1,173.7 270.7,166.3 271.3,166.9 271.9,163.0 272.5,167.3 273.1,165.1 273.7,173.4 274.3,168.4 274.9,172.4 275.5,166.7 276.1,174.1 276.7,171.1 277.3,176.6 277.9,172.6 278.5,176.4 279.1,171.8 279.7,173.7 280.3,171.4 280.9,175.0 281.5,172.3 282.1,177.8 282.7,169.3 283.3,168.9 283.9,165.6 284.5,172.3 285.1,170.1 285.7,178.0 286.3,174.0 286.9,171.5 287.5,164.3 288.1,166.8 288.7,161.0 289.3,164.5 289.9,161.9 290.5,168.0 291.1,165.4 291.7,172.7 292.3,168.9 292.9,172.6 293.5,169.2 294.1,176.7 294.7,172.3 295.3,176.9 295.9,167.5 296.5,172.5 297.1,171.4 297.7,177.9 298.3,177.0 298.9,179.6 299.5,172.6 300.1,178.9 300.7,176.5 301.3,183.7 301.9,185.0 302.5,193.3 303.1,192.6 303.7,197.7 304.3,190.4 304.9,188.0 305.5,176.3 306.1,181.6 306.7,175.4 307.3,178.0 307.9,172.4 308.5,172.9 309.1,162.1 309.7,170.5 310.3,164.2 310.9,168.7 311.5,166.3 312.1,171.8 312.7,163.7 313.3,167.0 313.9,160.4 314.5,167.4 315.1,163.4 315.7,166.2 316.3,161.2 316.9,167.3 317.5,163.3 318.1,172.8 318.7,171.3 319.3,176.1 319.9,172.2 320.5,175.6 321.1,167.3 321.7,176.5 322.3,177.0 322.9,183.2 323.5,179.5 324.1,180.8 324.7,180.0 325.3,181.6 325.9,179.6 326.5,186.3 327.1,178.3 327.7,178.1 328.3,171.2 328.9,173.4 329.5,174.1 330.1,183.4 330.7,182.7 331.3,187.0 331.9,182.2 332.5,187.2 333.1,184.4 333.7,196.1 334.3,196.1 334.9,200.5 335.5,195.6 336.1,199.1 336.7,187.7 337.3,189.2 337.9,182.6 338.5,182.4 339.1,173.1 339.7,171.0 340.3,164.6 340.9,169.7 341.5,167.8 342.1,176.8 342.7,174.9 343.3,181.0 343.9,174.9 344.5,177.1 345.1,173.2 345.7,180.8 346.3,180.2 346.9,188.6 347.5,187.0 348.1,190.4 348.7,186.8 349.3,190.5 349.9,190.1 350.5,197.7 351.1,194.8 351.7,197.5 352.3,190.2 352.9,188.3 353.5,183.1 354.1,182.4 354.7,177.9 355.3,180.1 355.9,172.7 356.5,173.1 357.1,169.7 357.7,175.5 358.3,172.9 358.9,178.8 359.5,172.0 360.1,175.9 360.7,171.7 361.3,176.3 361.9,172.3 362.5,178.1 363.1,174.4 363.7,176.4 364.3,171.2 364.9,172.6 365.5,166.7 366.1,173.6 366.7,171.6 367.3,185.9 367.9,191.7 368.5,207.9 369.1,211.3 369.7,216.0 370.3,212.2 370.9,216.5 371.5,212.6 372.1,217.7 372.7,209.6 373.3,211.0 373.9,202.7 374.5,198.2 375.1,193.1 375.7,194.3 376.3,184.7 376.9,186.8 377.5,180.0 378.1,182.5 378.7,179.5 379.3,182.4 379.9,180.2 380.5,183.4 381.1,178.0 381.7,178.5 382.3,173.4 382.9,178.4 383.5,178.0 384.1,186.2 384.7,182.6 385.3,187.0 385.9,182.2 386.5,187.9 387.1,184.6 387.7,186.1 388.3,176.5 388.9,176.8 389.5,171.9 390.1,174.4 390.7,171.5 391.3,176.8 391.9,173.9 392.5,180.0 393.1,167.0 393.7,166.9 394.3,159.4 394.9,164.3 395.5,162.6 396.1,168.3 396.7,166.6 397.3,172.2 397.9,169.6 398.5,177.8 399.1,177.1 399.7,185.5 400.3,179.4 400.9,187.6 401.5,177.8 402.1,179.8 402.7,176.6 403.3,183.7 403.9,182.7 404.5,189.3 405.1,186.0 405.7,195.5 406.3,187.7 406.9,188.1 407.5,180.6 408.1,185.6 408.7,182.3 409.3,182.3 409.9,172.9 410.5,173.9 411.1,172.0 411.6,176.8 412.2,174.1 412.8,176.0 413.4,171.8 414.0,174.6 414.6,171.5 415.2,179.1 415.8,177.9 416.4,183.6 417.0,182.0 417.6,182.5 418.2,176.6 418.8,183.2 419.4,181.8 420.0,188.1 420.6,187.5 421.2,191.2 421.8,185.2 422.4,187.2 423.0,180.5 423.6,186.7 424.2,181.4 424.8,185.0 425.4,180.1 426.0,182.3 426.6,176.5 427.2,179.8 427.8,176.7 428.4,181.3 429.0,177.2 429.6,179.6 430.2,175.2 430.8,176.3 431.4,172.6 432.0,179.4 432.6,176.9 433.2,181.9 433.8,177.8 434.4,183.8 435.0,181.3 435.6,189.5 436.2,185.7 436.8,194.2 437.4,187.4 438.0,194.2 438.6,188.7 439.2,194.6 439.8,190.8 440.4,198.4 441.0,193.4 441.6,196.5 442.2,194.1 442.8,193.8 443.4,186.5 444.0,188.6 444.6,183.1 445.2,183.4 445.8,176.1 446.4,173.8 447.0,170.5 447.6,176.4 448.2,170.1 448.8,173.4 449.4,168.8 450.0,170.9 450.6,168.3 451.2,176.4 451.8,171.9 452.4,178.0 453.0,173.4 453.6,174.6 454.2,174.2 454.8,180.2 455.4,178.2 456.0,181.1 456.6,173.3 457.2,175.1 457.8,165.5 458.4,170.6 459.0,166.3 459.6,171.3 460.2,168.7 460.8,170.5 461.4,166.9 462.0,173.8 462.6,172.9 463.2,180.1 463.8,178.2 464.4,183.2 465.0,178.2 465.6,181.4 466.2,176.5 466.8,183.8 467.4,183.3 468.0,190.2 468.6,187.7 469.2,192.3 469.8,185.0 470.4,188.3 471.0,184.8 471.6,192.1 472.2,186.9 472.8,189.1 473.4,180.5 474.0,184.1 474.6,176.0 475.2,176.9 475.8,172.7 476.4,174.4 477.0,168.5 477.6,173.0 478.2,172.4 478.8,181.0 479.4,181.5 480.0,190.5 480.6,185.8 481.2,193.5 481.8,186.8 482.4,191.3 483.0,188.7 483.6,193.8 484.2,188.1 484.8,188.4 485.4,181.1 486.0,183.3 486.6,180.5 487.2,182.9 487.8,176.3 488.4,181.4 489.0,176.1 489.6,176.7 490.2,171.7 490.8,174.3 491.4,169.0 492.0,174.4 492.6,173.1 493.2,184.7 493.8,181.9 494.4,183.8 495.0,175.3 495.6,177.0 496.2,174.2 496.8,181.9 497.4,180.4 498.0,184.0 498.6,178.4 499.2,184.7 499.8,181.4 500.4,185.6 501.0,180.1 501.6,180.4 502.2,172.4 502.8,173.8 503.4,167.2 504.0,174.9 504.6,168.2 505.2,168.7 505.8,161.7 506.4,168.9 507.0,172.3 507.6,179.9 508.2,174.9 508.8,178.0 509.4,175.4 510.0,184.9 510.6,183.1 511.2,182.2 511.8,175.2 512.4,176.3 513.0,169.1 513.6,173.0 514.2,168.2 514.8,175.5 515.4,168.6 516.0,173.3 516.6,170.9 517.2,180.1 517.8,183.2 518.4,188.6 519.0,181.5 519.6,181.3 520.2,173.6 520.8,176.9 521.4,172.8 522.0,176.6 522.6,176.4 523.2,179.8 523.8,172.2 524.4,175.1 525.0,172.0 525.6,177.5 526.2,175.5 526.8,184.4 527.4,178.7 528.0,183.0 528.6,175.8 529.2,180.9 529.8,177.4 530.4,184.1 531.0,180.8 531.6,192.2 532.2,201.0 532.8,215.6 533.4,209.7 534.0,219.9" fill="none" stroke="#f00" stroke-width="1.1"/>
<polygon points="44.0,357.0 44.6,351.4 45.2,345.5 45.8,342.1 46.4,340.7 47.0,338.2 47.6,335.1 48.2,330.1 48.8,326.7 49.4,323.7 50.0,320.9 50.6,322.0 51.2,323.0 51.8,321.9 52.4,318.4 53.0,313.8 53.6,310.1 54.2,308.9 54.8,310.4 55.4,313.3 56.0,312.7 56.6,312.0 57.2,312.2 57.8,314.4 58.4,317.0 59.0,319.9 59.6,320.9 60.2,320.2 60.8,319.7 61.4,323.3 62.0,326.8 62.6,330.3 63.2,329.1 63.8,327.8 64.4,326.6 65.0,322.3 65.6,316.6 66.2,316.6 66.8,316.9 67.4,315.2 68.0,313.0 68.6,310.5 69.2,310.7 69.8,311.8 70.4,313.2 71.0,314.9 71.6,313.6 72.2,314.4 72.8,316.0 73.4,317.6 74.0,320.7 74.6,323.2 75.2,326.0 75.8,327.0 76.4,322.9 77.0,317.6 77.6,312.6 78.2,310.4 78.8,311.2 79.4,312.1 80.0,311.5 80.6,310.0 81.2,308.4 81.8,309.4 82.4,312.0 83.0,313.4 83.6,312.1 84.2,310.4 84.8,307.1 85.4,303.5 86.0,302.6 86.6,301.8 87.2,301.1 87.8,296.7 88.4,293.0 89.0,293.0 89.6,296.4 90.2,300.0 90.8,303.1 91.4,306.0 92.0,305.1 92.6,303.4 93.2,301.1 93.8,300.5 94.4,302.6 95.0,303.7 95.6,304.9 96.2,303.5 96.8,303.0 97.4,302.9 98.0,303.2 98.6,305.8 99.2,307.9 99.8,307.0 100.4,306.1 101.0,305.5 101.6,305.5 102.2,307.7 102.8,309.6 103.4,311.2 104.0,309.6 104.6,308.1 105.2,310.1 105.8,313.9 106.4,317.3 107.0,319.3 107.6,315.5 108.2,311.7 108.8,308.0 109.4,304.7 110.0,304.1 110.6,305.1 111.2,306.5 111.8,304.5 112.4,302.0 113.0,299.3 113.6,297.6 114.2,298.1 114.8,301.5 115.4,303.7 116.0,304.1 116.6,304.4 117.2,304.8 117.8,306.7 118.4,309.2 119.0,311.3 119.6,312.1 120.2,308.7 120.8,305.2 121.4,302.0 122.0,301.7 122.6,301.4 123.2,301.5 123.8,301.6 124.4,298.2 125.0,297.8 125.6,298.1 126.2,299.7 126.8,303.3 127.4,306.9 128.0,310.5 128.6,311.8 129.2,310.4 129.8,308.8 130.4,307.3 131.0,307.9 131.6,309.1 132.2,310.3 132.8,309.4 133.4,306.8 134.0,303.9 134.6,301.0 135.2,300.4 135.8,300.9 136.4,301.3 137.0,301.3 137.6,299.5 138.2,296.6 138.8,294.1 139.4,298.7 140.0,304.7 140.6,310.5 141.2,315.1 141.8,315.2 142.4,315.4 143.0,315.7 143.6,315.8 144.2,316.0 144.8,316.0 145.4,314.5 146.0,312.1 146.6,309.8 147.2,311.7 147.8,312.6 148.4,314.0 149.0,314.7 149.6,311.5 150.2,307.6 150.8,304.4 151.4,304.8 152.0,309.4 152.6,313.9 153.2,318.1 153.8,317.7 154.4,317.0 155.0,317.2 155.6,316.7 156.2,313.1 156.8,309.3 157.4,302.5 158.0,300.5 158.6,299.3 159.2,301.3 159.8,304.7 160.4,308.2 161.0,310.3 161.6,309.3 162.2,305.5 162.8,304.0 163.4,305.2 164.0,306.1 164.6,303.7 165.2,300.0 165.8,296.7 166.4,296.4 166.9,298.6 167.5,301.3 168.1,305.1 168.7,308.6 169.3,310.4 169.9,311.8 170.5,312.4 171.1,314.1 171.7,316.4 172.3,315.7 172.9,314.8 173.5,312.3 174.1,308.8 174.7,307.8 175.3,309.8 175.9,313.2 176.5,316.7 177.1,319.9 177.7,318.7 178.3,315.9 178.9,313.1 179.5,313.8 180.1,314.6 180.7,316.4 181.3,318.4 181.9,318.3 182.5,316.5 183.1,313.6 183.7,311.0 184.3,310.9 184.9,312.3 185.5,314.2 186.1,314.8 186.7,314.5 187.3,314.3 187.9,315.0 188.5,316.9 189.1,320.6 189.7,323.8 190.3,326.8 190.9,326.8 191.5,324.2 192.1,321.3 192.7,317.6 193.3,312.6 193.9,309.1 194.5,305.3 195.1,301.7 195.7,299.0 196.3,296.7 196.9,299.1 197.5,302.6 198.1,303.3 198.7,301.1 199.3,299.2 199.9,300.8 200.5,302.6 201.1,304.8 201.7,303.6 202.3,302.4 202.9,301.7 203.5,304.7 204.1,310.0 204.7,322.2 205.3,342.3 205.9,354.4 206.5,351.9 207.1,350.9 207.7,351.7 208.3,352.6 208.9,353.2 209.5,351.9 210.1,350.7 210.7,346.0 211.3,335.9 211.9,326.6 212.5,318.6 213.1,316.8 213.7,315.0 214.3,311.7 214.9,309.0 215.5,305.8 216.1,302.3 216.7,300.8 217.3,300.1 217.9,299.2 218.5,297.9 219.1,298.0 219.7,297.5 220.3,299.1 220.9,301.0 221.5,303.3 222.1,305.1 222.7,302.9 223.3,299.0 223.9,297.0 224.5,296.6 225.1,299.2 225.7,301.7 226.3,301.9 226.9,301.2 227.5,299.9 228.1,300.8 228.7,301.3 229.3,301.5 229.9,300.6 230.5,298.0 231.1,299.6 231.7,302.0 232.3,307.2 232.9,313.1 233.5,318.7 234.1,323.8 234.7,325.3 235.3,325.1 235.9,325.0 236.5,327.3 237.1,329.4 237.7,329.2 238.3,328.1 238.9,324.7 239.5,320.3 240.1,317.5 240.7,316.4 241.3,315.1 241.9,312.1 242.5,307.1 243.1,302.0 243.7,303.6 244.3,307.2 244.9,311.1 245.5,313.9 246.1,314.3 246.7,314.8 247.3,315.0 247.9,315.2 248.5,315.2 249.1,315.0 249.7,314.6 250.3,311.7 250.9,309.5 251.5,308.0 252.1,309.9 252.7,311.9 253.3,310.7 253.9,306.9 254.5,303.1 255.1,300.1 255.7,300.7 256.3,301.3 256.9,303.1 257.5,305.1 258.1,307.2 258.7,309.0 259.3,310.7 259.9,313.1 260.5,315.3 261.1,316.1 261.7,314.8 262.3,313.4 262.9,313.1 263.5,315.0 264.1,317.1 264.7,319.3 265.3,318.1 265.9,313.7 266.5,309.4 267.1,306.5 267.7,308.0 268.3,309.2 268.9,309.9 269.5,306.3 270.1,302.7 270.7,299.6 271.3,300.0 271.9,300.5 272.5,303.0 273.1,302.3 273.7,300.6 274.3,299.9 274.9,302.8 275.5,305.3 276.1,307.7 276.7,306.6 277.3,304.9 277.9,303.1 278.5,302.1 279.1,303.1 279.7,305.1 280.3,306.6 280.9,306.3 281.5,303.9 282.1,301.7 282.7,299.8 283.3,298.7 283.9,299.2 284.5,300.2 285.1,301.9 285.7,303.4 286.3,303.2 286.9,301.8 287.5,300.3 288.1,298.5 288.7,296.1 289.3,290.8 289.9,294.4 290.5,299.2 291.1,301.8 291.7,302.8 292.3,300.8 292.9,299.6 293.5,300.4 294.1,302.6 294.7,304.5 295.3,304.9 295.9,302.5 296.5,300.4 297.1,300.6 297.7,302.9 298.3,305.3 298.9,307.0 299.5,306.4 300.1,306.6 300.7,307.2 301.3,309.8 301.9,312.3 302.5,314.1 303.1,314.3 303.7,314.9 304.3,313.9 304.9,313.5 305.5,313.3 306.1,312.8 306.7,310.3 307.3,307.5 307.9,305.0 308.5,303.7 309.1,304.4 309.7,305.0 310.3,305.4 310.9,303.4 311.5,300.8 312.1,299.0 312.7,299.7 313.3,300.2 313.9,300.2 314.5,298.0 315.1,297.5 315.7,297.6 316.3,300.1 316.9,302.2 317.5,303.9 318.1,304.9 318.7,302.5 319.3,300.7 319.9,301.8 320.5,304.2 321.1,304.8 321.7,302.3 322.3,300.0 322.9,298.8 323.5,300.3 324.1,302.7 324.7,305.0 325.3,306.7 325.9,307.2 326.5,308.4 327.1,307.4 327.7,307.8 328.3,308.6 328.9,310.4 329.5,311.3 330.1,311.6 330.7,312.2 331.3,315.0 331.9,317.6 332.5,320.1 333.1,322.2 333.7,320.8 334.3,318.7 334.9,316.8 335.5,319.9 336.1,321.7 336.7,318.2 337.3,312.6 337.9,307.3 338.5,304.9 339.1,303.8 339.7,302.0 340.3,300.1 340.9,299.1 341.5,298.3 342.1,300.2 342.7,303.3 343.3,306.6 343.9,309.1 344.5,307.5 345.1,304.8 345.7,302.2 346.3,300.6 346.9,306.4 347.5,312.0 348.1,315.2 348.7,315.8 349.3,316.2 349.9,317.7 350.5,320.4 351.1,321.4 351.7,322.5 352.3,322.5 352.9,318.8 353.5,314.4 354.1,309.9 354.7,307.2 355.3,306.1 355.9,304.8 356.5,303.2 357.1,302.3 357.7,299.9 358.3,297.6 358.9,297.5 359.5,298.6 360.1,300.0 360.7,301.3 361.3,301.3 361.9,301.2 362.5,300.8 363.1,300.7 363.7,303.0 364.3,305.7 364.9,305.9 365.5,303.6 366.1,301.3 366.7,299.2 367.3,315.4 367.9,332.3 368.5,347.6 369.1,355.1 369.7,355.1 370.3,355.0 370.9,356.0 371.5,357.4 372.1,358.2 372.7,359.0 373.3,358.5 373.9,338.7 374.5,321.3 375.1,313.0 375.7,311.8 376.3,312.5 376.9,311.3 377.5,309.0 378.1,307.4 378.7,308.1 379.3,308.7 379.9,308.2 380.5,304.4 381.1,300.4 381.7,298.5 382.3,299.6 382.9,303.9 383.5,307.6 384.1,309.4 384.7,308.2 385.3,306.8 385.9,303.9 386.5,301.9 387.1,301.9 387.7,302.2 388.3,303.5 388.9,301.8 389.5,300.2 390.1,299.0 390.7,299.1 391.3,299.3 391.9,299.9 392.5,298.7 393.1,296.9 393.7,294.7 394.3,295.9 394.9,297.6 395.5,299.2 396.1,300.4 396.7,302.4 397.3,304.8 397.9,307.7 398.5,309.8 399.1,311.8 399.7,313.6 400.3,312.3 400.9,308.8 401.5,305.5 402.1,302.9 402.7,305.4 403.3,308.4 403.9,311.4 404.5,313.4 405.1,312.7 405.7,311.9 406.3,312.1 406.9,310.9 407.5,309.8 408.1,308.1 408.7,306.2 409.3,304.3 409.9,302.2 410.5,300.5 411.1,300.4 411.6,300.1 412.2,300.2 412.8,301.1 413.4,302.3 414.0,303.9 414.6,305.3 415.2,307.5 415.8,310.4 416.4,312.2 417.0,311.4 417.6,310.4 418.2,310.0 418.8,312.0 419.4,314.0 420.0,316.2 420.6,317.6 421.2,317.2 421.8,316.7 422.4,316.0 423.0,314.6 423.6,313.8 424.2,313.1 424.8,312.1 425.4,309.0 426.0,306.2 426.6,303.9 427.2,305.4 427.8,307.9 428.4,310.0 429.0,311.9 429.6,312.5 430.2,311.7 430.8,311.0 431.4,309.6 432.0,310.2 432.6,311.1 433.2,311.8 433.8,311.6 434.4,311.6 435.0,311.9 435.6,312.1 436.2,314.2 436.8,316.7 437.4,319.4 438.0,321.6 438.6,319.3 439.2,316.6 439.8,314.8 440.4,315.8 441.0,316.2 441.6,316.4 442.2,314.8 442.8,310.9 443.4,306.9 444.0,303.2 444.6,303.8 445.2,305.4 445.8,306.3 446.4,306.7 447.0,305.5 447.6,304.7 448.2,304.4 448.8,305.7 449.4,307.0 450.0,307.2 450.6,305.6 451.2,304.3 451.8,302.7 452.4,303.2 453.0,303.6 453.6,304.1 454.2,304.6 454.8,303.1 455.4,302.0 456.0,300.6 456.6,300.2 457.2,301.0 457.8,302.2 458.4,303.7 459.0,302.5 459.6,299.6 460.2,296.7 460.8,295.1 461.4,296.7 462.0,298.2 462.6,298.7 463.2,298.6 463.8,299.2 464.4,299.8 465.0,303.1 465.6,306.9 466.2,309.7 466.8,309.1 467.4,307.9 468.0,306.4 468.6,305.4 469.2,307.0 469.8,309.1 470.4,311.5 471.0,313.8 471.6,311.7 472.2,309.2 472.8,306.5 473.4,304.5 474.0,304.9 474.6,305.5 475.2,304.9 475.8,300.9 476.4,297.5 477.0,296.7 477.6,301.4 478.2,307.4 478.8,310.3 479.4,311.4 480.0,311.4 480.6,311.0 481.2,311.1 481.8,312.9 482.4,314.8 483.0,312.9 483.6,309.7 484.2,306.5 484.8,306.4 485.4,308.8 486.0,311.2 486.6,313.3 487.2,311.1 487.8,308.0 488.4,305.2 489.0,304.9 489.6,304.9 490.2,305.0 490.8,303.8 491.4,303.3 492.0,302.2 492.6,301.3 493.2,303.1 493.8,305.4 494.4,307.7 495.0,308.6 495.6,307.3 496.2,306.5 496.8,308.1 497.4,308.5 498.0,308.8 498.6,308.9 499.2,306.8 499.8,304.4 500.4,302.0 501.0,301.7 501.6,301.6 502.2,299.8 502.8,296.0 503.4,295.7 504.0,297.5 504.6,299.9 505.2,303.7 505.8,307.1 506.4,309.4 507.0,308.0 507.6,305.4 508.2,302.9 508.8,301.4 509.4,304.2 510.0,306.9 510.6,308.1 511.2,305.2 511.8,301.8 512.4,298.3 513.0,298.6 513.6,301.4 514.2,303.4 514.8,303.3 515.4,303.6 516.0,303.7 516.6,305.5 517.2,307.1 517.8,307.2 518.4,307.3 519.0,306.0 519.6,303.2 520.2,300.6 520.8,298.0 521.4,297.4 522.0,298.6 522.6,300.0 523.2,298.1 523.8,297.4 524.4,296.6 525.0,296.6 525.6,299.2 526.2,301.7 526.8,304.4 527.4,306.5 528.0,306.0 528.6,305.7 529.2,307.1 529.8,308.1 530.4,308.8 531.0,308.8 531.6,309.8 532.2,325.0 532.8,342.3 533.4,350.0 534.0,353.4 534.0,359.8 533.4,356.4 532.8,349.6 532.2,335.0 531.6,323.1 531.0,323.6 530.4,321.8 529.8,318.9 529.2,315.9 528.6,315.1 528.0,316.1 527.4,317.2 526.8,315.7 526.2,313.8 525.6,312.0 525.0,310.0 524.4,309.9 523.8,310.7 523.2,311.4 522.6,313.3 522.0,311.9 521.4,310.8 520.8,311.4 520.2,313.9 519.6,316.6 519.0,319.3 518.4,319.0 517.8,317.4 517.2,315.7 516.6,314.1 516.0,313.1 515.4,313.8 514.8,314.2 514.2,314.3 513.6,312.3 513.0,309.5 512.4,309.2 511.8,312.6 511.2,316.1 510.6,318.9 510.0,317.8 509.4,315.1 508.8,312.3 508.2,313.1 507.6,314.8 507.0,316.7 506.4,318.0 505.8,316.5 505.2,313.9 504.6,310.9 504.0,310.4 503.4,310.6 502.8,311.6 502.2,313.1 501.6,312.6 501.0,312.1 500.4,311.8 499.8,313.7 499.2,315.5 498.6,317.2 498.0,317.1 497.4,316.8 496.8,316.4 496.2,315.4 495.6,317.1 495.0,319.1 494.4,318.7 493.8,316.4 493.2,314.1 492.6,312.3 492.0,313.2 491.4,314.3 490.8,314.8 490.2,315.9 489.6,315.8 489.0,315.7 488.4,316.0 487.8,318.8 487.2,321.9 486.6,324.1 486.0,322.0 485.4,319.6 484.8,317.2 484.2,317.3 483.6,320.4 483.0,323.7 482.4,325.5 481.8,323.6 481.2,321.8 480.6,321.6 480.0,322.8 479.4,324.3 478.8,324.7 478.2,322.9 477.6,315.6 477.0,310.0 476.4,310.7 475.8,314.1 475.2,318.1 474.6,318.0 474.0,316.6 473.4,315.5 472.8,317.1 472.2,319.8 471.6,322.4 471.0,324.5 470.4,322.2 469.8,319.8 469.2,317.8 468.6,316.2 468.0,317.1 467.4,318.6 466.8,319.8 466.2,320.5 465.6,317.8 465.0,314.0 464.4,310.7 463.8,310.1 463.2,309.5 462.6,309.6 462.0,309.2 461.4,307.7 460.8,306.1 460.2,306.9 459.6,309.1 459.0,311.1 458.4,312.6 457.8,312.7 457.2,313.2 456.6,313.6 456.0,313.4 455.4,314.0 454.8,314.4 454.2,315.6 453.6,315.1 453.0,314.6 452.4,314.0 451.8,312.8 451.2,313.6 450.6,314.2 450.0,316.2 449.4,316.8 448.8,316.1 448.2,315.2 447.6,315.6 447.0,316.4 446.4,317.7 445.8,317.3 445.2,316.3 444.6,314.8 444.0,314.1 443.4,317.9 442.8,321.9 442.2,325.9 441.6,327.5 441.0,327.2 440.4,326.9 439.8,325.3 439.2,326.3 438.6,328.4 438.0,330.2 437.4,328.0 436.8,325.3 436.2,322.8 435.6,320.7 435.0,320.5 434.4,320.2 433.8,320.2 433.2,320.3 432.6,319.7 432.0,318.7 431.4,318.2 430.8,319.5 430.2,320.8 429.6,322.4 429.0,322.6 428.4,321.1 427.8,319.0 427.2,316.4 426.6,314.9 426.0,317.1 425.4,319.9 424.8,323.0 424.2,324.1 423.6,324.8 423.0,325.6 422.4,327.0 421.8,327.7 421.2,328.2 420.6,328.5 420.0,327.1 419.4,324.9 418.8,322.9 418.2,320.9 417.6,321.3 417.0,322.3 416.4,323.2 415.8,321.3 415.2,318.3 414.6,316.1 414.0,314.7 413.4,313.1 412.8,312.0 412.2,311.0 411.6,311.0 411.1,311.2 410.5,311.4 409.9,313.0 409.3,315.2 408.7,317.0 408.1,318.8 407.5,320.6 406.9,321.6 406.3,322.9 405.7,322.7 405.1,323.5 404.5,324.2 403.9,322.4 403.3,320.2 402.7,317.9 402.1,316.2 401.5,318.9 400.9,322.1 400.3,325.6 399.7,326.3 399.1,322.9 398.5,319.3 397.9,315.7 397.3,313.7 396.7,312.0 396.1,310.7 395.5,309.9 394.9,308.2 394.3,306.5 393.7,305.4 393.1,309.2 392.5,312.6 391.9,315.3 391.3,314.0 390.7,312.3 390.1,310.6 389.5,310.8 388.9,313.3 388.3,315.8 387.7,315.3 387.1,315.4 386.5,315.7 385.9,318.1 385.3,321.1 384.7,322.0 384.1,322.9 383.5,320.8 382.9,317.1 382.3,312.9 381.7,311.9 381.1,313.3 380.5,316.5 379.9,319.6 379.3,319.3 378.7,318.2 378.1,316.9 377.5,317.9 376.9,320.1 376.3,321.3 375.7,320.6 375.1,322.7 374.5,333.3 373.9,348.1 373.3,363.0 372.7,363.5 372.1,362.9 371.5,362.2 370.9,361.0 370.3,360.1 369.7,360.3 369.1,360.5 368.5,355.0 367.9,343.4 367.3,329.6 366.7,316.2 366.1,317.1 365.5,318.3 364.9,319.3 364.3,318.8 363.7,316.2 363.1,313.9 362.5,313.9 361.9,313.5 361.3,312.8 360.7,312.0 360.1,310.6 359.5,309.3 358.9,308.2 358.3,308.3 357.7,310.6 357.1,313.0 356.5,313.8 355.9,315.5 355.3,316.8 354.7,317.9 354.1,321.4 353.5,327.5 352.9,333.5 352.3,338.2 351.7,336.8 351.1,334.1 350.5,331.6 349.9,328.5 349.3,327.1 348.7,326.7 348.1,326.1 347.5,322.9 346.9,317.3 346.3,311.6 345.7,312.5 345.1,314.3 344.5,316.3 343.9,317.4 343.3,315.0 342.7,311.8 342.1,308.8 341.5,307.6 340.9,309.1 340.3,310.8 339.7,312.6 339.1,313.6 338.5,313.9 337.9,315.9 337.3,322.7 336.7,329.8 336.1,334.9 335.5,332.9 334.9,329.0 334.3,330.1 333.7,331.7 333.1,333.1 332.5,331.0 331.9,328.5 331.3,325.9 330.7,323.1 330.1,322.5 329.5,322.3 328.9,321.3 328.3,319.5 327.7,318.8 327.1,318.4 326.5,319.4 325.9,318.2 325.3,317.7 324.7,316.1 324.1,313.8 323.5,311.4 322.9,309.9 322.3,310.3 321.7,311.2 321.1,312.2 320.5,310.1 319.9,309.3 319.3,309.9 318.7,313.3 318.1,315.6 317.5,314.0 316.9,311.5 316.3,309.0 315.7,307.2 315.1,307.9 314.5,309.2 313.9,310.8 313.3,310.1 312.7,308.9 312.1,307.7 311.5,309.5 310.9,312.0 310.3,313.9 309.7,313.6 309.1,313.0 308.5,312.3 307.9,313.6 307.3,316.1 306.7,318.8 306.1,321.4 305.5,323.1 304.9,324.3 304.3,325.7 303.7,327.1 303.1,326.1 302.5,325.5 301.9,323.3 301.3,320.8 300.7,318.1 300.1,317.4 299.5,317.2 298.9,317.8 298.3,316.1 297.7,313.8 297.1,311.4 296.5,311.2 295.9,313.3 295.3,315.6 294.7,315.2 294.1,313.3 293.5,311.1 292.9,310.3 292.3,311.4 291.7,313.4 291.1,314.5 290.5,315.0 289.9,313.2 289.3,311.2 288.7,310.0 288.1,309.1 287.5,310.9 286.9,312.5 286.3,313.9 285.7,314.1 285.1,312.7 284.5,311.0 283.9,309.6 283.3,308.3 282.7,308.6 282.1,310.0 281.5,313.0 280.9,316.2 280.3,317.4 279.7,316.0 279.1,314.1 278.5,313.0 277.9,314.0 277.3,315.8 276.7,317.5 276.1,318.6 275.5,316.2 274.9,313.7 274.3,310.8 273.7,311.9 273.1,314.4 272.5,315.9 271.9,314.0 271.3,312.4 270.7,311.0 270.1,313.1 269.5,315.6 268.9,318.2 268.3,318.3 267.7,317.9 267.1,317.2 266.5,320.5 265.9,324.9 265.3,329.2 264.7,330.4 264.1,327.4 263.5,324.5 262.9,321.9 262.3,322.0 261.7,323.4 261.1,324.6 260.5,323.8 259.9,321.6 259.3,319.2 258.7,317.6 258.1,316.4 257.5,315.1 256.9,313.9 256.3,312.5 255.7,311.8 255.1,311.2 254.5,314.1 253.9,317.5 253.3,320.8 252.7,321.5 252.1,319.0 251.5,316.7 250.9,318.7 250.3,321.7 249.7,325.3 249.1,325.7 248.5,325.2 247.9,324.4 247.3,323.4 246.7,324.0 246.1,324.3 245.5,324.7 244.9,322.1 244.3,318.2 243.7,314.5 243.1,312.8 242.5,318.0 241.9,322.9 241.3,325.9 240.7,327.5 240.1,329.0 239.5,332.2 238.9,336.8 238.3,339.4 237.7,339.8 237.1,339.2 236.5,337.1 235.9,335.1 235.3,335.5 234.7,336.0 234.1,335.2 233.5,330.9 232.9,326.1 232.3,320.6 231.7,315.5 231.1,313.1 230.5,311.4 229.9,312.5 229.3,311.8 228.7,310.1 228.1,309.5 227.5,309.5 226.9,311.6 226.3,312.9 225.7,312.7 225.1,310.3 224.5,307.7 223.9,307.4 223.3,308.7 222.7,311.8 222.1,313.7 221.5,311.8 220.9,309.5 220.3,307.5 219.7,306.8 219.1,308.1 218.5,308.8 217.9,310.4 217.3,311.2 216.7,312.0 216.1,313.2 215.5,316.1 214.9,318.7 214.3,320.8 213.7,324.2 213.1,326.6 212.5,328.9 211.9,336.5 211.3,344.8 210.7,353.1 210.1,357.0 209.5,358.1 208.9,359.3 208.3,358.5 207.7,357.5 207.1,356.6 206.5,357.4 205.9,359.8 205.3,350.0 204.7,331.3 204.1,319.3 203.5,314.8 202.9,312.6 202.3,313.0 201.7,313.8 201.1,314.6 200.5,311.9 199.9,309.6 199.3,308.2 198.7,310.6 198.1,313.2 197.5,313.1 196.9,310.1 196.3,307.9 195.7,310.1 195.1,312.8 194.5,316.2 193.9,319.3 193.3,322.0 192.7,326.2 192.1,330.3 191.5,333.8 190.9,337.1 190.3,337.7 189.7,334.7 189.1,331.5 188.5,327.8 187.9,325.8 187.3,325.2 186.7,325.3 186.1,325.7 185.5,325.1 184.9,323.2 184.3,321.8 183.7,321.9 183.1,324.4 182.5,327.3 181.9,329.1 181.3,329.2 180.7,327.2 180.1,325.4 179.5,324.6 178.9,323.8 178.3,326.6 177.7,329.4 177.1,330.6 176.5,327.6 175.9,324.3 175.3,321.2 174.7,319.5 174.1,320.7 173.5,324.5 172.9,327.4 172.3,328.6 171.7,329.6 171.1,327.4 170.5,325.7 169.9,325.1 169.3,323.3 168.7,320.7 168.1,316.4 167.5,311.9 166.9,309.2 166.4,307.0 165.8,307.4 165.2,310.6 164.6,314.3 164.0,316.7 163.4,315.9 162.8,315.6 162.2,317.8 161.6,322.4 161.0,323.5 160.4,321.4 159.8,317.9 159.2,314.1 158.6,311.4 158.0,311.8 157.4,313.2 156.8,320.7 156.2,325.3 155.6,329.6 155.0,330.4 154.4,330.2 153.8,331.0 153.2,331.2 152.6,326.3 152.0,321.0 151.4,315.6 150.8,314.6 150.2,317.1 149.6,320.2 149.0,323.1 148.4,323.2 147.8,322.6 147.2,322.5 146.6,320.7 146.0,323.0 145.4,325.4 144.8,327.2 144.2,328.0 143.6,328.6 143.0,329.2 142.4,328.2 141.8,327.3 141.2,326.5 140.6,321.3 140.0,315.2 139.4,308.8 138.8,303.9 138.2,306.0 137.6,308.5 137.0,309.9 136.4,309.8 135.8,309.5 135.2,309.0 134.6,309.6 134.0,312.4 133.4,315.3 132.8,317.9 132.2,318.7 131.6,317.5 131.0,316.3 130.4,316.1 129.8,318.3 129.2,320.6 128.6,322.7 128.0,321.3 127.4,317.7 126.8,314.1 126.2,310.9 125.6,310.0 125.0,310.4 124.4,311.4 123.8,315.3 123.2,315.7 122.6,316.1 122.0,316.9 121.4,317.7 120.8,320.8 120.2,324.4 119.6,327.7 119.0,326.2 118.4,323.1 117.8,319.5 117.2,316.6 116.6,315.2 116.0,314.7 115.4,314.7 114.8,313.0 114.2,310.0 113.6,309.3 113.0,310.7 112.4,313.2 111.8,315.4 111.2,317.2 110.6,315.4 110.0,314.2 109.4,314.4 108.8,317.8 108.2,322.3 107.6,326.9 107.0,331.5 106.4,329.4 105.8,325.6 105.2,321.4 104.6,318.9 104.0,319.7 103.4,320.7 102.8,318.4 102.2,316.3 101.6,314.1 101.0,314.2 100.4,315.1 99.8,316.7 99.2,318.4 98.6,317.1 98.0,313.9 97.4,312.8 96.8,312.1 96.2,311.9 95.6,313.0 95.0,311.4 94.4,310.0 93.8,308.3 93.2,309.3 92.6,311.9 92.0,313.8 91.4,314.7 90.8,311.9 90.2,309.0 89.6,306.2 89.0,303.5 88.4,304.3 87.8,307.4 87.2,311.0 86.6,311.0 86.0,311.5 85.4,313.2 84.8,317.6 84.2,321.7 83.6,322.1 83.0,321.8 82.4,318.7 81.8,315.5 81.2,314.9 80.6,316.8 80.0,318.7 79.4,320.6 78.8,321.0 78.2,321.4 77.6,324.4 77.0,330.2 76.4,336.3 75.8,340.5 75.2,337.6 74.6,332.9 74.0,328.3 73.4,324.9 72.8,323.4 72.2,321.7 71.6,321.1 71.0,322.6 70.4,321.1 69.8,320.1 69.2,319.2 68.6,319.2 68.0,321.7 67.4,323.9 66.8,325.5 66.2,325.2 65.6,326.0 65.0,336.0 64.4,342.5 63.8,342.1 63.2,341.9 62.6,341.5 62.0,337.6 61.4,333.8 60.8,329.8 60.2,329.9 59.6,330.2 59.0,328.8 58.4,325.6 57.8,322.3 57.2,319.6 56.6,318.8 56.0,320.5 55.4,322.7 54.8,321.3 54.2,320.5 53.6,320.8 53.0,323.6 52.4,327.4 51.8,330.4 51.2,331.2 50.6,329.9 50.0,329.2 49.4,332.8 48.8,336.7 48.2,341.0 47.6,346.0 47.0,349.1 46.4,351.6 45.8,352.2 45.2,354.4 44.6,359.1 44.0,363.8" fill="#a6a6a6"/>
<polyline points="44.0,356.3 44.6,352.9 45.2,344.4 45.8,343.6 46.4,339.7 47.0,340.0 47.6,334.2 48.2,332.3 48.8,322.4 49.4,324.9 50.0,320.2 50.6,323.1 51.2,321.7 51.8,323.1 52.4,317.9 53.0,315.5 53.6,308.7 54.2,314.0 54.8,309.1 55.4,314.1 56.0,311.7 56.6,316.5 57.2,310.8 57.8,315.3 58.4,315.5 59.0,321.2 59.6,319.8 60.2,321.0 60.8,318.8 61.4,324.4 62.0,325.3 62.6,331.6 63.2,328.2 63.8,329.5 64.4,324.5 65.0,323.4 65.6,316.0 66.2,317.7 66.8,313.4 67.4,316.5 68.0,311.7 68.6,311.2 69.2,309.2 69.8,312.9 70.4,311.6 71.0,319.6 71.6,312.0 72.2,316.0 72.8,314.8 73.4,318.8 74.0,319.8 74.6,326.4 75.2,325.1 75.8,328.2 76.4,321.2 77.0,321.3 77.6,312.0 78.2,311.5 78.8,309.7 79.4,313.0 80.0,310.0 80.6,310.7 81.2,307.7 81.8,310.3 82.4,309.2 83.0,315.0 83.6,311.4 84.2,312.0 84.8,305.7 85.4,304.0 86.0,301.7 86.6,305.2 87.2,298.9 87.8,297.8 88.4,291.6 89.0,294.4 89.6,295.4 90.2,301.5 90.8,302.2 91.4,306.8 92.0,302.4 92.6,304.0 93.2,299.4 93.8,301.2 94.4,301.4 95.0,304.7 95.6,301.7 96.2,304.1 96.8,298.5 97.4,304.0 98.0,302.2 98.6,306.5 99.2,306.4 99.8,308.9 100.4,304.8 101.0,306.6 101.6,304.4 102.2,308.5 102.8,308.5 103.4,312.3 104.0,309.0 104.6,309.6 105.2,305.2 105.8,315.7 106.4,315.8 107.0,321.1 107.6,314.1 108.2,312.5 108.8,307.0 109.4,306.0 110.0,303.0 110.6,306.7 111.2,304.8 111.8,307.4 112.4,301.0 113.0,302.1 113.6,296.7 114.2,299.3 114.8,300.6 115.4,304.3 116.0,303.3 116.6,305.6 117.2,303.8 117.8,308.0 118.4,307.6 119.0,315.2 119.6,310.8 120.2,309.9 120.8,303.8 121.4,303.1 122.0,301.0 122.6,303.2 123.2,300.4 123.8,303.1 124.4,296.5 125.0,298.6 125.6,297.2 126.2,300.5 126.8,299.4 127.4,307.7 128.0,308.1 128.6,312.5 129.2,309.1 129.8,309.6 130.4,306.5 131.0,309.3 131.6,307.4 132.2,311.4 132.8,308.9 133.4,308.0 134.0,303.4 134.6,302.1 135.2,295.4 135.8,301.7 136.4,300.8 137.0,302.3 137.6,296.0 138.2,300.8 138.8,292.3 139.4,300.5 140.0,304.0 140.6,315.4 141.2,314.2 141.8,316.2 142.4,314.1 143.0,317.3 143.6,312.4 144.2,317.4 144.8,314.4 145.4,316.8 146.0,309.9 146.6,310.5 147.2,311.1 147.8,313.3 148.4,313.0 149.0,315.5 149.6,310.1 150.2,311.2 150.8,302.8 151.4,306.0 152.0,307.3 152.6,317.1 153.2,316.3 153.8,319.1 154.4,315.3 155.0,321.7 155.6,315.8 156.2,315.7 156.8,307.9 157.4,305.8 158.0,299.2 158.6,300.9 159.2,300.3 159.8,309.5 160.4,306.4 161.0,311.0 161.6,305.4 162.2,310.2 162.8,303.3 163.4,306.6 164.0,304.7 164.6,305.2 165.2,299.3 165.8,297.4 166.4,294.7 166.9,299.2 167.5,300.3 168.1,308.1 168.7,306.8 169.3,311.6 169.9,310.0 170.5,315.7 171.1,309.5 171.7,317.0 172.3,311.2 172.9,316.4 173.5,311.2 174.1,310.5 174.7,307.0 175.3,310.5 175.9,309.1 176.5,317.3 177.1,319.0 177.7,320.5 178.3,314.5 178.9,314.6 179.5,312.8 180.1,315.7 180.7,314.7 181.3,319.9 181.9,317.4 182.5,317.6 183.1,312.6 183.7,312.8 184.3,309.6 184.9,315.9 185.5,311.7 186.1,315.6 186.7,313.3 187.3,315.1 187.9,313.6 188.5,318.0 189.1,319.4 189.7,325.8 190.3,322.3 190.9,328.4 191.5,322.9 192.1,325.3 192.7,316.8 193.3,314.6 193.9,307.5 194.5,306.3 195.1,300.7 195.7,300.1 196.3,291.8 196.9,300.8 197.5,301.4 198.1,304.3 198.7,300.6 199.3,300.4 199.9,299.2 200.5,307.4 201.1,304.0 201.7,304.9 202.3,301.5 202.9,302.8 203.5,303.0 204.1,310.8 204.7,320.5 205.3,342.9 205.9,353.8 206.5,352.9 207.1,349.4 207.7,353.2 208.3,351.0 208.9,354.7 209.5,350.8 210.1,353.8 210.7,344.8 211.3,337.0 211.9,325.0 212.5,319.4 213.1,316.0 213.7,316.5 214.3,310.9 214.9,313.1 215.5,304.9 216.1,303.7 216.7,299.2 217.3,301.5 217.9,294.9 218.5,301.6 219.1,293.0 219.7,299.0 220.3,297.5 220.9,302.5 221.5,302.5 222.1,306.2 222.7,301.7 223.3,300.5 223.9,295.8 224.5,298.2 225.1,298.2 225.7,304.9 226.3,301.3 226.9,302.8 227.5,298.2 228.1,301.6 228.7,299.6 229.3,302.8 229.9,299.8 230.5,301.0 231.1,297.9 231.7,304.5 232.3,305.6 232.9,314.3 233.5,317.1 234.1,324.5 234.7,323.6 235.3,327.9 235.9,323.4 236.5,330.3 237.1,326.7 237.7,329.8 238.3,327.1 238.9,326.3 239.5,319.0 240.1,318.7 240.7,315.5 241.3,315.9 241.9,310.5 242.5,307.7 243.1,299.9 243.7,305.0 244.3,305.4 244.9,311.6 245.5,313.2 246.1,315.9 246.7,313.7 247.3,316.6 247.9,313.8 248.5,316.3 249.1,313.2 249.7,315.7 250.3,310.4 250.9,310.6 251.5,307.3 252.1,311.3 252.7,310.9 253.3,311.2 253.9,305.8 254.5,306.0 255.1,298.1 255.7,303.8 256.3,300.8 256.9,304.1 257.5,304.3 258.1,307.9 258.7,307.1 259.3,311.8 259.9,311.6 260.5,316.9 261.1,315.5 261.7,318.3 262.3,312.8 262.9,313.8 263.5,313.3 264.1,317.9 264.7,318.4 265.3,319.7 265.9,313.2 266.5,310.7 267.1,305.8 267.7,309.1 268.3,307.0 268.9,311.1 269.5,304.9 270.1,303.7 270.7,298.5 271.3,305.0 271.9,299.0 272.5,307.8 273.1,301.2 273.7,301.2 274.3,298.9 274.9,303.5 275.5,304.7 276.1,312.4 276.7,305.5 277.3,305.8 277.9,302.1 278.5,302.8 279.1,302.4 279.7,306.4 280.3,302.9 280.9,306.9 281.5,303.3 282.1,303.2 282.7,298.7 283.3,299.7 283.9,298.6 284.5,301.7 285.1,300.8 285.7,304.3 286.3,301.7 286.9,302.9 287.5,298.7 288.1,300.3 288.7,293.5 289.3,293.6 289.9,293.8 290.5,300.3 291.1,301.1 291.7,304.1 292.3,299.7 292.9,300.4 293.5,297.8 294.1,304.6 294.7,303.2 295.3,305.4 295.9,301.8 296.5,301.0 297.1,298.9 297.7,304.6 298.3,304.0 298.9,307.9 299.5,305.2 300.1,307.5 300.7,306.3 301.3,311.0 301.9,310.6 302.5,315.2 303.1,312.6 303.7,318.3 304.3,313.3 304.9,315.2 305.5,310.0 306.1,314.4 306.7,308.5 307.3,308.2 307.9,303.6 308.5,304.9 309.1,303.8 309.7,306.3 310.3,303.9 310.9,304.3 311.5,299.8 312.1,300.2 312.7,299.1 313.3,301.8 313.9,299.5 314.5,299.0 315.1,296.2 315.7,298.9 316.3,298.5 316.9,303.0 317.5,300.1 318.1,306.8 318.7,301.1 319.3,304.2 319.9,300.1 320.5,305.8 321.1,303.3 321.7,303.2 322.3,298.6 322.9,301.5 323.5,298.7 324.1,304.3 324.7,300.1 325.3,307.5 325.9,306.4 326.5,309.8 327.1,306.3 327.7,309.6 328.3,305.8 328.9,311.6 329.5,309.9 330.1,314.7 330.7,307.5 331.3,317.8 331.9,316.6 332.5,321.8 333.1,321.2 333.7,322.6 334.3,314.2 334.9,317.4 335.5,318.2 336.1,323.8 336.7,317.6 337.3,314.0 337.9,306.1 338.5,306.7 339.1,302.5 339.7,303.0 340.3,297.1 340.9,300.4 341.5,297.2 342.1,301.4 342.7,301.6 343.3,307.9 343.9,305.7 344.5,309.1 345.1,303.6 345.7,303.3 346.3,300.0 346.9,308.1 347.5,311.3 348.1,316.2 348.7,315.2 349.3,317.5 349.9,317.0 350.5,321.7 351.1,319.7 351.7,324.4 352.3,321.4 352.9,323.5 353.5,313.8 354.1,310.8 354.7,306.3 355.3,307.7 355.9,301.4 356.5,304.8 357.1,300.7 357.7,301.4 358.3,295.2 358.9,299.1 359.5,296.5 360.1,303.4 360.7,299.6 361.3,303.0 361.9,299.7 362.5,301.4 363.1,299.5 363.7,304.8 364.3,304.0 364.9,306.4 365.5,302.9 366.1,302.2 366.7,298.0 367.3,317.0 367.9,328.1 368.5,349.0 369.1,351.6 369.7,356.8 370.3,353.8 370.9,357.0 371.5,356.2 372.1,359.0 372.7,357.8 373.3,360.3 373.9,338.1 374.5,323.0 375.1,312.2 375.7,312.9 376.3,311.7 376.9,311.8 377.5,308.3 378.1,308.6 378.7,307.2 379.3,310.4 379.9,307.0 380.5,306.2 381.1,299.3 381.7,299.3 382.3,298.1 382.9,305.2 383.5,306.2 384.1,310.6 384.7,306.6 385.3,307.6 385.9,302.3 386.5,303.1 387.1,300.4 387.7,303.7 388.3,302.0 388.9,303.6 389.5,298.7 390.1,300.4 390.7,295.5 391.3,300.2 391.9,295.8 392.5,300.4 393.1,296.3 393.7,295.9 394.3,292.7 394.9,299.1 395.5,298.3 396.1,301.2 396.7,297.9 397.3,306.4 397.9,305.3 398.5,311.6 399.1,311.1 399.7,315.0 400.3,311.6 400.9,309.4 401.5,304.8 402.1,303.6 402.7,302.8 403.3,309.4 403.9,310.5 404.5,316.1 405.1,311.0 405.7,313.5 406.3,311.3 406.9,311.4 407.5,308.2 408.1,308.8 408.7,304.5 409.3,306.0 409.9,299.6 410.5,301.6 411.1,297.1 411.6,301.7 412.2,299.6 412.8,304.1 413.4,301.6 414.0,308.1 414.6,303.6 415.2,308.9 415.8,308.9 416.4,313.1 417.0,309.8 417.6,311.3 418.2,309.0 418.8,314.6 419.4,312.5 420.0,317.7 420.6,316.3 421.2,318.4 421.8,314.9 422.4,316.9 423.0,313.1 423.6,314.7 424.2,312.0 424.8,313.1 425.4,308.2 426.0,306.9 426.6,302.6 427.2,306.8 427.8,307.4 428.4,311.1 429.0,308.2 429.6,313.7 430.2,310.7 430.8,311.7 431.4,307.5 432.0,311.9 432.6,310.4 433.2,313.4 433.8,310.9 434.4,313.9 435.0,309.1 435.6,313.0 436.2,313.5 436.8,317.3 437.4,318.6 438.0,322.8 438.6,318.8 439.2,317.5 439.8,313.7 440.4,317.1 441.0,315.3 441.6,318.7 442.2,314.1 442.8,312.1 443.4,305.7 444.0,304.8 444.6,302.4 445.2,307.0 445.8,305.6 446.4,307.7 447.0,303.3 447.6,305.8 448.2,303.6 448.8,307.1 449.4,305.3 450.0,309.6 450.6,303.9 451.2,305.6 451.8,302.1 452.4,304.4 453.0,302.2 453.6,304.7 454.2,303.8 454.8,307.6 455.4,300.3 456.0,301.9 456.6,299.0 457.2,302.7 457.8,298.4 458.4,305.1 459.0,300.7 459.6,300.4 460.2,295.6 460.8,296.0 461.4,295.1 462.0,298.8 462.6,297.4 463.2,300.2 463.8,298.4 464.4,302.3 465.0,300.6 465.6,308.1 466.2,309.0 466.8,312.2 467.4,306.6 468.0,306.9 468.6,301.2 469.2,307.6 469.8,307.4 470.4,312.7 471.0,309.2 471.6,314.1 472.2,305.2 472.8,307.2 473.4,303.4 474.0,309.5 474.6,304.0 475.2,306.5 475.8,299.7 476.4,299.2 477.0,292.2 477.6,302.3 478.2,305.8 478.8,311.7 479.4,309.7 480.0,312.7 480.6,310.0 481.2,312.4 481.8,311.4 482.4,316.3 483.0,311.6 483.6,310.7 484.2,302.9 484.8,308.6 485.4,307.1 486.0,312.3 486.6,312.3 487.2,315.8 487.8,306.4 488.4,307.7 489.0,301.0 489.6,306.2 490.2,303.6 490.8,304.6 491.4,301.9 492.0,303.5 492.6,300.4 493.2,304.9 493.8,303.7 494.4,309.4 495.0,306.9 495.6,308.7 496.2,304.8 496.8,309.0 497.4,307.4 498.0,310.3 498.6,307.5 499.2,310.0 499.8,303.8 500.4,303.1 501.0,300.8 501.6,303.0 502.2,298.4 502.8,297.3 503.4,294.1 504.0,298.8 504.6,298.8 505.2,304.4 505.8,305.0 506.4,311.4 507.0,307.0 507.6,306.8 508.2,300.0 508.8,303.0 509.4,303.0 510.0,308.5 510.6,303.5 511.2,307.5 511.8,300.2 512.4,303.3 513.0,294.7 513.6,302.2 514.2,301.8 514.8,304.5 515.4,302.6 516.0,305.1 516.6,303.1 517.2,308.3 517.8,306.2 518.4,308.5 519.0,301.4 519.6,306.6 520.2,299.8 520.8,299.8 521.4,296.4 522.0,300.0 522.6,295.0 523.2,299.3 523.8,296.6 524.4,298.0 525.0,291.8 525.6,300.6 526.2,300.0 526.8,305.5 527.4,305.9 528.0,306.6 528.6,304.9 529.2,308.5 529.8,307.6 530.4,309.5 531.0,307.7 531.6,312.5 532.2,323.5 532.8,343.4 533.4,349.2 534.0,355.2" fill="none" stroke="#000" stroke-width="1.15"/>
<polyline points="44.0,364.9 44.6,358.1 45.2,356.8 45.8,351.5 46.4,353.2 47.0,346.8 47.6,347.6 48.2,336.4 48.8,337.8 49.4,332.2 50.0,330.7 50.6,328.4 51.2,332.1 51.8,328.6 52.4,328.8 53.0,322.2 53.6,322.1 54.2,319.6 54.8,321.9 55.4,321.7 56.0,322.2 56.6,314.8 57.2,322.4 57.8,320.5 58.4,327.1 59.0,326.6 59.6,330.7 60.2,328.6 60.8,330.6 61.4,332.6 62.0,338.3 62.6,339.4 63.2,342.6 63.8,340.9 64.4,343.2 65.0,334.6 65.6,327.3 66.2,323.8 66.8,327.0 67.4,322.8 68.0,325.9 68.6,316.1 69.2,319.8 69.8,317.9 70.4,323.1 71.0,321.5 71.6,321.9 72.2,319.9 72.8,324.6 73.4,324.3 74.0,330.0 74.6,330.6 75.2,339.8 75.8,339.6 76.4,337.8 77.0,328.5 77.6,325.8 78.2,318.9 78.8,322.0 79.4,319.9 80.0,319.8 80.6,316.0 81.2,316.7 81.8,314.2 82.4,319.7 83.0,320.6 83.6,322.7 84.2,320.2 84.8,319.3 85.4,311.6 86.0,312.6 86.6,309.5 87.2,312.0 87.8,306.7 88.4,308.3 89.0,302.0 89.6,307.7 90.2,307.5 90.8,312.7 91.4,313.8 92.0,315.3 92.6,311.1 93.2,310.9 93.8,307.5 94.4,313.3 95.0,310.1 95.6,314.6 96.2,310.7 96.8,312.6 97.4,310.0 98.0,314.9 98.6,316.0 99.2,319.4 99.8,312.7 100.4,316.8 101.0,311.3 101.6,314.8 102.2,315.1 102.8,319.0 103.4,318.8 104.0,320.3 104.6,318.0 105.2,326.0 105.8,324.8 106.4,330.9 107.0,326.5 107.6,328.4 108.2,320.6 108.8,318.9 109.4,312.9 110.0,315.3 110.6,314.2 111.2,318.3 111.8,314.2 112.4,314.2 113.0,309.4 113.6,310.8 114.2,308.3 114.8,314.8 115.4,313.8 116.0,315.6 116.6,314.4 117.2,321.4 117.8,318.7 118.4,327.3 119.0,323.7 119.6,330.1 120.2,322.6 120.8,322.3 121.4,316.1 122.0,320.2 122.6,314.7 123.2,316.4 123.8,313.3 124.4,312.3 125.0,309.2 125.6,311.2 126.2,307.6 126.8,315.1 127.4,317.0 128.0,322.3 128.6,318.8 129.2,321.7 129.8,315.8 130.4,319.4 131.0,314.7 131.6,318.6 132.2,317.2 132.8,319.1 133.4,313.9 134.0,313.8 134.6,308.8 135.2,311.1 135.8,308.7 136.4,310.7 137.0,309.2 137.6,310.1 138.2,305.1 138.8,307.9 139.4,307.1 140.0,316.0 140.6,316.3 141.2,328.2 141.8,325.5 142.4,331.5 143.0,328.4 143.6,329.9 144.2,326.3 144.8,327.8 145.4,320.7 146.0,324.1 146.6,319.3 147.2,325.6 147.8,320.1 148.4,324.2 149.0,322.1 149.6,321.9 150.2,315.3 150.8,316.1 151.4,314.0 152.0,321.9 152.6,325.0 153.2,332.0 153.8,329.2 154.4,332.0 155.0,329.2 155.6,332.9 156.2,323.7 156.8,321.2 157.4,311.6 158.0,313.8 158.6,309.7 159.2,314.9 159.8,314.9 160.4,322.7 161.0,322.1 161.6,323.6 162.2,316.3 162.8,316.5 163.4,314.5 164.0,318.2 164.6,311.7 165.2,311.7 165.8,305.8 166.4,308.5 166.9,307.9 167.5,312.5 168.1,315.6 168.7,321.5 169.3,321.8 169.9,326.2 170.5,324.8 171.1,331.1 171.7,325.8 172.3,330.4 172.9,326.6 173.5,325.7 174.1,319.5 174.7,320.8 175.3,319.7 175.9,327.1 176.5,326.6 177.1,333.3 177.7,327.7 178.3,328.4 178.9,322.2 179.5,329.2 180.1,324.3 180.7,327.8 181.3,328.6 181.9,329.6 182.5,326.8 183.1,325.8 183.7,320.2 184.3,323.2 184.9,322.6 185.5,326.9 186.1,324.6 186.7,327.1 187.3,323.8 187.9,330.5 188.5,327.0 189.1,332.4 189.7,333.7 190.3,338.5 190.9,336.4 191.5,335.6 192.1,329.4 192.7,327.8 193.3,321.3 193.9,320.0 194.5,315.2 195.1,314.0 195.7,309.1 196.3,308.7 196.9,308.8 197.5,314.5 198.1,311.7 198.7,311.9 199.3,307.3 199.9,310.7 200.5,311.2 201.1,315.2 201.7,312.9 202.3,314.7 202.9,311.2 203.5,318.0 204.1,315.1 204.7,333.1 205.3,348.3 205.9,362.8 206.5,356.2 207.1,357.2 207.7,356.3 208.3,359.5 208.9,358.3 209.5,359.0 210.1,355.3 210.7,353.7 211.3,343.1 211.9,340.5 212.5,327.5 213.1,327.5 213.7,322.9 214.3,321.4 214.9,318.1 215.5,316.8 216.1,309.5 216.7,313.0 217.3,309.0 217.9,315.0 218.5,307.2 219.1,309.7 219.7,303.4 220.3,308.6 220.9,308.5 221.5,313.4 222.1,312.9 222.7,312.5 223.3,307.4 223.9,308.7 224.5,305.3 225.1,312.0 225.7,311.6 226.3,313.8 226.9,310.8 227.5,310.8 228.1,306.5 228.7,310.8 229.3,311.0 229.9,314.0 230.5,309.1 231.1,313.8 231.7,310.8 232.3,321.4 232.9,325.5 233.5,332.5 234.1,334.7 234.7,338.3 235.3,334.9 235.9,336.4 236.5,335.4 237.1,340.3 237.7,339.2 238.3,340.8 238.9,335.6 239.5,333.0 240.1,328.0 240.7,328.6 241.3,324.8 241.9,323.6 242.5,317.1 243.1,314.0 243.7,313.6 244.3,319.5 244.9,320.9 245.5,328.5 246.1,323.5 246.7,328.4 247.3,322.2 247.9,327.3 248.5,324.5 249.1,327.1 249.7,324.0 250.3,322.3 250.9,315.1 251.5,318.3 252.1,314.6 252.7,322.3 253.3,319.3 253.9,318.9 254.5,312.7 255.1,312.4 255.7,310.5 256.3,314.0 256.9,313.2 257.5,318.5 258.1,312.9 258.7,319.1 259.3,318.1 259.9,323.3 260.5,323.2 261.1,325.7 261.7,322.8 262.3,323.1 262.9,319.6 263.5,325.2 264.1,326.3 264.7,331.2 265.3,327.6 265.9,326.5 266.5,317.5 267.1,319.3 267.7,317.2 268.3,319.4 268.9,317.1 269.5,316.2 270.1,312.5 270.7,313.4 271.3,311.6 271.9,315.5 272.5,314.8 273.1,315.6 273.7,311.0 274.3,313.9 274.9,312.7 275.5,317.1 276.1,317.3 276.7,318.4 277.3,314.2 277.9,317.2 278.5,312.4 279.1,315.4 279.7,313.4 280.3,318.8 280.9,315.6 281.5,314.4 282.1,309.0 282.7,309.4 283.3,307.3 283.9,311.1 284.5,309.5 285.1,314.0 285.7,313.5 286.3,315.3 286.9,310.7 287.5,312.6 288.1,308.3 288.7,311.6 289.3,310.1 289.9,315.0 290.5,311.4 291.1,316.0 291.7,311.0 292.3,312.7 292.9,309.1 293.5,312.0 294.1,311.9 294.7,317.0 295.3,314.2 295.9,314.0 296.5,310.4 297.1,311.9 297.7,312.7 298.3,317.7 298.9,317.0 299.5,318.2 300.1,312.7 300.7,319.1 301.3,319.7 301.9,325.0 302.5,320.5 303.1,327.8 303.7,322.0 304.3,326.8 304.9,321.5 305.5,324.0 306.1,320.1 306.7,319.9 307.3,314.3 307.9,314.2 308.5,309.8 309.1,314.5 309.7,312.6 310.3,314.6 310.9,311.2 311.5,310.7 312.1,306.1 312.7,309.9 313.3,308.6 313.9,311.7 314.5,307.6 315.1,309.1 315.7,303.1 316.3,309.7 316.9,310.5 317.5,314.9 318.1,314.9 318.7,315.0 319.3,308.5 319.9,313.7 320.5,308.3 321.1,313.3 321.7,310.1 322.3,311.5 322.9,308.3 323.5,312.1 324.1,312.4 324.7,316.6 325.3,316.8 325.9,319.1 326.5,318.2 327.1,320.1 327.7,317.8 328.3,320.7 328.9,320.1 329.5,323.6 330.1,321.1 330.7,324.1 331.3,325.0 331.9,331.6 332.5,330.0 333.1,334.2 333.7,328.2 334.3,334.9 334.9,327.2 335.5,333.6 336.1,333.9 336.7,331.3 337.3,321.7 337.9,316.7 338.5,311.8 339.1,315.4 339.7,310.9 340.3,313.2 340.9,308.2 341.5,312.2 342.1,308.0 342.7,313.4 343.3,313.8 343.9,318.4 344.5,313.2 345.1,316.5 345.7,311.7 346.3,315.1 346.9,316.8 347.5,325.3 348.1,324.3 348.7,328.5 349.3,326.1 349.9,332.9 350.5,330.5 351.1,334.9 351.7,335.8 352.3,339.4 352.9,332.5 353.5,328.6 354.1,320.7 354.7,321.9 355.3,316.0 355.9,317.0 356.5,312.2 357.1,314.6 357.7,309.1 358.3,310.0 358.9,306.7 359.5,310.0 360.1,309.8 360.7,312.7 361.3,311.0 361.9,314.2 362.5,313.0 363.1,315.0 363.7,315.5 364.3,321.6 364.9,317.6 365.5,319.9 366.1,314.3 366.7,316.8 367.3,327.8 367.9,344.4 368.5,353.4 369.1,362.0 369.7,358.7 370.3,360.7 370.9,359.6 371.5,363.6 372.1,361.8 372.7,364.1 373.3,361.2 373.9,351.7 374.5,332.2 375.1,326.0 375.7,318.3 376.3,321.9 376.9,318.4 377.5,321.5 378.1,311.9 378.7,319.1 379.3,318.7 379.9,320.2 380.5,315.4 381.1,314.0 381.7,311.1 382.3,314.6 382.9,316.5 383.5,321.9 384.1,321.9 384.7,325.6 385.3,320.5 385.9,319.1 386.5,314.7 387.1,316.3 387.7,314.8 388.3,316.7 388.9,312.3 389.5,311.4 390.1,309.9 390.7,313.0 391.3,313.1 391.9,318.8 392.5,311.4 393.1,309.9 393.7,303.9 394.3,307.3 394.9,307.1 395.5,310.6 396.1,309.3 396.7,313.6 397.3,312.2 397.9,316.9 398.5,317.6 399.1,324.7 399.7,325.1 400.3,326.9 400.9,317.6 401.5,320.1 402.1,315.0 402.7,319.7 403.3,318.3 403.9,323.2 404.5,323.4 405.1,326.0 405.7,321.2 406.3,323.9 406.9,319.9 407.5,325.0 408.1,317.8 408.7,321.5 409.3,314.0 409.9,316.3 410.5,309.6 411.1,312.5 411.6,309.7 412.2,312.5 412.8,310.3 413.4,315.6 414.0,310.2 414.6,317.0 415.2,316.8 415.8,322.1 416.4,322.4 417.0,323.2 417.6,320.4 418.2,321.8 418.8,321.3 419.4,326.1 420.0,325.9 420.6,330.4 421.2,326.7 421.8,328.7 422.4,324.3 423.0,328.4 423.6,323.4 424.2,325.4 424.8,318.8 425.4,322.2 426.0,316.0 426.6,315.5 427.2,315.4 427.8,323.8 428.4,319.9 429.0,323.2 429.6,321.6 430.2,322.5 430.8,316.7 431.4,319.6 432.0,317.0 432.6,321.3 433.2,318.9 433.8,320.8 434.4,319.2 435.0,321.5 435.6,319.5 436.2,324.3 436.8,323.6 437.4,328.7 438.0,329.2 438.6,329.4 439.2,325.7 439.8,326.9 440.4,326.2 441.0,328.5 441.6,325.9 442.2,327.3 442.8,320.7 443.4,319.3 444.0,312.5 444.6,319.0 445.2,315.6 445.8,318.8 446.4,316.6 447.0,317.7 447.6,312.3 448.2,316.3 448.8,314.5 449.4,317.8 450.0,315.2 450.6,315.1 451.2,310.2 451.8,313.7 452.4,313.2 453.0,315.7 453.6,312.8 454.2,316.3 454.8,310.6 455.4,315.2 456.0,312.1 456.6,314.4 457.2,312.4 457.8,313.9 458.4,310.9 459.0,312.0 459.6,307.6 460.2,307.4 460.8,305.4 461.4,308.5 462.0,307.5 462.6,310.7 463.2,308.5 463.8,311.5 464.4,310.1 465.0,316.4 465.6,316.1 466.2,321.3 466.8,319.0 467.4,320.3 468.0,315.9 468.6,316.8 469.2,315.0 469.8,320.8 470.4,317.6 471.0,325.4 471.6,321.7 472.2,322.1 472.8,315.7 473.4,317.2 474.0,315.0 474.6,319.2 475.2,317.4 475.8,315.6 476.4,309.5 477.0,311.1 477.6,314.4 478.2,324.4 478.8,323.9 479.4,325.0 480.0,320.4 480.6,322.7 481.2,321.1 481.8,324.8 482.4,324.1 483.0,328.5 483.6,316.6 484.2,319.3 484.8,316.3 485.4,320.5 486.0,318.8 486.6,325.7 487.2,320.1 487.8,320.2 488.4,314.7 489.0,316.4 489.6,314.8 490.2,317.6 490.8,313.9 491.4,314.9 492.0,312.2 492.6,313.4 493.2,312.4 493.8,317.9 494.4,314.7 495.0,320.8 495.6,312.6 496.2,316.1 496.8,312.6 497.4,318.2 498.0,316.5 498.6,318.1 499.2,310.9 499.8,317.6 500.4,310.1 501.0,316.5 501.6,311.9 502.2,314.2 502.8,310.6 503.4,311.4 504.0,309.1 504.6,311.6 505.2,312.7 505.8,317.8 506.4,317.4 507.0,317.5 507.6,313.3 508.2,314.7 508.8,310.8 509.4,315.9 510.0,316.6 510.6,320.7 511.2,312.9 511.8,314.0 512.4,307.9 513.0,311.1 513.6,311.3 514.2,316.1 514.8,313.0 515.4,315.5 516.0,311.6 516.6,315.9 517.2,314.6 517.8,318.7 518.4,317.2 519.0,320.6 519.6,313.1 520.2,314.8 520.8,309.8 521.4,312.3 522.0,307.6 522.6,314.5 523.2,309.8 523.8,312.4 524.4,309.2 525.0,311.2 525.6,310.6 526.2,314.6 526.8,314.3 527.4,317.9 528.0,314.4 528.6,316.1 529.2,312.8 529.8,319.5 530.4,317.2 531.0,325.2 531.6,322.4 532.2,335.6 532.8,349.0 533.4,358.1 534.0,358.7" fill="none" stroke="#000" stroke-width="1.15"/>
<polyline points="44.0,360.4 44.6,353.9 45.2,351.1 45.8,346.8 46.4,346.9 47.0,342.0 47.6,337.3 48.2,329.9 48.8,329.0 49.4,323.5 50.0,322.8 50.6,321.5 51.2,324.1 51.8,320.4 52.4,319.7 53.0,313.6 53.6,313.4 54.2,309.9 54.8,312.5 55.4,312.2 56.0,312.9 56.6,313.7 57.2,316.6 57.8,315.4 58.4,321.4 59.0,322.2 59.6,325.5 60.2,322.9 60.8,325.3 61.4,326.8 62.0,332.0 62.6,334.0 63.2,335.2 63.8,332.5 64.4,331.3 65.0,322.7 65.6,317.5 66.2,315.8 66.8,317.7 67.4,314.0 68.0,314.6 68.6,310.4 69.2,312.7 69.8,311.6 70.4,316.1 71.0,314.1 71.6,314.1 72.2,313.5 72.8,318.5 73.4,317.0 74.0,322.1 74.6,323.5 75.2,330.5 75.8,330.8 76.4,328.5 77.0,320.7 77.6,317.1 78.2,312.7 78.8,314.7 79.4,312.7 80.0,314.4 80.6,310.1 81.2,310.7 81.8,309.2 82.4,313.4 83.0,314.1 83.6,315.4 84.2,312.5 84.8,311.6 85.4,305.6 86.0,306.6 86.6,303.3 87.2,305.4 87.8,299.5 88.4,299.2 89.0,297.2 89.6,302.2 90.2,303.1 90.8,307.4 91.4,308.6 92.0,310.2 92.6,306.2 93.2,306.9 93.8,304.2 94.4,307.5 95.0,306.7 95.6,310.4 96.2,306.2 96.8,308.4 97.4,307.2 98.0,310.0 98.6,310.3 99.2,314.1 99.8,310.8 100.4,311.8 101.0,308.6 101.6,310.7 102.2,310.2 102.8,313.9 103.4,313.4 104.0,314.6 104.6,312.3 105.2,316.9 105.8,318.0 106.4,323.7 107.0,323.1 107.6,321.2 108.2,316.0 108.8,314.1 109.4,309.4 110.0,310.3 110.6,309.8 111.2,312.3 111.8,308.4 112.4,308.4 113.0,304.2 113.6,305.3 114.2,302.3 114.8,309.6 115.4,308.1 116.0,310.0 116.6,309.4 117.2,312.5 117.8,311.5 118.4,316.9 119.0,316.9 119.6,320.6 120.2,316.0 120.8,314.3 121.4,309.7 122.0,310.9 122.6,308.0 123.2,309.6 123.8,306.9 124.4,306.1 125.0,304.0 125.6,305.9 126.2,305.4 126.8,310.1 127.4,311.7 128.0,317.0 128.6,316.3 129.2,316.6 129.8,313.3 130.4,313.4 131.0,312.6 131.6,314.8 132.2,313.8 132.8,314.7 133.4,311.2 134.0,310.1 134.6,306.3 135.2,307.3 135.8,305.4 136.4,307.8 137.0,305.4 137.6,305.9 138.2,301.6 138.8,301.9 139.4,303.6 140.0,312.4 140.6,314.6 141.2,322.3 141.8,321.4 142.4,324.5 143.0,323.3 143.6,325.1 144.2,322.5 144.8,324.3 145.4,320.3 146.0,321.0 146.6,317.2 147.2,320.3 147.8,318.7 148.4,321.5 149.0,319.5 149.6,318.3 150.2,313.9 150.8,313.2 151.4,311.8 152.0,317.9 152.6,320.6 153.2,327.7 153.8,325.0 154.4,328.8 155.0,325.0 155.6,327.6 156.2,319.8 156.8,317.3 157.4,309.2 158.0,310.5 158.6,308.0 159.2,312.2 159.8,313.5 160.4,318.6 161.0,318.4 161.6,319.7 162.2,314.0 162.8,313.5 163.4,312.2 164.0,314.9 164.6,308.3 165.2,308.8 165.8,303.7 166.4,305.2 166.9,305.3 167.5,309.5 168.1,311.5 168.7,316.8 169.3,317.8 169.9,320.8 170.5,320.1 171.1,323.2 171.7,323.0 172.3,326.2 172.9,320.5 173.5,320.2 174.1,315.0 174.7,315.9 175.3,315.5 175.9,320.7 176.5,321.8 177.1,326.1 177.7,322.4 178.3,321.9 178.9,317.9 179.5,320.0 180.1,318.4 180.7,321.8 181.3,322.6 181.9,323.7 182.5,319.4 183.1,320.0 183.7,316.0 184.3,317.4 184.9,316.8 185.5,321.2 186.1,319.9 186.7,321.0 187.3,319.2 187.9,322.4 188.5,322.4 189.1,328.0 189.7,328.4 190.3,334.9 190.9,331.4 191.5,330.5 192.1,324.3 192.7,324.5 193.3,318.1 193.9,316.1 194.5,311.0 195.1,310.2 195.7,305.3 196.3,305.6 196.9,303.1 197.5,309.9 198.1,307.7 198.7,308.3 199.3,304.6 199.9,307.7 200.5,307.8 201.1,311.5 201.7,308.9 202.3,309.5 202.9,306.7 203.5,311.5 204.1,314.6 204.7,327.4 205.3,345.3 205.9,358.3 206.5,353.7 207.1,355.7 207.7,355.2 208.3,357.9 208.9,355.8 209.5,356.9 210.1,353.5 210.7,351.4 211.3,339.6 211.9,335.6 212.5,323.6 213.1,323.2 213.7,318.8 214.3,317.8 214.9,313.7 215.5,313.6 216.1,308.2 216.7,309.3 217.3,306.3 217.9,307.7 218.5,304.4 219.1,305.9 219.7,303.7 220.3,307.2 220.9,307.5 221.5,311.9 222.1,311.0 222.7,311.5 223.3,307.3 223.9,307.6 224.5,303.2 225.1,309.7 225.7,310.0 226.3,313.1 226.9,310.1 227.5,310.8 228.1,308.7 228.7,311.1 229.3,310.3 229.9,311.5 230.5,308.3 231.1,311.7 231.7,310.7 232.3,319.0 232.9,322.1 233.5,328.9 234.1,331.0 234.7,334.3 235.3,332.2 235.9,333.8 236.5,333.3 237.1,337.7 237.7,333.6 238.3,336.0 238.9,331.2 239.5,328.5 240.1,323.4 240.7,323.5 241.3,320.4 241.9,318.3 242.5,312.2 243.1,308.5 243.7,308.4 244.3,313.8 244.9,315.7 245.5,319.5 246.1,318.5 246.7,321.0 247.3,318.8 247.9,321.1 248.5,319.6 249.1,321.5 249.7,319.5 250.3,318.3 250.9,314.9 251.5,315.6 252.1,314.1 252.7,317.8 253.3,314.9 253.9,313.5 254.5,308.3 255.1,308.2 255.7,306.3 256.3,308.4 256.9,307.9 257.5,311.9 258.1,311.4 258.7,314.7 259.3,314.4 259.9,318.6 260.5,318.8 261.1,321.9 261.7,319.0 262.3,319.7 262.9,318.5 263.5,322.5 264.1,322.2 264.7,328.2 265.3,323.8 265.9,323.8 266.5,316.1 267.1,317.0 267.7,314.2 268.3,317.5 268.9,313.4 269.5,313.7 270.1,309.8 270.7,309.1 271.3,307.6 271.9,310.5 272.5,309.8 273.1,311.8 273.7,308.2 274.3,309.0 274.9,309.6 275.5,314.4 276.1,313.9 276.7,315.2 277.3,311.0 277.9,311.3 278.5,308.6 279.1,312.0 279.7,311.6 280.3,316.0 280.9,312.0 281.5,311.6 282.1,307.4 282.7,307.2 283.3,304.8 283.9,307.8 284.5,306.2 285.1,310.0 285.7,309.0 286.3,311.8 286.9,308.2 287.5,309.1 288.1,305.3 288.7,306.5 289.3,302.6 289.9,306.8 290.5,308.1 291.1,312.1 291.7,309.5 292.3,309.8 292.9,305.1 293.5,309.5 294.1,309.4 294.7,314.2 295.3,310.9 295.9,313.4 296.5,308.1 297.1,309.8 297.7,308.8 298.3,314.5 298.9,313.2 299.5,315.2 300.1,313.9 300.7,316.3 301.3,317.3 301.9,320.9 302.5,321.1 303.1,323.8 303.7,322.7 304.3,323.2 304.9,319.4 305.5,320.1 306.1,317.1 306.7,316.4 307.3,311.5 307.9,311.0 308.5,308.4 309.1,309.8 309.7,308.6 310.3,310.2 310.9,305.0 311.5,306.7 312.1,302.3 312.7,305.6 313.3,303.5 313.9,305.6 314.5,302.6 315.1,303.6 315.7,300.2 316.3,305.6 316.9,305.7 317.5,309.6 318.1,307.9 318.7,308.9 319.3,304.7 319.9,306.9 320.5,306.2 321.1,309.1 321.7,306.3 322.3,306.8 322.9,303.8 323.5,308.2 324.1,308.5 324.7,312.0 325.3,312.0 325.9,315.2 326.5,314.6 327.1,317.2 327.7,313.2 328.3,315.8 328.9,315.1 329.5,318.0 330.1,316.9 330.7,319.6 331.3,320.4 331.9,324.4 332.5,324.0 333.1,328.2 333.7,325.8 334.3,325.9 334.9,322.8 335.5,327.6 336.1,327.3 336.7,324.3 337.3,317.0 337.9,313.1 338.5,308.8 339.1,309.4 339.7,305.2 340.3,306.0 340.9,301.7 341.5,304.6 342.1,303.9 342.7,308.8 343.3,309.4 343.9,314.1 344.5,310.5 345.1,310.2 345.7,306.6 346.3,307.2 346.9,310.9 347.5,318.1 348.1,318.9 348.7,321.7 349.3,321.4 349.9,324.4 350.5,324.5 351.1,328.3 351.7,328.1 352.3,330.9 352.9,324.7 353.5,322.2 354.1,315.2 354.7,313.5 355.3,310.3 355.9,311.0 356.5,306.8 357.1,308.7 357.7,304.1 358.3,304.8 358.9,302.6 359.5,305.2 360.1,304.7 360.7,307.9 361.3,307.0 361.9,309.6 362.5,307.3 363.1,309.6 363.7,309.8 364.3,313.9 364.9,312.7 365.5,313.4 366.1,309.5 366.7,310.2 367.3,322.9 367.9,340.1 368.5,351.6 369.1,360.4 369.7,357.8 370.3,360.0 370.9,358.2 371.5,361.3 372.1,360.0 372.7,362.6 373.3,360.7 373.9,345.2 374.5,327.9 375.1,320.9 375.7,317.0 376.3,318.8 376.9,315.7 377.5,315.4 378.1,312.6 378.7,315.6 379.3,313.9 379.9,315.5 380.5,310.5 381.1,309.0 381.7,306.0 382.3,309.0 382.9,311.0 383.5,316.1 384.1,315.4 384.7,317.3 385.3,314.3 385.9,314.1 386.5,309.8 387.1,310.9 387.7,308.5 388.3,311.7 388.9,306.2 389.5,308.1 390.1,305.8 390.7,308.8 391.3,307.2 391.9,310.3 392.5,305.0 393.1,305.5 393.7,301.2 394.3,304.1 394.9,303.3 395.5,307.6 396.1,306.3 396.7,309.7 397.3,310.4 397.9,315.0 398.5,315.3 399.1,319.8 399.7,320.8 400.3,322.1 400.9,317.0 401.5,316.1 402.1,311.5 402.7,315.3 403.3,315.7 403.9,321.5 404.5,317.8 405.1,321.9 405.7,319.3 406.3,321.8 406.9,318.2 407.5,318.4 408.1,315.3 408.7,315.6 409.3,311.4 409.9,312.0 410.5,308.5 411.1,309.8 411.6,308.2 412.2,309.3 412.8,308.9 413.4,311.6 414.0,311.7 414.6,314.6 415.2,314.7 415.8,319.5 416.4,318.4 417.0,320.3 417.6,317.8 418.2,318.6 418.8,319.2 419.4,322.1 420.0,320.3 420.6,326.7 421.2,322.8 421.8,324.8 422.4,322.7 423.0,323.1 423.6,320.3 424.2,320.9 424.8,317.6 425.4,316.7 426.0,311.9 426.6,312.6 427.2,311.1 427.8,315.1 428.4,314.2 429.0,318.2 429.6,317.1 430.2,318.2 430.8,314.6 431.4,316.1 432.0,313.7 432.6,316.2 433.2,314.8 433.8,317.0 434.4,314.1 435.0,316.3 435.6,314.7 436.2,319.0 436.8,318.8 437.4,323.3 438.0,323.1 438.6,324.2 439.2,319.7 439.8,320.7 440.4,318.8 441.0,321.6 441.6,319.7 442.2,319.6 442.8,313.8 443.4,312.5 444.0,307.4 444.6,309.5 445.2,309.1 445.8,311.6 446.4,309.7 447.0,311.0 447.6,309.3 448.2,311.6 448.8,308.8 449.4,313.1 450.0,311.4 450.6,311.5 451.2,309.4 451.8,310.0 452.4,309.1 453.0,311.7 453.6,310.2 454.2,312.2 454.8,309.2 455.4,310.7 456.0,309.1 456.6,310.6 457.2,308.9 457.8,311.2 458.4,309.5 459.0,309.5 459.6,305.1 460.2,305.1 460.8,301.4 461.4,305.7 462.0,304.6 462.6,307.0 463.2,304.9 463.8,308.2 464.4,306.8 465.0,311.4 465.6,310.5 466.2,316.4 466.8,314.3 467.4,316.7 468.0,312.4 468.6,313.6 469.2,313.0 469.8,316.5 470.4,315.4 471.0,320.4 471.6,316.5 472.2,315.6 472.8,310.8 473.4,312.0 474.0,309.9 474.6,312.9 475.2,310.1 475.8,308.8 476.4,304.1 477.0,305.6 477.6,307.4 478.2,317.2 478.8,316.2 479.4,318.4 480.0,316.7 480.6,317.4 481.2,316.1 481.8,319.7 482.4,319.1 483.0,319.5 483.6,314.1 484.2,313.5 484.8,312.0 485.4,315.4 486.0,315.4 486.6,319.8 487.2,315.3 487.8,313.9 488.4,308.6 489.0,311.6 489.6,309.2 490.2,311.3 490.8,308.2 491.4,310.1 492.0,307.1 492.6,308.7 493.2,308.6 493.8,312.2 494.4,312.7 495.0,315.1 495.6,312.4 496.2,312.5 496.8,312.4 497.4,313.8 498.0,312.1 498.6,314.5 499.2,310.4 499.8,310.7 500.4,306.7 501.0,309.0 501.6,306.3 502.2,307.5 502.8,302.0 503.4,304.8 504.0,304.4 504.6,308.0 505.2,308.3 505.8,313.5 506.4,312.1 507.0,314.5 507.6,310.5 508.2,310.5 508.8,307.9 509.4,312.1 510.0,312.8 510.6,316.1 511.2,310.9 511.8,309.4 512.4,304.5 513.0,306.5 513.6,307.2 514.2,310.2 514.8,308.0 515.4,310.5 516.0,308.5 516.6,311.9 517.2,311.2 517.8,314.1 518.4,312.5 519.0,314.7 519.6,309.9 520.2,309.7 520.8,305.0 521.4,306.7 522.0,305.3 522.6,307.9 523.2,304.4 523.8,306.6 524.4,303.7 525.0,307.0 525.6,306.5 526.2,310.1 526.8,309.6 527.4,313.6 528.0,311.2 528.6,313.0 529.2,312.0 529.8,315.9 530.4,315.2 531.0,318.2 531.6,316.1 532.2,332.2 532.8,346.9 533.4,356.1 534.0,356.7" fill="none" stroke="#0f0" stroke-width="1.2"/>
<polyline points="44.0,360.9 44.6,350.7 45.2,351.3 45.8,345.8 46.4,346.8 47.0,341.9 47.6,344.2 48.2,333.4 48.8,332.9 49.4,326.4 50.0,326.3 50.6,324.7 51.2,328.3 51.8,324.0 52.4,324.1 53.0,317.4 53.6,317.0 54.2,313.0 54.8,317.0 55.4,316.5 56.0,316.8 56.6,314.2 57.2,316.9 57.8,315.9 58.4,324.0 59.0,323.2 59.6,325.7 60.2,320.4 60.8,325.5 61.4,326.1 62.0,333.4 62.6,332.0 63.2,336.8 63.8,333.2 64.4,335.1 65.0,328.0 65.6,322.9 66.2,319.6 66.8,322.6 67.4,318.3 68.0,318.4 68.6,312.4 69.2,315.9 69.8,314.0 70.4,318.1 71.0,317.5 71.6,318.9 72.2,315.9 72.8,321.2 73.4,318.8 74.0,325.0 74.6,325.8 75.2,332.7 75.8,332.3 76.4,330.6 77.0,319.3 77.6,318.7 78.2,313.8 78.8,316.9 79.4,314.5 80.0,316.2 80.6,312.0 81.2,311.8 81.8,311.1 82.4,316.0 83.0,315.5 83.6,318.0 84.2,313.8 84.8,312.9 85.4,307.0 86.0,308.0 86.6,304.2 87.2,306.9 87.8,300.9 88.4,299.4 89.0,296.1 89.6,302.0 90.2,302.2 90.8,308.0 91.4,308.2 92.0,310.2 92.6,306.4 93.2,305.7 93.8,303.1 94.4,307.2 95.0,305.2 95.6,310.2 96.2,305.7 96.8,307.7 97.4,305.8 98.0,309.8 98.6,308.7 99.2,313.9 99.8,310.1 100.4,311.4 101.0,308.6 101.6,310.7 102.2,310.5 102.8,314.9 103.4,314.7 104.0,315.2 104.6,311.4 105.2,317.0 105.8,317.2 106.4,324.5 107.0,323.7 107.6,322.0 108.2,315.0 108.8,313.3 109.4,308.4 110.0,310.5 110.6,308.4 111.2,313.0 111.8,308.2 112.4,308.1 113.0,303.8 113.6,304.5 114.2,302.1 114.8,307.4 115.4,307.9 116.0,310.9 116.6,307.6 117.2,311.2 117.8,310.2 118.4,317.3 119.0,316.4 119.6,320.2 120.2,314.4 120.8,314.0 121.4,307.6 122.0,309.6 122.6,307.1 123.2,309.6 123.8,306.9 124.4,305.8 125.0,302.3 125.6,305.0 126.2,302.9 126.8,309.9 127.4,311.0 128.0,317.0 128.6,316.1 129.2,316.1 129.8,309.7 130.4,313.0 131.0,309.5 131.6,313.9 132.2,312.6 132.8,316.4 133.4,308.7 134.0,311.5 134.6,303.7 135.2,305.9 135.8,303.7 136.4,306.8 137.0,304.4 137.6,304.5 138.2,297.1 138.8,300.5 139.4,302.0 140.0,311.2 140.6,314.2 141.2,321.4 141.8,319.3 142.4,322.1 143.0,319.3 143.6,323.3 144.2,319.5 144.8,324.9 145.4,318.5 146.0,318.3 146.6,314.0 147.2,317.3 147.8,315.0 148.4,319.0 149.0,317.3 149.6,317.0 150.2,310.9 150.8,311.5 151.4,308.9 152.0,318.3 152.6,318.5 153.2,325.0 153.8,322.8 154.4,326.1 155.0,322.0 155.6,323.7 156.2,316.6 156.8,315.6 157.4,306.1 158.0,306.8 158.6,303.3 159.2,308.3 159.8,309.3 160.4,315.0 161.0,315.2 161.6,317.4 162.2,309.9 162.8,310.5 163.4,309.4 164.0,312.2 164.6,307.2 165.2,305.8 165.8,300.6 166.4,303.4 166.9,301.7 167.5,307.0 168.1,309.6 168.7,315.4 169.3,315.3 169.9,319.8 170.5,316.7 171.1,321.6 171.7,320.5 172.3,322.8 172.9,319.9 173.5,319.8 174.1,312.2 174.7,313.8 175.3,313.7 175.9,318.9 176.5,320.1 177.1,326.6 177.7,322.8 178.3,322.5 178.9,316.6 179.5,319.6 180.1,317.5 180.7,322.2 181.3,322.4 181.9,324.6 182.5,320.7 183.1,320.5 183.7,314.7 184.3,317.1 184.9,315.6 185.5,319.9 186.1,318.8 186.7,322.7 187.3,317.7 187.9,321.3 188.5,320.2 189.1,327.1 189.7,327.1 190.3,333.6 190.9,329.8 191.5,332.3 192.1,324.0 192.7,325.1 193.3,315.1 193.9,314.3 194.5,308.8 195.1,310.7 195.7,302.8 196.3,303.0 196.9,302.9 197.5,309.2 198.1,306.6 198.7,306.3 199.3,301.5 199.9,306.8 200.5,303.7 201.1,309.9 201.7,307.4 202.3,308.3 202.9,304.9 203.5,311.2 204.1,312.4 204.7,327.1 205.3,342.4 205.9,358.3 206.5,351.6 207.1,354.2 207.7,352.7 208.3,356.3 208.9,354.6 209.5,355.1 210.1,351.3 210.7,350.7 211.3,338.7 211.9,332.6 212.5,322.0 213.1,322.1 213.7,317.4 214.3,317.8 214.9,311.6 215.5,312.2 216.1,304.8 216.7,307.8 217.3,303.1 217.9,305.8 218.5,301.2 219.1,303.4 219.7,300.9 220.3,304.4 220.9,303.6 221.5,308.1 222.1,307.4 222.7,307.5 223.3,301.9 223.9,303.4 224.5,299.9 225.1,304.9 225.7,306.0 226.3,308.7 226.9,304.0 227.5,308.1 228.1,303.2 228.7,306.3 229.3,304.3 229.9,307.2 230.5,302.2 231.1,307.2 231.7,307.6 232.3,314.1 232.9,317.2 233.5,326.5 234.1,328.1 234.7,330.8 235.3,328.7 235.9,331.6 236.5,331.1 237.1,335.6 237.7,332.8 238.3,335.0 238.9,328.4 239.5,327.7 240.1,321.9 240.7,323.1 241.3,319.1 241.9,318.0 242.5,310.2 243.1,308.9 243.7,306.6 244.3,314.0 244.9,315.2 245.5,319.6 246.1,317.1 246.7,320.3 247.3,316.9 247.9,320.9 248.5,318.5 249.1,321.3 249.7,315.8 250.3,318.8 250.9,312.9 251.5,313.1 252.1,312.2 252.7,317.7 253.3,313.4 253.9,315.1 254.5,306.6 255.1,306.8 255.7,304.8 256.3,307.3 256.9,306.4 257.5,310.9 258.1,310.1 258.7,313.8 259.3,312.6 259.9,317.8 260.5,318.4 261.1,321.1 261.7,317.4 262.3,317.9 262.9,315.7 263.5,320.6 264.1,317.9 264.7,325.9 265.3,322.1 265.9,320.8 266.5,312.6 267.1,313.3 267.7,311.2 268.3,314.2 268.9,309.8 269.5,314.1 270.1,305.8 270.7,305.6 271.3,304.5 271.9,307.6 272.5,306.9 273.1,308.9 273.7,303.8 274.3,306.6 274.9,306.3 275.5,312.0 276.1,311.6 276.7,312.2 277.3,308.0 277.9,309.3 278.5,306.4 279.1,309.4 279.7,308.4 280.3,313.2 280.9,309.0 281.5,308.9 282.1,304.7 282.7,305.7 283.3,301.6 283.9,304.9 284.5,304.3 285.1,308.6 285.7,307.5 286.3,309.9 286.9,305.0 287.5,306.0 288.1,301.4 288.7,304.5 289.3,299.7 289.9,306.0 290.5,305.3 291.1,308.9 291.7,305.6 292.3,306.9 292.9,302.8 293.5,309.2 294.1,305.5 294.7,310.9 295.3,307.7 295.9,308.7 296.5,303.6 297.1,306.2 297.7,306.6 298.3,311.3 298.9,310.5 299.5,312.0 300.1,310.7 300.7,313.6 301.3,312.8 301.9,319.3 302.5,317.8 303.1,320.6 303.7,318.8 304.3,320.4 304.9,317.4 305.5,319.1 306.1,315.9 306.7,314.8 307.3,309.5 307.9,309.8 308.5,306.7 309.1,309.5 309.7,306.9 310.3,311.2 310.9,305.9 311.5,306.2 312.1,300.9 312.7,305.2 313.3,303.0 313.9,306.3 314.5,299.4 315.1,303.6 315.7,300.6 316.3,306.0 316.9,305.1 317.5,309.5 318.1,307.8 318.7,308.9 319.3,303.2 319.9,306.4 320.5,304.0 321.1,309.9 321.7,305.5 322.3,308.7 322.9,302.3 323.5,307.1 324.1,305.6 324.7,311.8 325.3,311.0 325.9,315.9 326.5,311.6 327.1,316.4 327.7,311.8 328.3,317.2 328.9,313.6 329.5,317.8 330.1,314.8 330.7,319.1 331.3,318.7 331.9,324.1 332.5,323.0 333.1,328.8 333.7,325.1 334.3,325.7 334.9,319.0 335.5,327.8 336.1,326.0 336.7,325.2 337.3,315.6 337.9,312.0 338.5,307.5 339.1,310.1 339.7,304.7 340.3,306.8 340.9,302.0 341.5,303.6 342.1,301.0 342.7,308.2 343.3,309.4 343.9,314.2 344.5,310.2 345.1,310.3 345.7,304.9 346.3,307.2 346.9,310.4 347.5,319.0 348.1,318.7 348.7,321.5 349.3,319.3 349.9,326.1 350.5,324.8 351.1,328.0 351.7,328.4 352.3,331.2 352.9,324.7 353.5,321.8 354.1,312.4 354.7,313.9 355.3,309.5 355.9,310.3 356.5,307.0 357.1,310.8 357.7,303.0 358.3,304.3 358.9,300.7 359.5,304.4 360.1,303.8 360.7,307.3 361.3,305.5 361.9,308.3 362.5,305.9 363.1,308.5 363.7,308.4 364.3,313.3 364.9,311.1 365.5,312.3 366.1,306.7 366.7,308.6 367.3,321.3 367.9,338.1 368.5,349.1 369.1,358.3 369.7,355.8 370.3,360.7 370.9,356.2 371.5,361.4 372.1,358.5 372.7,361.9 373.3,358.8 373.9,344.2 374.5,325.6 375.1,319.5 375.7,313.8 376.3,317.6 376.9,311.1 377.5,315.0 378.1,310.3 378.7,314.1 379.3,310.8 379.9,314.9 380.5,308.2 381.1,309.8 381.7,304.0 382.3,306.4 382.9,308.5 383.5,314.8 384.1,313.9 384.7,315.9 385.3,312.4 385.9,312.0 386.5,306.6 387.1,309.4 387.7,306.9 388.3,310.3 388.9,306.0 389.5,306.2 390.1,302.6 390.7,306.7 391.3,305.3 391.9,308.6 392.5,303.3 393.1,303.8 393.7,297.7 394.3,302.4 394.9,301.0 395.5,304.8 396.1,303.6 396.7,307.8 397.3,306.7 397.9,313.1 398.5,312.6 399.1,320.2 399.7,317.6 400.3,320.5 400.9,313.3 401.5,314.2 402.1,308.2 402.7,312.9 403.3,313.0 403.9,317.8 404.5,316.5 405.1,319.3 405.7,314.4 406.3,318.9 406.9,313.8 407.5,315.9 408.1,312.3 408.7,312.8 409.3,308.0 409.9,308.1 410.5,304.7 411.1,306.5 411.6,302.5 412.2,306.7 412.8,304.2 413.4,308.7 414.0,306.7 414.6,311.1 415.2,311.0 415.8,317.6 416.4,316.0 417.0,317.1 417.6,313.9 418.2,316.5 418.8,316.1 419.4,319.7 420.0,320.4 420.6,323.9 421.2,320.2 421.8,322.4 422.4,320.3 423.0,323.2 423.6,317.7 424.2,319.5 424.8,315.3 425.4,315.0 426.0,309.1 426.6,310.1 427.2,309.0 427.8,315.0 428.4,312.2 429.0,318.6 429.6,315.9 430.2,317.6 430.8,313.6 431.4,314.5 432.0,313.3 432.6,315.6 433.2,314.7 433.8,316.4 434.4,313.3 435.0,317.1 435.6,315.2 436.2,319.4 436.8,319.4 437.4,325.1 438.0,323.3 438.6,324.8 439.2,319.2 439.8,320.7 440.4,319.9 441.0,322.8 441.6,320.7 442.2,321.3 442.8,314.1 443.4,312.8 444.0,306.4 444.6,309.8 445.2,307.0 445.8,312.2 446.4,310.4 447.0,311.6 447.6,308.9 448.2,310.9 448.8,309.7 449.4,314.5 450.0,308.5 450.6,311.3 451.2,307.1 451.8,308.0 452.4,306.9 453.0,310.2 453.6,308.4 454.2,310.5 454.8,307.5 455.4,309.3 456.0,304.5 456.6,307.2 457.2,305.0 457.8,308.0 458.4,306.2 459.0,308.0 459.6,302.3 460.2,303.1 460.8,299.1 461.4,305.1 462.0,301.7 462.6,304.9 463.2,302.0 463.8,305.7 464.4,303.9 465.0,309.1 465.6,310.4 466.2,315.5 466.8,312.7 467.4,313.9 468.0,309.8 468.6,311.2 469.2,310.4 469.8,315.6 470.4,315.0 471.0,320.9 471.6,315.6 472.2,315.9 472.8,309.3 473.4,311.3 474.0,309.2 474.6,313.1 475.2,309.7 475.8,308.0 476.4,301.0 477.0,304.2 477.6,306.5 478.2,316.1 478.8,313.0 479.4,319.4 480.0,315.0 480.6,316.8 481.2,315.3 481.8,319.6 482.4,318.9 483.0,319.5 483.6,312.8 484.2,313.0 484.8,307.9 485.4,315.1 486.0,315.0 486.6,320.0 487.2,315.0 487.8,314.5 488.4,309.2 489.0,311.8 489.6,308.1 490.2,311.2 490.8,308.0 491.4,310.4 492.0,305.9 492.6,308.3 493.2,306.1 493.8,311.9 494.4,311.4 495.0,314.4 495.6,310.4 496.2,312.9 496.8,310.9 497.4,313.1 498.0,310.6 498.6,314.5 499.2,309.3 499.8,310.7 500.4,304.9 501.0,307.5 501.6,304.9 502.2,307.6 502.8,299.8 503.4,304.7 504.0,302.4 504.6,305.8 505.2,306.8 505.8,312.4 506.4,311.7 507.0,313.7 507.6,308.6 508.2,309.0 508.8,304.4 509.4,311.0 510.0,311.1 510.6,314.1 511.2,308.9 511.8,308.2 512.4,301.9 513.0,304.7 513.6,305.2 514.2,309.9 514.8,307.5 515.4,309.5 516.0,305.9 516.6,310.9 517.2,309.2 517.8,313.6 518.4,308.7 519.0,312.9 519.6,307.9 520.2,307.6 520.8,303.1 521.4,304.3 522.0,303.2 522.6,307.9 523.2,302.5 523.8,304.9 524.4,301.5 525.0,303.8 525.6,301.0 526.2,309.1 526.8,307.7 527.4,312.7 528.0,309.8 528.6,310.7 529.2,310.3 529.8,315.0 530.4,314.0 531.0,318.5 531.6,314.3 532.2,331.3 532.8,344.1 533.4,354.3 534.0,354.9" fill="none" stroke="#f00" stroke-width="1.1"/>
<line x1="44.0" y1="15.9" x2="44.0" y2="119.6" stroke="#8a8a8a" stroke-width="1"/>
<line x1="44.0" y1="119.6" x2="534.0" y2="119.6" stroke="#8a8a8a" stroke-width="1"/>
<line x1="44.0" y1="15.9" x2="49.0" y2="15.9" stroke="#8a8a8a" stroke-width="1"/>
<text transform="translate(39.40,19.20) scale(1,1.05)" text-anchor="end" class="t">10</text>
<line x1="44.0" y1="48.6" x2="49.0" y2="48.6" stroke="#8a8a8a" stroke-width="1"/>
<text transform="translate(39.40,51.90) scale(1,1.05)" text-anchor="end" class="t">0</text>
<line x1="44.0" y1="81.4" x2="49.0" y2="81.4" stroke="#8a8a8a" stroke-width="1"/>
<text transform="translate(39.40,84.70) scale(1,1.05)" text-anchor="end" class="t">-10</text>
<line x1="44.0" y1="114.2" x2="49.0" y2="114.2" stroke="#8a8a8a" stroke-width="1"/>
<text transform="translate(39.40,117.50) scale(1,1.05)" text-anchor="end" class="t">-20</text>
<line x1="44.0" y1="119.6" x2="44.0" y2="114.6" stroke="#8a8a8a" stroke-width="1"/>
<line x1="95.5" y1="119.6" x2="95.5" y2="114.6" stroke="#8a8a8a" stroke-width="1"/>
<line x1="147.0" y1="119.6" x2="147.0" y2="114.6" stroke="#8a8a8a" stroke-width="1"/>
<line x1="198.5" y1="119.6" x2="198.5" y2="114.6" stroke="#8a8a8a" stroke-width="1"/>
<line x1="250.0" y1="119.6" x2="250.0" y2="114.6" stroke="#8a8a8a" stroke-width="1"/>
<line x1="301.5" y1="119.6" x2="301.5" y2="114.6" stroke="#8a8a8a" stroke-width="1"/>
<line x1="353.0" y1="119.6" x2="353.0" y2="114.6" stroke="#8a8a8a" stroke-width="1"/>
<line x1="404.5" y1="119.6" x2="404.5" y2="114.6" stroke="#8a8a8a" stroke-width="1"/>
<line x1="456.0" y1="119.6" x2="456.0" y2="114.6" stroke="#8a8a8a" stroke-width="1"/>
<line x1="507.5" y1="119.6" x2="507.5" y2="114.6" stroke="#8a8a8a" stroke-width="1"/>
<text transform="translate(44.00,133.00) scale(1,1.05)" text-anchor="middle" class="t">0</text>
<text transform="translate(95.50,133.00) scale(1,1.05)" text-anchor="middle" class="t">20</text>
<text transform="translate(147.00,133.00) scale(1,1.05)" text-anchor="middle" class="t">40</text>
<text transform="translate(198.30,133.00) scale(1,1.05)" text-anchor="middle" class="t">60</text>
<text transform="translate(211.50,133.00) scale(1,1.05)" text-anchor="middle" class="t">0</text>
<text transform="translate(263.00,133.00) scale(1,1.05)" text-anchor="middle" class="t">20</text>
<text transform="translate(314.20,133.00) scale(1,1.05)" text-anchor="middle" class="t">40</text>
<text transform="translate(365.90,133.00) scale(1,1.05)" text-anchor="middle" class="t">60</text>
<text transform="translate(373.90,133.00) scale(1,1.05)" text-anchor="middle" class="t">0</text>
<text transform="translate(425.60,133.00) scale(1,1.05)" text-anchor="middle" class="t">20</text>
<text transform="translate(477.40,133.00) scale(1,1.05)" text-anchor="middle" class="t">40</text>
<text transform="translate(528.60,133.00) scale(1,1.05)" text-anchor="middle" class="t">60</text>
<text transform="translate(271.40,143.70) scale(1,1.05)" text-anchor="middle" class="t">Time in s</text>
<text x="0" y="0" transform="translate(19.2,69.0) rotate(-90) scale(1,1.05)" text-anchor="middle" class="t yl">Guiding force in N [X-Axis]</text>
<line x1="44.0" y1="146.2" x2="44.0" y2="250.0" stroke="#8a8a8a" stroke-width="1"/>
<line x1="44.0" y1="250.0" x2="534.0" y2="250.0" stroke="#8a8a8a" stroke-width="1"/>
<line x1="44.0" y1="151.5" x2="49.0" y2="151.5" stroke="#8a8a8a" stroke-width="1"/>
<text transform="translate(39.40,154.80) scale(1,1.05)" text-anchor="end" class="t">20</text>
<line x1="44.0" y1="184.3" x2="49.0" y2="184.3" stroke="#8a8a8a" stroke-width="1"/>
<text transform="translate(39.40,187.60) scale(1,1.05)" text-anchor="end" class="t">10</text>
<line x1="44.0" y1="217.1" x2="49.0" y2="217.1" stroke="#8a8a8a" stroke-width="1"/>
<text transform="translate(39.40,220.40) scale(1,1.05)" text-anchor="end" class="t">0</text>
<text transform="translate(39.40,253.30) scale(1,1.05)" text-anchor="end" class="t">-10</text>
<line x1="44.0" y1="250.0" x2="44.0" y2="245.0" stroke="#8a8a8a" stroke-width="1"/>
<line x1="95.5" y1="250.0" x2="95.5" y2="245.0" stroke="#8a8a8a" stroke-width="1"/>
<line x1="147.0" y1="250.0" x2="147.0" y2="245.0" stroke="#8a8a8a" stroke-width="1"/>
<line x1="198.5" y1="250.0" x2="198.5" y2="245.0" stroke="#8a8a8a" stroke-width="1"/>
<line x1="250.0" y1="250.0" x2="250.0" y2="245.0" stroke="#8a8a8a" stroke-width="1"/>
<line x1="301.5" y1="250.0" x2="301.5" y2="245.0" stroke="#8a8a8a" stroke-width="1"/>
<line x1="353.0" y1="250.0" x2="353.0" y2="245.0" stroke="#8a8a8a" stroke-width="1"/>
<line x1="404.5" y1="250.0" x2="404.5" y2="245.0" stroke="#8a8a8a" stroke-width="1"/>
<line x1="456.0" y1="250.0" x2="456.0" y2="245.0" stroke="#8a8a8a" stroke-width="1"/>
<line x1="507.5" y1="250.0" x2="507.5" y2="245.0" stroke="#8a8a8a" stroke-width="1"/>
<text transform="translate(44.00,263.40) scale(1,1.05)" text-anchor="middle" class="t">0</text>
<text transform="translate(95.50,263.40) scale(1,1.05)" text-anchor="middle" class="t">20</text>
<text transform="translate(147.00,263.40) scale(1,1.05)" text-anchor="middle" class="t">40</text>
<text transform="translate(198.30,263.40) scale(1,1.05)" text-anchor="middle" class="t">60</text>
<text transform="translate(211.50,263.40) scale(1,1.05)" text-anchor="middle" class="t">0</text>
<text transform="translate(263.00,263.40) scale(1,1.05)" text-anchor="middle" class="t">20</text>
<text transform="translate(314.20,263.40) scale(1,1.05)" text-anchor="middle" class="t">40</text>
<text transform="translate(365.90,263.40) scale(1,1.05)" text-anchor="middle" class="t">60</text>
<text transform="translate(373.90,263.40) scale(1,1.05)" text-anchor="middle" class="t">0</text>
<text transform="translate(425.60,263.40) scale(1,1.05)" text-anchor="middle" class="t">20</text>
<text transform="translate(477.40,263.40) scale(1,1.05)" text-anchor="middle" class="t">40</text>
<text transform="translate(528.60,263.40) scale(1,1.05)" text-anchor="middle" class="t">60</text>
<text transform="translate(271.40,275.90) scale(1,1.05)" text-anchor="middle" class="t">Time in s</text>
<text x="0" y="0" transform="translate(19.2,198.8) rotate(-90) scale(1,1.05)" text-anchor="middle" class="t yl">Tangential  force in N [Y-Axis]</text>
<line x1="44.0" y1="276.2" x2="44.0" y2="380.0" stroke="#8a8a8a" stroke-width="1"/>
<line x1="44.0" y1="380.0" x2="534.0" y2="380.0" stroke="#8a8a8a" stroke-width="1"/>
<line x1="44.0" y1="276.2" x2="49.0" y2="276.2" stroke="#8a8a8a" stroke-width="1"/>
<text transform="translate(39.40,279.50) scale(1,1.05)" text-anchor="end" class="t">40</text>
<line x1="44.0" y1="297.0" x2="49.0" y2="297.0" stroke="#8a8a8a" stroke-width="1"/>
<text transform="translate(39.40,300.30) scale(1,1.05)" text-anchor="end" class="t">30</text>
<line x1="44.0" y1="317.7" x2="49.0" y2="317.7" stroke="#8a8a8a" stroke-width="1"/>
<text transform="translate(39.40,321.00) scale(1,1.05)" text-anchor="end" class="t">20</text>
<line x1="44.0" y1="338.5" x2="49.0" y2="338.5" stroke="#8a8a8a" stroke-width="1"/>
<text transform="translate(39.40,341.80) scale(1,1.05)" text-anchor="end" class="t">10</text>
<line x1="44.0" y1="359.2" x2="49.0" y2="359.2" stroke="#8a8a8a" stroke-width="1"/>
<text transform="translate(39.40,362.50) scale(1,1.05)" text-anchor="end" class="t">0</text>
<text transform="translate(39.40,383.30) scale(1,1.05)" text-anchor="end" class="t">-10</text>
<line x1="44.0" y1="380.0" x2="44.0" y2="375.0" stroke="#8a8a8a" stroke-width="1"/>
<line x1="95.5" y1="380.0" x2="95.5" y2="375.0" stroke="#8a8a8a" stroke-width="1"/>
<line x1="147.0" y1="380.0" x2="147.0" y2="375.0" stroke="#8a8a8a" stroke-width="1"/>
<line x1="198.5" y1="380.0" x2="198.5" y2="375.0" stroke="#8a8a8a" stroke-width="1"/>
<line x1="250.0" y1="380.0" x2="250.0" y2="375.0" stroke="#8a8a8a" stroke-width="1"/>
<line x1="301.5" y1="380.0" x2="301.5" y2="375.0" stroke="#8a8a8a" stroke-width="1"/>
<line x1="353.0" y1="380.0" x2="353.0" y2="375.0" stroke="#8a8a8a" stroke-width="1"/>
<line x1="404.5" y1="380.0" x2="404.5" y2="375.0" stroke="#8a8a8a" stroke-width="1"/>
<line x1="456.0" y1="380.0" x2="456.0" y2="375.0" stroke="#8a8a8a" stroke-width="1"/>
<line x1="507.5" y1="380.0" x2="507.5" y2="375.0" stroke="#8a8a8a" stroke-width="1"/>
<text transform="translate(44.00,394.20) scale(1,1.05)" text-anchor="middle" class="t">0</text>
<text transform="translate(95.50,394.20) scale(1,1.05)" text-anchor="middle" class="t">20</text>
<text transform="translate(147.00,394.20) scale(1,1.05)" text-anchor="middle" class="t">40</text>
<text transform="translate(198.30,394.20) scale(1,1.05)" text-anchor="middle" class="t">60</text>
<text transform="translate(211.50,394.20) scale(1,1.05)" text-anchor="middle" class="t">0</text>
<text transform="translate(263.00,394.20) scale(1,1.05)" text-anchor="middle" class="t">20</text>
<text transform="translate(314.20,394.20) scale(1,1.05)" text-anchor="middle" class="t">40</text>
<text transform="translate(365.90,394.20) scale(1,1.05)" text-anchor="middle" class="t">60</text>
<text transform="translate(373.90,394.20) scale(1,1.05)" text-anchor="middle" class="t">0</text>
<text transform="translate(425.60,394.20) scale(1,1.05)" text-anchor="middle" class="t">20</text>
<text transform="translate(477.40,394.20) scale(1,1.05)" text-anchor="middle" class="t">40</text>
<text transform="translate(528.60,394.20) scale(1,1.05)" text-anchor="middle" class="t">60</text>
<text transform="translate(271.40,406.60) scale(1,1.05)" text-anchor="middle" class="t">Time in s</text>
<text x="0" y="0" transform="translate(19.2,331.3) rotate(-90) scale(1,1.05)" text-anchor="middle" class="t yl">Normal  force in N [Z-Axis]</text>
<text transform="translate(115.20,27.20) scale(1,1.05)" text-anchor="middle" class="t2">Trial 1</text>
<text transform="translate(280.70,27.20) scale(1,1.05)" text-anchor="middle" class="t2">Trial 2</text>
<text transform="translate(449.50,27.20) scale(1,1.05)" text-anchor="middle" class="t2">Trial 3</text>
<line x1="208.5" y1="19.3" x2="208.5" y2="401.8" stroke="#8a8a8a" stroke-width="0.9"/>
<line x1="371.1" y1="19.3" x2="371.1" y2="401.8" stroke="#8a8a8a" stroke-width="0.9"/>
<rect x="390.5" y="74.6" width="135" height="38.5" fill="#ffffff" stroke="#a8a8a8" stroke-width="1"/>
<line x1="393.2" y1="81.19999999999999" x2="421" y2="81.19999999999999" stroke="#00ff00" stroke-width="1.6"/>
<line x1="393.2" y1="93.69999999999999" x2="421" y2="93.69999999999999" stroke="#ff0000" stroke-width="1.6"/>
<rect x="393.7" y="101.8" width="27.6" height="8.5" fill="#dcdcdc" stroke="#808080" stroke-width="0.8"/>
<text transform="translate(423.60,85.70) scale(1,1.05)" text-anchor="start" class="t lg">Measured tool force (F)</text>
<text transform="translate(423.60,97.80) scale(1,1.05)" text-anchor="start" class="t lg">GPR predictions (F*)</text>
<text transform="translate(423.60,110.00) scale(1,1.05)" text-anchor="start" class="t lg">95% prediction intervals</text>
<rect x="390.5" y="205.0" width="135" height="38.5" fill="#ffffff" stroke="#a8a8a8" stroke-width="1"/>
<line x1="393.2" y1="211.6" x2="421" y2="211.6" stroke="#00ff00" stroke-width="1.6"/>
<line x1="393.2" y1="224.1" x2="421" y2="224.1" stroke="#ff0000" stroke-width="1.6"/>
<rect x="393.7" y="232.2" width="27.6" height="8.5" fill="#dcdcdc" stroke="#808080" stroke-width="0.8"/>
<text transform="translate(423.60,216.10) scale(1,1.05)" text-anchor="start" class="t lg">Measured tool force (F)</text>
<text transform="translate(423.60,228.20) scale(1,1.05)" text-anchor="start" class="t lg">GPR predictions (F*)</text>
<text transform="translate(423.60,240.40) scale(1,1.05)" text-anchor="start" class="t lg">95% prediction intervals</text>
<rect x="390.5" y="335.0" width="135" height="38.5" fill="#ffffff" stroke="#a8a8a8" stroke-width="1"/>
<line x1="393.2" y1="341.6" x2="421" y2="341.6" stroke="#00ff00" stroke-width="1.6"/>
<line x1="393.2" y1="354.1" x2="421" y2="354.1" stroke="#ff0000" stroke-width="1.6"/>
<rect x="393.7" y="362.2" width="27.6" height="8.5" fill="#dcdcdc" stroke="#808080" stroke-width="0.8"/>
<text transform="translate(423.60,346.10) scale(1,1.05)" text-anchor="start" class="t lg">Measured tool force (F)</text>
<text transform="translate(423.60,358.20) scale(1,1.05)" text-anchor="start" class="t lg">GPR predictions (F*)</text>
<text transform="translate(423.60,370.40) scale(1,1.05)" text-anchor="start" class="t lg">95% prediction intervals</text>
</svg>
</body></html>
